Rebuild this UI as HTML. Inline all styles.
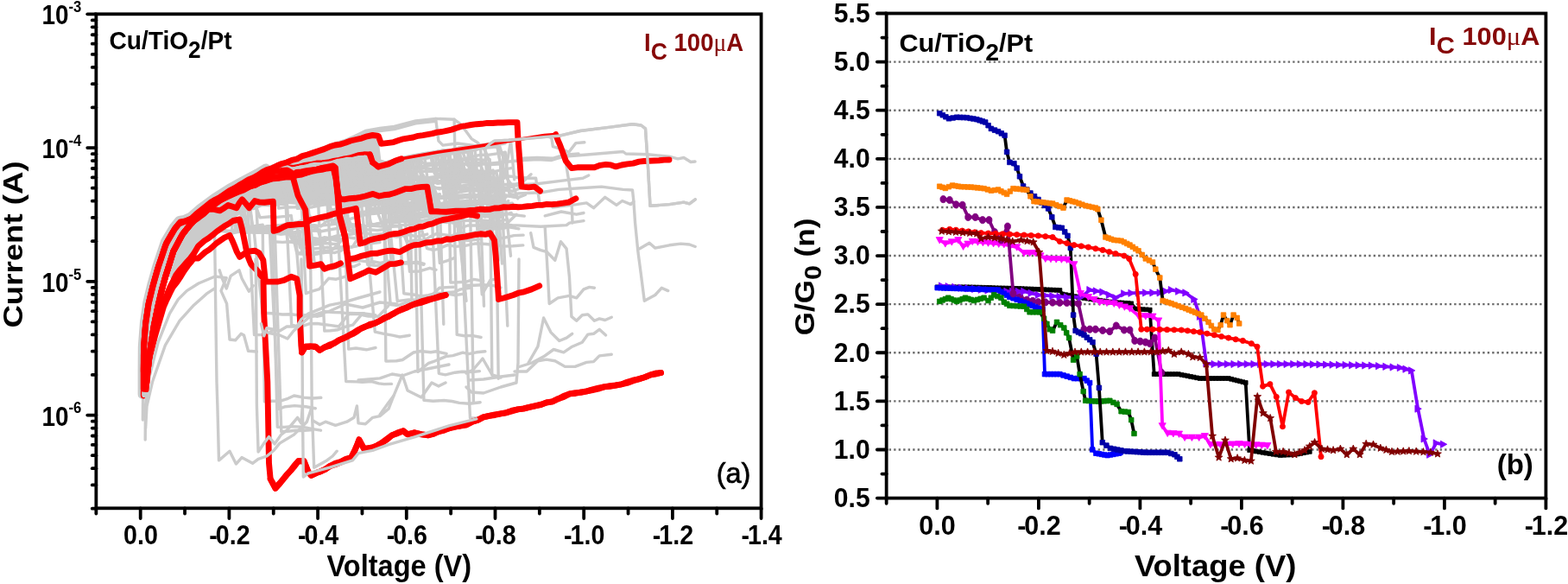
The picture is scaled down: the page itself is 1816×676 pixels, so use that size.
<!DOCTYPE html>
<html lang="en"><head><meta charset="utf-8"><title>Cu/TiO2/Pt I-V and conductance</title>
<style>html,body{margin:0;padding:0;background:#fff;overflow:hidden}svg{display:block}</style></head>
<body>
<svg width="1816" height="676" viewBox="0 0 1816 676">
<rect width="1816" height="676" fill="#fff"/>
<path d="M200.0 263.5 207.5 255.0 220.0 250.0 232.0 241.0 248.5 229.0 265.0 218.5 281.0 209.5 298.0 200.5 315.6 192.0 332.0 186.0 357.0 177.4 381.9 168.0 398.5 163.0 410.0 158.0 423.3 153.0 434.0 154.0 438.0 166.0 441.0 190.0 450.0 189.0 468.0 185.0 468.0 234.0 450.0 236.0 430.0 238.0 400.0 236.0 370.0 234.0 345.0 236.0 320.0 234.0 300.0 238.0 280.0 246.0 262.0 257.0 247.0 267.0 235.0 277.0 226.0 288.0 216.0 300.0 207.0 312.0 200.0 324.0 196.0 318.0 198.0 300.0 203.0 285.0 208.0 275.0z" fill="#cbcbcb" stroke="#cbcbcb" stroke-width="2" stroke-linejoin="round"/>
<path d="M165.1 456.4 165.1 428.4 165.3 401.4 167.4 373.4 170.8 350.4 176.1 328.4 181.8 308.4 191.4 279.8 201.1 263.5 207.6 255.4 213.8 254.4 220.6 251.4 232.0 241.4 248.3 229.4 264.8 218.9 280.9 209.9 297.9 200.9 307.8 194.9" fill="none" stroke="#cbcbcb" stroke-width="11.0" stroke-linejoin="round" stroke-linecap="round"/>
<path d="M168.4 458.0 169.5 446.0 170.5 434.0 171.8 422.0 173.1 410.1 174.7 398.2 176.5 386.3 178.5 374.4 180.9 362.6 183.4 350.8 186.2 339.1 189.2 327.5 192.6 315.9 196.2 304.4 199.8 292.9 205.1 282.2 210.8 271.6 218.4 262.3 226.8 253.8 236.2 246.3 245.8 239.0 255.7 232.1 266.6 227.1 277.8 223.0 280.0 264.7 291.0 264.5 300.8 264.1 307.1 264.8 315.5 265.4 321.3 494.2 329.7 494.4 337.2 493.6 348.9 494.1 355.0 495.1 362.3 496.6 371.5 498.2" fill="none" stroke="#cbcbcb" stroke-width="3.4" stroke-linejoin="round" stroke-linecap="round"/>
<path d="M168.2 458.0 169.1 446.0 170.0 433.9 171.1 421.9 172.4 409.9 173.8 397.9 175.5 385.9 177.4 374.0 179.7 362.2 182.2 350.3 185.0 338.6 188.1 326.9 191.5 315.3 195.1 303.8 198.7 292.3 204.0 281.5 209.8 270.9 217.5 261.7 226.3 253.6 235.7 246.0 245.3 238.8 255.2 231.9 266.1 226.7 277.3 222.2 288.7 218.4 300.3 215.5 311.9 212.1 323.4 208.6 342.3 198.6 351.1 196.2 358.4 193.7 366.2 193.4 373.4 192.8 379.9 190.3 386.4 190.3 394.6 188.2 404.1 226.7 411.7 225.9 418.5 225.7 429.2 224.5 437.8 223.6 448.5 223.4 456.7 237.0 463.6 233.1 470.7 223.5 481.5 221.7 490.8 223.3 502.9 216.7 509.2 218.8" fill="none" stroke="#cbcbcb" stroke-width="3.4" stroke-linejoin="round" stroke-linecap="round"/>
<path d="M166.7 458.0 166.8 445.6 167.0 433.3 167.3 421.0 167.6 408.6 168.3 396.3 169.4 384.0 170.7 371.7 172.6 359.5 175.0 347.4 177.9 335.3 181.1 323.4 184.4 311.5 188.3 299.8 192.2 288.1 197.4 276.9 203.7 266.3 212.0 257.6 223.0 252.8 232.4 244.7 242.2 237.2 252.3 230.1 262.8 223.7 273.6 217.7 284.6 212.1 295.7 206.9 306.6 201.2 318.0 196.5 329.7 192.5 339.4 195.6 349.6 194.2 357.9 192.4 367.3 189.7 376.5 189.5 385.6 188.5 396.0 185.6 403.4 183.8 414.3 183.4 423.9 181.7 432.9 184.0 442.1 188.4 451.8 188.4 461.9 184.3 468.4 182.8 478.5 181.3 480.9 249.4 493.9 248.5 504.0 247.6 513.9 247.7 526.1 247.4 529.2 387.4 538.0 388.8 546.7 388.4 557.1 390.5" fill="none" stroke="#cbcbcb" stroke-width="3.4" stroke-linejoin="round" stroke-linecap="round"/>
<path d="M166.6 458.0 166.7 445.6 166.8 433.3 167.0 420.9 167.3 408.5 168.0 396.2 169.0 383.9 170.3 371.6 172.2 359.3 174.5 347.2 177.4 335.2 180.6 323.2 184.0 311.3 187.9 299.5 191.8 287.8 197.0 276.7 203.3 266.0 211.6 257.4 222.8 252.7 232.2 244.6 242.0 237.2 252.1 230.0 262.6 223.5 273.4 217.5 284.4 211.8 295.4 206.3 306.3 200.5 317.6 195.7 329.3 191.7 338.1 201.2 348.5 197.9 354.9 197.2 361.7 195.4 373.0 194.7 379.7 192.1 387.1 192.3 393.8 224.9 401.7 224.8 410.6 224.8 416.3 246.7 426.2 244.2 436.3 243.7 444.0 241.5 456.2 240.6 464.3 237.8 472.1 240.0 483.8 236.7 496.7 235.9" fill="none" stroke="#cbcbcb" stroke-width="3.4" stroke-linejoin="round" stroke-linecap="round"/>
<path d="M166.3 458.0 166.4 445.6 166.4 433.2 166.5 420.8 166.6 408.3 167.2 396.0 168.2 383.6 169.4 371.2 171.2 359.0 173.5 346.8 176.4 334.7 179.6 322.7 183.0 310.8 186.9 299.0 190.9 287.2 196.1 276.0 202.4 265.3 210.9 256.8 222.4 252.6 231.7 244.4 241.6 236.9 251.7 229.7 262.2 223.1 272.9 216.8 283.8 210.9 294.8 205.1 305.6 199.0 316.9 194.0 328.6 189.8 339.8 200.7 347.1 198.3 357.4 197.0 363.5 194.6 374.9 192.8 384.8 191.6 394.7 190.9 404.2 188.2 412.1 187.6 421.9 185.9 430.7 187.2 438.3 191.5 446.1 209.8 459.0 207.7 467.9 206.2 480.9 207.2 487.2 207.6 497.0 208.4 505.8 236.8 516.6 235.8 523.7 232.5 529.8 217.7 540.8 217.2 551.8 218.7" fill="none" stroke="#cbcbcb" stroke-width="3.4" stroke-linejoin="round" stroke-linecap="round"/>
<path d="M167.0 458.0 167.3 445.7 167.6 433.4 168.1 421.2 168.6 408.9 169.5 396.6 170.7 384.4 172.2 372.2 174.2 360.1 176.5 348.0 179.4 336.0 182.6 324.2 185.9 312.3 189.8 300.6 193.6 289.0 198.8 277.9 205.0 267.2 213.2 258.5 223.7 253.0 233.1 245.0 242.9 237.6 252.9 230.5 263.5 224.3 274.4 218.7 285.5 213.5 296.7 208.7 307.7 203.5 319.1 199.1 338.0 201.1 345.8 199.0 353.8 196.1 361.9 195.6 368.8 194.4 376.9 192.2 385.5 191.2 394.3 190.6 405.8 187.2 417.7 186.5 429.5 186.5 438.6 191.5 450.2 193.3 460.0 188.3 470.9 186.8 479.7 231.6 490.4 229.3 499.9 229.0 511.7 228.8 524.4 229.5 535.3 229.0 543.3 227.3 550.1 227.8 558.3 340.8 567.9 324.1 576.2 322.9" fill="none" stroke="#cbcbcb" stroke-width="3.4" stroke-linejoin="round" stroke-linecap="round"/>
<path d="M167.6 458.0 168.2 445.8 168.9 433.7 169.7 421.5 170.5 409.4 171.7 397.3 173.2 385.2 174.9 373.1 177.0 361.1 179.5 349.2 182.3 337.4 185.4 325.6 188.8 313.9 192.5 302.3 196.2 290.7 201.5 279.7 207.5 269.1 215.4 260.2 225.0 253.3 234.4 245.5 244.1 238.2 254.1 231.2 264.8 225.5 275.9 220.5 287.1 216.0 298.6 212.2 309.9 208.0 321.3 204.0 338.8 200.1 349.8 195.9 360.6 195.1 367.7 194.3 375.9 192.1 385.8 190.9 396.3 188.2 405.2 186.3 412.9 186.0 419.3 184.9 430.2 184.9 439.3 198.6 447.5 198.2 456.6 198.0 462.8 212.9 470.5 210.8 478.7 208.0 486.6 209.6" fill="none" stroke="#cbcbcb" stroke-width="3.4" stroke-linejoin="round" stroke-linecap="round"/>
<path d="M167.8 458.0 168.6 445.9 169.3 433.8 170.2 421.7 171.3 409.6 172.5 397.5 174.1 385.5 175.9 373.5 178.1 361.5 180.5 349.7 183.4 337.8 186.5 326.1 189.8 314.4 193.6 302.9 197.2 291.3 202.5 280.4 208.4 269.8 216.3 260.8 225.5 253.4 234.9 245.7 244.6 238.4 254.5 231.4 265.3 226.0 276.4 221.2 287.7 217.0 299.3 213.5 310.7 209.6 322.1 205.8 343.5 196.2 352.4 193.5 359.2 193.4 369.7 190.3 379.3 189.8 390.7 186.9 398.6 185.3 408.1 185.2 418.5 182.2 426.8 181.0 433.7 185.5 440.7 189.2 448.1 189.2 459.2 185.6 468.9 183.3 476.7 181.7 487.3 180.8 497.7 179.0 508.1 176.0 515.5 175.4 525.2 174.4 534.4 222.0 545.0 220.4 554.5 221.0 564.1 220.1 574.4 219.5 577.2 438.3" fill="none" stroke="#cbcbcb" stroke-width="3.4" stroke-linejoin="round" stroke-linecap="round"/>
<path d="M167.2 458.0 167.6 445.8 168.0 433.5 168.6 421.3 169.2 409.0 170.2 396.8 171.5 384.7 173.0 372.5 175.1 360.4 177.5 348.4 180.3 336.5 183.5 324.6 186.8 312.8 190.7 301.2 194.4 289.5 199.7 278.5 205.8 267.8 213.9 259.0 224.1 253.1 233.5 245.2 243.3 237.8 253.3 230.7 263.9 224.7 274.9 219.3 286.0 214.3 297.3 209.8 308.4 204.9 319.8 200.6 342.0 195.4 349.7 193.3 356.1 191.9 363.4 191.9 370.5 189.5 382.1 189.1 388.7 186.7 400.6 184.7 410.4 183.8 420.3 181.3 430.6 183.5 439.3 188.4 449.6 189.6 461.3 184.3 471.8 182.4 483.8 181.2 492.7 179.4 504.0 175.7 512.4 176.1 514.0 213.6 523.1 211.1 533.3 208.8 544.8 209.3 552.2 207.4 561.7 251.0 574.3 233.9 584.8 235.0" fill="none" stroke="#cbcbcb" stroke-width="3.4" stroke-linejoin="round" stroke-linecap="round"/>
<path d="M167.4 458.0 168.0 445.8 168.5 433.6 169.2 421.4 170.0 409.3 171.1 397.1 172.5 385.0 174.1 372.9 176.2 360.8 178.6 348.9 181.5 337.0 184.6 325.2 188.0 313.4 191.8 301.8 195.5 290.2 200.8 279.2 206.8 268.6 214.8 259.7 224.7 253.2 234.0 245.4 243.8 238.0 253.8 231.0 264.5 225.2 275.5 220.0 286.7 215.3 298.1 211.3 309.3 206.7 320.7 202.6 338.8 196.3 347.8 196.0 357.1 193.1 367.9 191.1 375.5 190.7 382.5 189.7 393.8 187.0 402.9 184.4 410.0 184.8 420.4 183.1 427.2 182.5 439.1 190.1 449.1 189.3 457.6 186.2 463.9 185.7 472.3 182.8 481.2 182.4 485.1 229.4 494.9 228.6 505.6 228.3 515.7 229.2 527.1 228.6 540.0 348.4" fill="none" stroke="#cbcbcb" stroke-width="3.4" stroke-linejoin="round" stroke-linecap="round"/>
<path d="M166.4 458.0 166.5 445.6 166.6 433.2 166.7 420.8 166.9 408.4 167.6 396.1 168.6 383.7 169.8 371.4 171.7 359.1 174.0 347.0 176.9 334.9 180.1 322.9 183.5 311.0 187.4 299.3 191.3 287.5 196.5 276.3 202.8 265.6 211.2 257.1 222.6 252.7 231.9 244.5 241.8 237.0 251.9 229.8 262.4 223.3 273.1 217.1 284.1 211.3 295.1 205.7 298.2 263.0 307.4 263.8 314.0 262.6 320.2 263.3 327.3 262.7 336.3 262.7 344.2 262.3 347.2 286.5 358.3 288.3 370.4 287.4 379.6 286.3 386.8 287.9 399.0 286.3 408.2 285.8 418.6 269.7" fill="none" stroke="#cbcbcb" stroke-width="3.4" stroke-linejoin="round" stroke-linecap="round"/>
<path d="M166.7 458.0 166.8 445.7 167.0 433.3 167.3 421.0 167.6 408.6 168.3 396.3 169.4 384.0 170.8 371.7 172.7 359.5 175.0 347.4 177.9 335.4 181.1 323.4 184.5 311.5 188.4 299.8 192.2 288.1 197.5 277.0 203.7 266.3 212.0 257.7 223.0 252.8 232.4 244.7 242.2 237.3 252.3 230.1 262.8 223.7 273.7 217.8 284.6 212.2 295.7 206.9 306.6 201.3 318.0 196.5 329.7 192.6 337.0 201.1 345.9 198.0 355.6 195.4 362.8 194.6 370.2 194.0 378.7 192.1 386.3 190.4 396.6 189.9 404.7 188.3 412.6 187.2 420.0 185.8 428.5 185.7 439.1 191.2 445.7 192.3 452.9 190.6 464.7 188.1 470.8 185.1 480.5 185.2 491.9 182.6 496.3 217.3 508.8 217.8 519.9 218.5 527.1 218.5 536.2 219.6 544.8 220.0 546.6 242.3 559.1 242.8 571.8 244.9 578.7 245.3 588.7 232.5" fill="none" stroke="#cbcbcb" stroke-width="3.4" stroke-linejoin="round" stroke-linecap="round"/>
<path d="M166.8 458.0 167.0 445.7 167.2 433.3 167.6 421.0 167.9 408.7 168.7 396.4 169.9 384.1 171.2 371.9 173.2 359.7 175.5 347.6 178.4 335.6 181.6 323.7 185.0 311.8 188.8 300.1 192.7 288.4 197.9 277.3 204.1 266.6 212.4 257.9 223.3 252.9 232.6 244.8 242.5 237.4 252.5 230.2 263.1 223.9 273.9 218.1 284.9 212.6 296.1 207.5 307.0 202.0 318.4 197.4 338.1 198.6 349.5 196.2 356.5 193.6 365.2 192.4 377.0 191.3 385.8 189.1 393.2 188.2 404.7 185.3 413.4 184.5 423.1 183.1 429.5 184.2 437.3 189.4 448.8 190.6 460.2 187.6 466.6 184.6 471.3 193.8 483.6 194.9 493.2 194.8 500.2 195.7 507.7 195.6 519.8 195.0 521.8 327.0 529.4 326.8 539.2 326.3 548.8 323.4 559.7 325.1" fill="none" stroke="#cbcbcb" stroke-width="3.4" stroke-linejoin="round" stroke-linecap="round"/>
<path d="M168.2 458.0 169.2 446.0 170.1 433.9 171.2 421.9 172.5 409.9 174.0 397.9 175.7 386.0 177.6 374.1 179.9 362.2 182.4 350.4 185.2 338.7 188.3 327.0 191.6 315.4 195.3 303.9 198.9 292.4 204.2 281.6 210.0 271.0 217.7 261.8 226.4 253.7 235.8 246.1 245.4 238.8 255.3 231.9 266.1 226.7 277.4 222.4 288.8 218.6 300.5 215.8 312.0 212.4 323.5 208.9 345.1 193.5 354.4 191.9 365.7 191.0 373.5 189.3 382.4 187.3 391.0 186.0 399.8 185.5 410.2 182.0 418.3 182.8 428.9 181.5 438.8 188.2 445.8 188.2 453.4 186.4 463.6 182.7 470.6 182.5 482.0 179.6 493.1 178.7 500.0 177.6 507.1 175.4 513.6 173.7 523.5 173.7 530.2 171.7 539.9 170.8 546.7 169.9 553.3 169.4 563.3 167.3 574.9 164.6 581.5 199.1 591.4 212.2" fill="none" stroke="#cbcbcb" stroke-width="3.4" stroke-linejoin="round" stroke-linecap="round"/>
<path d="M167.4 458.0 168.0 445.8 168.5 433.6 169.2 421.4 170.0 409.3 171.1 397.1 172.5 385.0 174.1 372.9 176.2 360.8 178.6 348.9 181.5 337.0 184.6 325.2 188.0 313.4 191.8 301.8 195.5 290.2 200.8 279.2 206.8 268.6 214.8 259.7 224.7 253.2 234.0 245.4 243.8 238.0 253.8 231.0 264.5 225.2 275.5 220.0 286.7 215.3 298.1 211.2 309.3 206.7 320.7 202.6 337.3 196.7 347.0 194.4 358.9 192.8 366.7 190.3 377.7 190.3 385.7 187.4 397.6 186.8 406.4 183.7 416.9 184.1 424.7 181.9 435.9 187.5 447.4 189.6 454.8 188.5 465.7 184.8 473.7 182.2 478.2 240.4 484.4 242.3 492.1 242.1 504.9 240.1 509.3 304.5 518.5 301.6 526.1 298.7" fill="none" stroke="#cbcbcb" stroke-width="3.4" stroke-linejoin="round" stroke-linecap="round"/>
<path d="M166.6 458.0 166.7 445.6 166.8 433.3 167.1 420.9 167.3 408.5 168.0 396.2 169.1 383.9 170.4 371.6 172.2 359.3 174.6 347.2 177.5 335.2 180.7 323.2 184.1 311.3 187.9 299.6 191.8 287.8 197.1 276.7 203.3 266.0 211.7 257.4 222.8 252.7 232.2 244.6 242.1 237.2 252.1 230.0 262.7 223.5 273.4 217.5 284.4 211.8 295.5 206.4 306.3 200.6 317.7 195.8 329.4 191.8 336.5 199.9 343.2 199.7 354.4 197.7 364.4 195.1 374.6 193.3 383.8 191.1 390.1 191.4 396.1 226.9 405.7 227.0 415.5 227.2 427.0 227.6 430.7 302.4 440.4 304.5 451.4 302.1 460.3 303.7 471.2 304.8 481.5 304.2 490.6 306.3" fill="none" stroke="#cbcbcb" stroke-width="3.4" stroke-linejoin="round" stroke-linecap="round"/>
<path d="M168.0 458.0 168.8 445.9 169.6 433.8 170.6 421.8 171.6 409.7 173.0 397.7 174.6 385.7 176.4 373.7 178.7 361.8 181.1 349.9 183.9 338.1 187.1 326.4 190.4 314.7 194.1 303.2 197.8 291.6 203.0 280.8 208.9 270.2 216.7 261.1 225.8 253.5 235.2 245.8 244.9 238.6 254.8 231.6 265.6 226.2 276.7 221.6 288.1 217.5 299.7 214.2 311.1 210.5 322.6 206.8 342.5 198.0 352.4 197.3 361.3 194.9 368.7 193.6 378.2 193.1 387.7 190.6 395.6 189.8 403.5 187.0 412.8 186.6 423.8 185.0 433.9 188.3 442.9 191.6 451.6 191.0 460.1 188.3 470.3 185.9 478.7 184.4 488.5 182.6 499.1 181.3 507.1 179.6 516.9 177.0 525.4 176.3 533.5 175.3 545.3 174.2 553.1 171.6 563.6 170.7 569.8 169.5 576.8 169.8 582.9 180.3 582.9 203.8 592.2 204.2 601.5 206.0 611.4 206.0" fill="none" stroke="#cbcbcb" stroke-width="3.4" stroke-linejoin="round" stroke-linecap="round"/>
<path d="M166.6 458.0 166.7 445.6 166.8 433.3 167.0 420.9 167.3 408.5 168.0 396.2 169.0 383.8 170.3 371.6 172.2 359.3 174.5 347.2 177.4 335.1 180.6 323.2 184.0 311.3 187.9 299.5 191.8 287.8 197.0 276.6 203.3 266.0 211.6 257.4 222.8 252.7 232.2 244.6 242.0 237.1 252.1 230.0 262.6 223.5 273.4 217.5 284.3 211.7 295.4 206.3 306.3 200.5 317.6 195.7 329.3 191.7 336.3 197.2 343.3 195.7 350.0 194.5 359.4 192.0 370.2 189.7 382.1 188.7 389.1 187.3 397.6 185.0 407.8 184.6 417.4 183.4 428.8 182.2 438.1 189.3 449.4 188.6 456.1 188.0 465.8 183.1 473.1 182.4 481.5 180.7 489.4 179.9 500.9 178.0 512.5 174.7 520.2 175.4 529.8 172.8 537.3 172.7 549.3 170.5 559.9 169.1 568.4 190.5 579.5 189.8 587.8 377.1" fill="none" stroke="#cbcbcb" stroke-width="3.4" stroke-linejoin="round" stroke-linecap="round"/>
<path d="M168.3 458.0 169.2 446.0 170.2 434.0 171.4 422.0 172.7 410.0 174.2 398.0 175.9 386.1 177.9 374.2 180.2 362.3 182.7 350.5 185.5 338.8 188.6 327.1 191.9 315.6 195.6 304.1 199.1 292.5 204.5 281.7 210.2 271.2 217.9 262.0 226.5 253.7 235.9 246.1 245.5 238.9 255.4 232.0 266.3 226.9 277.5 222.5 288.9 218.8 300.6 216.1 312.2 212.8 323.7 209.4 337.4 199.2 348.0 196.8 359.3 194.9 368.4 193.5 377.8 191.9 388.7 190.4 397.8 187.4 405.0 186.3 416.3 186.5 424.6 185.0 430.9 186.7 437.3 190.9 447.2 192.4 458.7 253.2 466.6 254.6 472.6 252.2 478.7 252.8 487.2 251.0 494.4 249.4 501.0 248.6 512.4 248.2 519.3 249.3 528.9 249.9 534.6 274.1 545.8 270.7 554.7 267.4 562.2 261.9 574.3 264.4" fill="none" stroke="#cbcbcb" stroke-width="3.4" stroke-linejoin="round" stroke-linecap="round"/>
<path d="M167.8 458.0 168.6 445.9 169.3 433.8 170.3 421.7 171.3 409.6 172.6 397.5 174.2 385.5 175.9 373.5 178.2 361.6 180.6 349.7 183.4 337.9 186.5 326.1 189.9 314.5 193.6 302.9 197.3 291.3 202.6 280.4 208.5 269.8 216.3 260.8 225.6 253.5 234.9 245.8 244.6 238.4 254.6 231.5 265.3 226.0 276.5 221.2 287.8 217.0 299.3 213.6 310.7 209.7 322.2 205.9 340.0 200.1 351.8 197.5 360.4 194.7 369.0 195.2 380.9 192.0 391.8 189.9 401.3 188.6 408.8 187.5 419.2 186.6 427.3 184.5 430.6 209.9 439.7 207.9 449.0 227.8 457.2 229.7 464.5 227.5 471.8 226.1 480.5 225.6" fill="none" stroke="#cbcbcb" stroke-width="3.4" stroke-linejoin="round" stroke-linecap="round"/>
<path d="M168.4 458.0 169.5 446.0 170.5 434.0 171.8 422.1 173.2 410.1 174.7 398.2 176.6 386.3 178.5 374.4 180.9 362.6 183.4 350.8 186.2 339.1 189.3 327.5 192.6 315.9 196.3 304.5 199.8 293.0 205.1 282.2 210.9 271.6 218.5 262.4 226.8 253.8 236.2 246.3 245.8 239.1 255.7 232.2 266.6 227.2 277.9 223.0 289.4 219.5 301.1 217.0 312.7 213.9 324.3 210.6 343.1 197.6 352.7 196.1 359.2 194.3 366.6 192.1 374.5 191.9 386.1 189.9 394.0 187.3 401.8 186.1 410.8 185.3 417.5 183.9 428.7 184.0 435.3 188.7 444.0 190.6 454.8 189.3 463.5 185.9 472.7 184.8 483.0 181.5 490.3 206.9 502.6 205.8 511.5 205.2 519.3 203.6 532.3 203.2 543.9 204.2 553.8 202.7 560.0 228.4 572.2 230.2" fill="none" stroke="#cbcbcb" stroke-width="3.4" stroke-linejoin="round" stroke-linecap="round"/>
<path d="M167.3 458.0 167.8 445.8 168.3 433.6 168.9 421.4 169.6 409.1 170.6 397.0 172.0 384.8 173.6 372.7 175.7 360.6 178.0 348.6 180.9 336.7 184.0 324.9 187.4 313.1 191.2 301.5 195.0 289.8 200.2 278.8 206.3 268.2 214.3 259.4 224.4 253.2 233.8 245.3 243.5 237.9 253.5 230.8 264.2 224.9 275.2 219.6 286.3 214.8 297.7 210.5 308.8 205.8 320.3 201.6 338.2 197.1 347.8 194.2 359.5 191.1 370.6 189.7 380.6 189.3 391.5 186.6 402.3 183.5 410.9 183.9 421.4 181.7 428.8 181.1 437.3 186.4 449.0 188.8 458.1 185.1 466.1 183.1 472.9 181.7 481.1 181.0 492.6 177.4 499.4 177.9 505.5 175.6 514.8 174.7 522.2 174.0 532.4 171.0 542.7 170.2 551.7 169.2 561.6 168.2 563.8 206.1 572.2 207.8 580.9 236.0" fill="none" stroke="#cbcbcb" stroke-width="3.4" stroke-linejoin="round" stroke-linecap="round"/>
<path d="M166.6 458.0 166.7 445.6 166.9 433.3 167.1 420.9 167.4 408.5 168.1 396.2 169.1 383.9 170.4 371.6 172.3 359.4 174.6 347.2 177.5 335.2 180.7 323.3 184.1 311.4 188.0 299.6 191.9 287.9 197.1 276.7 203.4 266.1 211.7 257.5 222.9 252.7 232.2 244.6 242.1 237.2 252.2 230.0 262.7 223.5 273.5 217.5 284.4 211.8 295.5 206.5 306.4 200.7 317.7 195.9 329.4 191.9 339.0 197.8 350.6 196.1 361.1 193.3 372.2 192.2 381.7 189.5 390.4 189.6 399.8 186.8 409.5 184.7 417.5 185.0 426.3 183.0 438.2 189.9 446.9 189.9 456.5 188.4 464.1 186.7 471.9 217.3 481.1 215.6 489.7 216.8 500.0 217.9 506.2 248.6 516.4 249.2 525.7 247.5 537.5 248.1 550.5 249.8" fill="none" stroke="#cbcbcb" stroke-width="3.4" stroke-linejoin="round" stroke-linecap="round"/>
<path d="M168.5 458.0 169.5 446.0 170.6 434.0 171.9 422.1 173.3 410.1 174.9 398.2 176.8 386.3 178.8 374.5 181.2 362.7 183.7 350.9 186.4 339.2 189.5 327.6 192.9 316.1 196.5 304.6 200.0 293.1 205.3 282.4 211.1 271.8 218.7 262.5 226.9 253.8 236.3 246.3 245.9 239.1 255.8 232.2 266.7 227.3 278.0 223.1 289.5 219.6 301.3 217.2 312.9 214.3 324.5 211.0 339.4 195.0 350.8 192.4 360.0 190.9 371.2 188.9 379.2 188.1 386.7 186.1 395.3 184.7 404.9 182.9 412.8 182.6 424.2 180.4 431.0 183.4 437.2 187.7 443.4 219.1 455.7 218.4 463.2 217.9 474.8 217.1 486.2 217.2 497.0 239.2 509.4 239.6 515.6 236.7 528.0 233.9 536.8 233.3" fill="none" stroke="#cbcbcb" stroke-width="3.4" stroke-linejoin="round" stroke-linecap="round"/>
<path d="M167.8 458.0 168.5 445.9 169.2 433.7 170.1 421.6 171.0 409.5 172.3 397.5 173.9 385.4 175.6 373.4 177.8 361.4 180.2 349.5 183.0 337.7 186.2 326.0 189.5 314.3 193.3 302.7 196.9 291.1 202.2 280.2 208.1 269.6 216.0 260.6 225.4 253.4 234.8 245.7 244.5 238.4 254.4 231.4 265.2 225.8 276.3 221.0 287.6 216.7 293.1 241.7 303.2 237.4 310.4 237.6 316.5 236.8 324.1 235.9 331.1 236.9 337.7 376.2 347.4 378.3 358.0 374.8 367.3 374.5 374.3 375.5 383.5 376.6 392.3 378.0 404.8 362.4 412.5 362.8 421.8 362.6" fill="none" stroke="#cbcbcb" stroke-width="3.4" stroke-linejoin="round" stroke-linecap="round"/>
<path d="M166.9 458.0 167.2 445.7 167.5 433.4 167.9 421.1 168.3 408.8 169.2 396.5 170.3 384.3 171.8 372.1 173.7 359.9 176.1 347.8 179.0 335.9 182.1 324.0 185.5 312.1 189.4 300.4 193.2 288.7 198.4 277.6 204.6 267.0 212.8 258.3 223.5 252.9 232.9 244.9 242.7 237.5 252.7 230.4 263.3 224.1 274.2 218.4 285.2 213.1 296.4 208.2 307.4 202.9 318.8 198.4 337.0 200.2 347.4 198.0 357.1 196.4 363.1 195.5 370.0 194.0 381.0 192.6 391.5 190.0 400.4 188.2 409.4 186.7 420.9 185.5 425.8 208.0 438.5 208.5 445.7 206.7 454.0 247.8 460.9 247.2 471.3 245.3 482.6 243.8" fill="none" stroke="#cbcbcb" stroke-width="3.4" stroke-linejoin="round" stroke-linecap="round"/>
<path d="M166.8 458.0 167.0 445.7 167.2 433.3 167.6 421.0 168.0 408.7 168.8 396.4 169.9 384.1 171.3 371.9 173.2 359.7 175.5 347.6 178.4 335.6 181.6 323.7 185.0 311.8 188.9 300.1 192.7 288.4 198.0 277.3 204.2 266.6 212.4 258.0 223.3 252.9 232.6 244.8 242.5 237.4 252.5 230.2 263.1 223.9 273.9 218.1 284.9 212.6 296.1 207.6 307.0 202.1 318.4 197.5 336.6 199.3 345.4 197.0 352.4 194.8 362.1 192.7 372.2 192.1 380.4 191.3 388.7 189.1 399.5 187.3 402.1 196.2 411.7 195.9 420.5 195.3 428.2 195.7 432.9 228.2 443.2 225.3 449.3 223.7 455.9 223.4 465.1 223.0" fill="none" stroke="#cbcbcb" stroke-width="3.4" stroke-linejoin="round" stroke-linecap="round"/>
<path d="M168.2 458.0 169.1 446.0 170.0 433.9 171.1 421.9 172.3 409.9 173.8 397.9 175.5 385.9 177.4 374.0 179.7 362.1 182.2 350.3 184.9 338.6 188.1 326.9 191.4 315.3 195.1 303.8 198.7 292.2 204.0 281.4 209.8 270.8 217.5 261.7 226.2 253.6 235.6 246.0 245.3 238.8 255.2 231.8 266.0 226.6 277.2 222.2 288.6 218.4 300.3 215.5 311.8 212.0 323.3 208.5 342.5 194.3 348.6 194.6 357.1 191.5 367.1 191.0 369.7 261.4 382.0 260.1 394.5 258.4 404.6 255.7 415.7 278.3 426.7 276.9 436.2 274.1 442.6 271.4 451.6 272.5 459.4 274.0 472.0 271.6 483.6 273.9 494.8 271.1" fill="none" stroke="#cbcbcb" stroke-width="3.4" stroke-linejoin="round" stroke-linecap="round"/>
<path d="M166.9 458.0 167.2 445.7 167.5 433.4 167.9 421.1 168.4 408.8 169.3 396.6 170.5 384.3 171.9 372.1 173.9 360.0 176.2 347.9 179.1 335.9 182.3 324.0 185.7 312.2 189.5 300.5 193.3 288.8 198.6 277.7 204.7 267.1 212.9 258.3 223.6 252.9 232.9 244.9 242.8 237.5 252.8 230.4 259.9 266.5 266.6 268.3 274.3 268.3 284.2 266.8 292.3 267.8 303.3 266.1 312.1 266.4 320.3 265.5 331.1 263.5 338.3 277.4 349.7 277.5 361.1 278.4 369.4 276.8 375.5 274.8 387.1 276.4 398.9 276.9" fill="none" stroke="#cbcbcb" stroke-width="3.4" stroke-linejoin="round" stroke-linecap="round"/>
<path d="M168.1 458.0 168.9 445.9 169.8 433.9 170.8 421.8 172.0 409.8 173.4 397.8 175.0 385.8 176.9 373.8 179.2 361.9 181.6 350.1 184.4 338.3 187.5 326.6 190.9 315.0 194.6 303.5 198.2 291.9 203.5 281.1 209.3 270.5 217.1 261.4 226.0 253.6 235.4 245.9 245.1 238.7 255.0 231.7 265.8 226.4 277.0 221.9 288.3 217.9 300.0 214.8 311.4 211.2 322.9 207.6 341.3 198.8 352.6 196.5 362.4 193.2 373.3 191.2 382.6 189.7 393.3 188.7 404.0 185.9 414.4 185.8 421.2 183.5 427.6 183.0 438.0 189.3 449.6 190.8 457.1 187.9 463.7 186.3 470.0 185.3 477.9 182.9 486.8 182.2 497.9 179.1 506.9 177.6 515.6 233.7 527.2 232.5 539.5 233.6 547.8 233.8 557.4 234.0 568.7 232.6 572.5 264.0 581.9 264.5 589.3 262.5 596.3 262.2" fill="none" stroke="#cbcbcb" stroke-width="3.4" stroke-linejoin="round" stroke-linecap="round"/>
<path d="M168.5 458.0 169.6 446.0 170.6 434.0 171.9 422.1 173.3 410.1 174.9 398.2 176.8 386.4 178.8 374.5 181.2 362.7 183.7 350.9 186.5 339.2 189.5 327.6 192.9 316.1 196.5 304.6 200.0 293.1 205.4 282.4 211.1 271.8 218.7 262.5 226.9 253.8 236.3 246.3 245.9 239.1 255.8 232.2 266.7 227.3 278.0 223.1 289.5 219.7 301.3 217.3 312.9 214.3 324.5 211.0 342.6 198.0 352.4 194.3 359.9 193.3 371.7 192.2 380.9 190.8 387.6 189.6 397.5 186.9 405.6 185.8 417.4 184.2 423.5 184.3 434.7 187.3 445.1 191.8 453.4 189.8 462.7 186.5 471.9 185.0 483.5 183.1 491.4 189.5 498.3 189.3 507.4 188.9 519.6 186.9 530.9 185.2 539.3 185.1 551.8 184.6 559.6 185.3 567.2 184.5 569.8 434.0" fill="none" stroke="#cbcbcb" stroke-width="3.4" stroke-linejoin="round" stroke-linecap="round"/>
<path d="M167.7 458.0 168.4 445.9 169.0 433.7 169.9 421.6 170.8 409.5 172.0 397.4 173.6 385.3 175.3 373.3 177.5 361.3 179.9 349.4 182.7 337.5 185.8 325.8 189.2 314.1 192.9 302.5 196.6 290.9 201.9 280.0 207.9 269.4 215.8 260.4 225.2 253.4 234.6 245.6 244.3 238.3 254.3 231.3 265.0 225.7 276.1 220.8 287.4 216.4 298.9 212.7 310.2 208.6 321.6 204.7 338.8 196.8 347.1 196.2 355.2 193.8 361.8 191.6 372.0 190.9 382.3 189.0 391.3 186.9 398.6 185.3 405.4 229.0 417.1 229.1 428.3 230.4 437.8 228.4 444.9 226.8 446.9 418.1 459.1 417.7 466.2 416.5 478.9 408.0 487.2 406.5 498.9 407.7 505.3 406.8 517.1 409.4" fill="none" stroke="#cbcbcb" stroke-width="3.4" stroke-linejoin="round" stroke-linecap="round"/>
<path d="M167.4 458.0 167.9 445.8 168.4 433.6 169.1 421.4 169.8 409.2 170.9 397.0 172.3 384.9 173.9 372.8 176.0 360.8 178.4 348.8 181.2 336.9 184.4 325.1 187.8 313.3 191.5 301.7 195.3 290.1 200.6 279.1 206.6 268.4 214.6 259.6 224.6 253.2 233.9 245.3 243.7 238.0 253.7 230.9 264.4 225.1 276.1 266.1 287.7 267.1 293.9 265.2 304.1 362.2 315.3 362.8 327.2 364.0 336.9 363.7 345.6 364.9 357.2 364.8 367.9 366.2 374.4 364.9" fill="none" stroke="#cbcbcb" stroke-width="3.4" stroke-linejoin="round" stroke-linecap="round"/>
<path d="M166.5 458.0 166.6 445.6 166.7 433.2 166.9 420.9 167.2 408.5 167.8 396.1 168.9 383.8 170.2 371.5 172.0 359.3 174.4 347.1 177.3 335.1 180.5 323.1 183.9 311.2 187.7 299.5 191.7 287.7 196.9 276.5 203.2 265.9 211.5 257.3 222.8 252.7 232.1 244.6 242.0 237.1 252.0 229.9 262.6 223.4 273.3 217.4 284.3 211.6 295.3 206.1 306.2 200.3 317.5 195.5 329.2 191.4 338.1 198.8 348.9 195.6 358.2 194.1 368.5 193.1 378.9 191.4 388.9 188.4 396.6 186.5 405.6 185.2 413.4 184.2 419.4 184.6 427.4 183.4 438.8 189.7 448.2 189.8 455.0 189.2 461.5 187.6 469.0 185.5 480.0 193.1 490.8 192.3 499.5 191.0 509.8 190.6 516.0 189.3 524.8 188.2 535.0 189.3 544.3 190.1 553.8 261.5 565.3 262.7 572.0 263.5 579.4 261.0 586.6 259.4 598.0 248.2" fill="none" stroke="#cbcbcb" stroke-width="3.4" stroke-linejoin="round" stroke-linecap="round"/>
<path d="M166.8 458.0 167.0 445.7 167.2 433.3 167.5 421.0 167.9 408.7 168.7 396.4 169.8 384.1 171.2 371.9 173.1 359.7 175.5 347.6 178.4 335.6 181.6 323.7 184.9 311.8 188.8 300.1 192.7 288.4 197.9 277.3 204.1 266.6 212.4 257.9 223.3 252.8 232.6 244.8 242.4 237.4 252.5 230.2 263.1 223.9 273.9 218.1 284.9 212.6 296.0 207.5 307.0 202.0 318.4 197.3 337.5 199.2 347.9 196.7 354.1 195.2 360.8 193.1 369.7 191.5 379.0 190.5 385.2 189.1 394.3 188.4 404.6 185.5 416.0 185.0 426.2 182.7 437.4 190.0 445.7 191.1 457.2 188.9 467.2 185.3 474.1 184.4 478.9 194.3 491.1 192.8 500.6 190.5 509.4 188.9 516.1 186.6 524.6 185.3 530.8 217.1 542.7 218.1 549.9 219.3 562.4 220.2 573.4 218.3 585.9 217.4" fill="none" stroke="#cbcbcb" stroke-width="3.4" stroke-linejoin="round" stroke-linecap="round"/>
<path d="M167.6 458.0 168.2 445.8 168.8 433.7 169.6 421.5 170.4 409.4 171.6 397.2 173.0 385.1 174.7 373.1 176.8 361.1 179.3 349.1 182.1 337.3 185.2 325.5 188.6 313.8 192.3 302.2 196.1 290.5 201.3 279.6 207.3 269.0 215.3 260.0 224.9 253.3 234.3 245.5 244.1 238.2 254.0 231.1 264.7 225.4 275.8 220.4 287.0 215.8 298.5 212.0 309.7 207.7 321.2 203.6 340.4 198.6 351.3 195.5 359.0 194.7 366.0 193.7 374.1 192.9 381.8 191.7 393.4 188.5 400.9 186.6 408.6 185.9 417.7 186.1 420.4 222.2 428.8 223.7 441.6 224.2 452.2 352.5 461.0 353.5 470.0 350.4 478.1 349.1 489.7 346.1 496.2 347.0" fill="none" stroke="#cbcbcb" stroke-width="3.4" stroke-linejoin="round" stroke-linecap="round"/>
<path d="M167.1 458.0 167.5 445.7 167.9 433.5 168.5 421.2 169.0 409.0 170.0 396.8 171.3 384.6 172.8 372.4 174.8 360.3 177.2 348.3 180.0 336.3 183.2 324.5 186.6 312.7 190.4 301.0 194.2 289.3 199.4 278.3 205.6 267.7 213.7 258.9 224.0 253.0 233.4 245.1 243.2 237.7 253.2 230.6 263.8 224.6 274.7 219.1 285.9 214.1 297.1 209.5 308.2 204.5 319.6 200.2 337.4 199.4 345.9 196.3 355.8 193.9 367.7 193.1 374.0 191.2 385.8 190.4 395.5 228.4 407.6 228.0 415.5 225.5 426.2 242.1 439.6 241.0 447.3 241.0 459.0 230.0 468.8 229.9 476.5 230.8 483.6 231.6 490.2 228.8 497.6 227.5 509.3 224.7" fill="none" stroke="#cbcbcb" stroke-width="3.4" stroke-linejoin="round" stroke-linecap="round"/>
<path d="M167.7 458.0 168.4 445.9 169.1 433.7 169.9 421.6 170.9 409.5 172.1 397.4 173.6 385.3 175.4 373.3 177.5 361.3 180.0 349.4 182.8 337.6 185.9 325.8 189.3 314.1 193.0 302.6 196.7 291.0 202.0 280.1 207.9 269.4 215.8 260.4 225.3 253.4 234.7 245.6 244.4 238.3 254.3 231.3 265.1 225.7 276.1 220.8 287.4 216.5 298.9 212.9 310.2 208.7 321.7 204.8 342.1 194.8 350.2 194.2 361.6 191.2 373.4 190.0 382.5 187.2 391.1 186.4 397.1 184.3 409.0 182.6 420.3 181.2 431.1 183.6 442.9 189.3 450.8 187.1 459.2 184.4 467.3 183.0 474.4 259.4 484.5 257.7 490.8 255.5 500.4 252.9 508.3 432.3 515.8 433.8 527.0 431.2 534.9 430.2 546.7 430.5 555.4 429.6" fill="none" stroke="#cbcbcb" stroke-width="3.4" stroke-linejoin="round" stroke-linecap="round"/>
<path d="M166.7 458.0 166.9 445.7 167.1 433.3 167.3 421.0 167.7 408.6 168.4 396.3 169.5 384.0 170.8 371.7 172.8 359.5 175.1 347.4 178.0 335.4 181.2 323.5 184.6 311.6 188.4 299.9 192.3 288.1 197.5 277.0 203.8 266.4 212.1 257.7 223.1 252.8 232.4 244.7 242.3 237.3 252.3 230.1 262.9 223.7 273.7 217.8 284.7 212.2 295.8 207.0 306.7 201.4 318.1 196.7 329.8 192.8 338.5 197.1 345.7 195.8 353.2 192.8 361.9 191.4 372.2 191.0 383.9 188.7 392.9 187.5 402.1 184.3 409.5 184.6 415.6 183.4 423.8 181.5 430.7 182.8 439.2 188.2 451.2 188.4 460.3 186.0 469.5 183.3 480.5 181.6 491.8 179.6 501.7 177.3 507.7 176.6 516.7 174.3 523.4 174.1 532.9 171.4 542.0 170.5 549.9 170.6 555.6 235.3 562.1 248.9 575.8 249.1 587.1 247.4 595.7 248.8 607.3 250.1" fill="none" stroke="#cbcbcb" stroke-width="3.4" stroke-linejoin="round" stroke-linecap="round"/>
<path d="M168.5 458.0 169.6 446.0 170.6 434.0 171.9 422.1 173.3 410.1 174.9 398.2 176.8 386.3 178.8 374.5 181.2 362.7 183.7 350.9 186.5 339.2 189.5 327.6 192.9 316.1 196.5 304.6 200.0 293.1 205.4 282.4 211.1 271.8 218.7 262.5 226.9 253.8 236.3 246.3 245.9 239.1 255.8 232.2 266.7 227.3 278.0 223.1 289.5 219.7 301.3 217.3 312.9 214.3 324.5 211.0 343.9 195.3 355.5 192.3 366.0 190.2 375.2 189.5 385.7 186.7 397.2 184.2 408.2 183.8 415.8 181.6 423.6 181.1 430.5 220.4 444.1 219.5 450.8 220.8 463.8 220.5 475.2 220.7 481.6 220.3 487.8 242.9 497.1 240.8 507.8 241.9 515.9 242.0" fill="none" stroke="#cbcbcb" stroke-width="3.4" stroke-linejoin="round" stroke-linecap="round"/>
<path d="M167.4 458.0 167.9 445.8 168.4 433.6 169.1 421.4 169.8 409.2 170.9 397.0 172.3 384.9 173.9 372.8 176.0 360.7 178.4 348.8 181.2 336.9 184.4 325.1 187.7 313.3 191.5 301.7 195.3 290.0 200.5 279.1 206.6 268.4 214.6 259.5 224.6 253.2 233.9 245.3 243.7 238.0 253.7 230.9 264.3 225.1 275.3 219.9 286.5 215.1 297.9 210.9 309.1 206.3 320.5 202.2 343.9 197.5 354.2 195.2 361.3 195.1 372.4 192.8 384.3 191.9 391.7 189.1 402.7 188.2 414.2 185.3 423.5 184.7 432.5 187.8 442.4 191.5 453.6 191.0 464.1 187.3 474.1 186.1 485.0 183.2 492.2 181.4 499.1 180.6 505.6 179.4 512.4 179.1 520.7 177.8 531.9 176.2 542.9 210.8 553.7 208.8 566.0 228.3 576.7 226.2 584.1 226.2 595.9 228.1" fill="none" stroke="#cbcbcb" stroke-width="3.4" stroke-linejoin="round" stroke-linecap="round"/>
<path d="M168.2 458.0 169.1 446.0 170.0 433.9 171.2 421.9 172.4 409.9 173.8 397.9 175.6 386.0 177.5 374.0 179.8 362.2 182.3 350.4 185.1 338.6 188.2 326.9 191.5 315.3 195.2 303.8 198.8 292.3 204.1 281.5 209.9 270.9 217.6 261.7 226.3 253.7 235.7 246.1 245.3 238.8 255.2 231.9 266.1 226.7 277.3 222.3 288.7 218.4 300.4 215.6 311.9 212.2 323.4 208.6 340.3 197.3 350.5 194.7 358.1 194.1 368.2 193.2 376.7 190.6 384.8 190.2 395.7 187.1 406.0 185.7 413.4 185.5 420.9 184.1 428.5 182.9 435.5 188.8 446.3 191.3 454.7 258.3 465.5 256.3 473.5 256.3 485.4 255.4 493.9 255.5 503.6 256.4 509.9 254.2 517.8 254.1 526.0 254.1 536.9 254.7 538.7 330.2 549.0 330.2 559.8 329.8 571.5 330.6 579.9 332.8" fill="none" stroke="#cbcbcb" stroke-width="3.4" stroke-linejoin="round" stroke-linecap="round"/>
<path d="M168.4 458.0 169.5 446.0 170.5 434.0 171.8 422.1 173.1 410.1 174.7 398.2 176.5 386.3 178.5 374.4 180.9 362.6 183.4 350.8 186.2 339.1 189.3 327.5 192.6 315.9 196.2 304.4 199.8 292.9 205.1 282.2 210.8 271.6 218.5 262.4 226.8 253.8 236.2 246.3 245.8 239.0 255.7 232.1 266.6 227.1 277.8 223.0 289.3 219.4 301.1 251.9 313.5 250.7 320.7 251.4 330.5 250.4 337.2 249.4 339.3 264.5 351.6 261.2 364.2 260.7 371.8 262.0 379.9 254.4 387.6 255.5 394.0 240.7 401.6 238.4 413.2 239.8" fill="none" stroke="#cbcbcb" stroke-width="3.4" stroke-linejoin="round" stroke-linecap="round"/>
<path d="M168.5 458.0 169.6 446.0 170.6 434.0 171.9 422.1 173.3 410.1 174.9 398.2 176.8 386.3 178.8 374.5 181.2 362.7 183.7 350.9 186.4 339.2 189.5 327.6 192.9 316.1 196.5 304.6 200.0 293.1 205.4 282.4 211.1 271.8 218.7 262.5 226.9 253.8 236.3 246.3 245.9 239.1 255.8 232.2 266.7 227.3 278.0 223.1 289.5 219.7 301.3 217.3 312.9 214.3 324.5 211.0 335.6 200.0 342.9 198.8 353.3 197.0 362.8 195.6 372.3 194.4 378.9 192.9 390.6 190.9 397.3 190.1 409.1 187.1 417.9 186.2 424.5 185.7 432.4 187.4 442.2 193.6 451.8 192.5 461.9 188.6 473.6 186.5 483.1 183.9 490.7 183.7 501.0 180.6 507.8 179.8 514.2 178.0 522.8 176.5 533.8 175.2 545.5 174.3 551.6 173.5 557.8 171.3 566.8 170.8 576.1 169.9 581.4 201.1 591.5 296.2" fill="none" stroke="#cbcbcb" stroke-width="3.4" stroke-linejoin="round" stroke-linecap="round"/>
<path d="M166.4 458.0 166.4 445.6 166.5 433.2 166.6 420.8 166.8 408.4 167.4 396.0 168.4 383.6 169.6 371.3 171.4 359.0 173.8 346.9 176.7 334.8 179.9 322.8 183.3 310.9 187.2 299.1 191.1 287.4 196.3 276.2 202.6 265.5 211.1 257.0 222.5 252.6 231.8 244.5 241.7 237.0 251.8 229.8 262.3 223.2 273.0 217.0 283.9 211.1 294.9 205.4 305.7 199.4 317.1 194.5 328.7 190.3 337.5 199.1 347.8 196.5 354.3 194.3 363.9 192.6 370.7 191.5 379.5 191.2 390.8 187.8 401.3 185.9 409.7 184.3 417.8 184.3 428.0 183.0 438.6 189.7 449.0 189.7 456.1 188.0 467.0 184.4 477.4 182.8 483.8 181.4 493.0 179.6 500.3 179.6 504.1 197.4 512.4 196.7 521.4 196.2 528.0 196.4 537.8 209.7 547.8 206.6 559.9 206.2 571.6 206.7 578.6 206.6" fill="none" stroke="#cbcbcb" stroke-width="3.4" stroke-linejoin="round" stroke-linecap="round"/>
<path d="M166.5 458.0 166.5 445.6 166.6 433.2 166.8 420.8 167.0 408.4 167.6 396.1 168.6 383.7 169.9 371.4 171.8 359.2 174.1 347.0 177.0 334.9 180.2 323.0 183.6 311.1 187.5 299.3 191.4 287.5 196.6 276.4 202.9 265.7 211.3 257.1 222.6 252.7 232.0 244.5 241.8 237.1 251.9 229.9 262.4 223.3 273.2 217.2 284.1 211.4 295.1 205.8 306.0 199.9 317.3 195.0 329.0 190.9 339.8 200.6 345.8 197.5 353.8 197.3 363.9 195.6 375.3 193.0 384.3 190.8 395.3 188.7 403.2 188.1 412.9 186.4 421.3 185.1 429.2 185.7 435.4 190.6 446.6 193.5 456.0 189.8 464.7 187.7 473.4 185.9 477.6 206.2 488.4 205.8 495.9 205.8 508.1 205.3 519.4 203.9 527.0 204.4 531.2 277.8 543.5 278.2 554.8 276.9" fill="none" stroke="#cbcbcb" stroke-width="3.4" stroke-linejoin="round" stroke-linecap="round"/>
<path d="M167.3 458.0 167.8 445.8 168.4 433.6 169.0 421.4 169.7 409.2 170.8 397.0 172.2 384.9 173.7 372.7 175.8 360.7 178.2 348.7 181.1 336.8 184.2 325.0 187.6 313.2 191.4 301.6 195.1 289.9 200.4 279.0 206.4 268.3 214.5 259.5 224.5 253.2 233.9 245.3 243.6 237.9 253.6 230.9 264.3 225.0 275.3 219.8 286.4 214.9 297.8 210.8 309.0 206.1 320.4 201.9 340.8 195.0 344.4 241.4 350.4 240.7 361.9 239.7 374.8 237.2 381.1 236.1 387.3 236.0 398.7 236.0 403.7 404.1 412.2 403.0 424.4 404.8 435.0 402.5" fill="none" stroke="#cbcbcb" stroke-width="3.4" stroke-linejoin="round" stroke-linecap="round"/>
<path d="M167.5 458.0 168.1 445.8 168.7 433.7 169.5 421.5 170.3 409.3 171.5 397.2 172.9 385.1 174.6 373.0 176.7 361.0 179.1 349.1 181.9 337.2 185.1 325.4 188.5 313.7 192.2 302.1 195.9 290.5 201.2 279.5 207.2 268.9 215.2 260.0 224.9 253.3 234.3 245.5 244.0 238.1 254.0 231.1 264.7 225.4 275.7 220.3 286.9 215.7 293.1 267.8 301.8 268.2 313.4 266.6 325.4 265.8 331.8 264.7 340.2 263.0 347.9 263.8 359.3 262.9 367.4 263.5 376.0 291.8 387.2 292.6 394.8 290.3 401.9 286.9 413.5 284.8 421.1 281.4 429.5 281.9 439.9 280.5" fill="none" stroke="#cbcbcb" stroke-width="3.4" stroke-linejoin="round" stroke-linecap="round"/>
<path d="M167.2 458.0 167.7 445.8 168.2 433.5 168.7 421.3 169.4 409.1 170.4 396.9 171.7 384.7 173.3 372.6 175.4 360.5 177.7 348.5 180.6 336.6 183.7 324.8 187.1 313.0 190.9 301.3 194.7 289.7 199.9 278.7 206.0 268.0 214.1 259.2 224.3 253.1 233.6 245.2 243.4 237.8 253.4 230.8 264.1 224.8 275.0 219.5 286.2 214.5 297.5 210.2 308.6 205.4 320.0 201.1 341.7 196.1 351.8 195.8 359.5 192.3 368.4 190.9 376.0 191.3 385.9 189.4 394.4 187.2 400.5 186.0 410.6 183.8 421.5 184.3 431.1 184.7 440.1 191.5 448.0 262.7 461.1 261.1 470.8 260.3 479.0 259.8 486.7 259.8 494.5 287.6 502.5 289.5 510.4 287.0 518.4 283.6 527.7 285.4 539.1 284.3 550.7 281.9 562.9 282.5 574.7 283.9" fill="none" stroke="#cbcbcb" stroke-width="3.4" stroke-linejoin="round" stroke-linecap="round"/>
<path d="M168.4 458.0 169.4 446.0 170.4 434.0 171.6 422.0 173.0 410.0 174.5 398.1 176.3 386.2 178.2 374.3 180.6 362.5 183.1 350.7 185.9 339.0 189.0 327.3 192.3 315.8 196.0 304.3 199.5 292.8 204.9 282.0 210.6 271.4 218.2 262.2 226.7 253.8 236.1 246.2 245.7 239.0 255.6 232.1 266.5 227.0 277.7 222.8 289.2 219.2 300.9 216.6 312.5 213.4 324.1 210.1 332.3 230.5 343.7 227.2 355.4 225.6 364.5 307.4 374.6 309.5 385.0 307.9 397.8 305.7 407.4 302.9 415.9 301.6 423.0 302.6 433.4 304.2" fill="none" stroke="#cbcbcb" stroke-width="3.4" stroke-linejoin="round" stroke-linecap="round"/>
<path d="M168.4 458.0 169.4 446.0 170.5 434.0 171.7 422.0 173.1 410.1 174.6 398.1 176.5 386.2 178.4 374.4 180.8 362.6 183.3 350.8 186.1 339.1 189.2 327.4 192.5 315.9 196.1 304.4 199.7 292.9 205.0 282.1 210.7 271.5 218.4 262.3 226.8 253.8 236.2 246.2 245.8 239.0 255.6 232.1 266.5 227.1 277.8 222.9 289.3 219.3 301.0 216.8 312.6 213.7 324.2 210.3 335.6 199.9 343.4 198.7 350.4 196.4 360.8 194.7 371.3 194.3 379.9 192.6 386.2 191.6 393.1 190.4 402.0 189.1 412.1 186.7 418.8 184.9 429.7 185.9 436.9 190.1 446.6 192.3 455.9 190.3 467.0 185.8 478.2 185.0 490.0 181.9 496.2 181.0 503.4 180.2 511.1 177.9 518.7 178.6 530.4 176.3 538.1 174.1 549.1 172.4 556.7 172.2 558.9 239.9 568.0 242.1 577.3 340.2" fill="none" stroke="#cbcbcb" stroke-width="3.4" stroke-linejoin="round" stroke-linecap="round"/>
<path d="M168.0 458.0 168.8 445.9 169.6 433.8 170.6 421.8 171.7 409.7 173.0 397.7 174.7 385.7 176.5 373.7 178.7 361.8 181.2 349.9 184.0 338.1 187.1 326.4 190.4 314.8 194.1 303.2 197.8 291.7 203.1 280.8 209.0 270.2 216.7 261.1 225.8 253.5 235.2 245.9 244.9 238.6 254.8 231.6 265.6 226.2 276.7 221.6 288.1 217.5 299.7 214.3 311.1 210.5 322.6 206.8 345.4 198.0 352.6 197.1 364.1 194.1 372.9 192.7 381.6 191.9 392.0 189.7 401.5 187.8 408.3 186.2 415.3 186.4 422.4 184.6 430.4 185.5 438.2 191.3 445.2 192.2 457.1 189.5 464.5 185.9 475.1 184.7 484.4 210.5 496.4 208.1 509.8 238.9 522.2 236.1 534.0 235.7 544.6 236.2" fill="none" stroke="#cbcbcb" stroke-width="3.4" stroke-linejoin="round" stroke-linecap="round"/>
<path d="M167.7 458.0 168.4 445.9 169.0 433.7 169.9 421.6 170.8 409.5 172.0 397.4 173.5 385.3 175.2 373.3 177.4 361.3 179.8 349.4 182.7 337.5 185.8 325.8 189.2 314.1 192.9 302.5 196.6 290.9 201.9 280.0 207.8 269.4 215.7 260.4 225.2 253.4 234.6 245.6 244.3 238.3 254.2 231.3 265.0 225.7 276.1 220.8 287.3 216.3 298.8 212.7 310.1 208.5 321.6 204.6 336.8 201.9 347.6 198.9 359.0 196.4 365.2 195.6 374.8 194.4 382.3 193.4 392.6 190.2 401.9 188.0 409.7 188.3 417.7 186.4 429.3 187.1 439.4 192.8 450.3 193.7 456.8 189.9 463.2 187.8 471.8 186.3 479.3 225.4 490.6 227.1 501.6 255.3 512.5 255.6 525.2 258.0" fill="none" stroke="#cbcbcb" stroke-width="3.4" stroke-linejoin="round" stroke-linecap="round"/>
<path d="M166.9 458.0 167.2 445.7 167.5 433.4 167.8 421.1 168.3 408.8 169.1 396.5 170.3 384.3 171.7 372.0 173.7 359.9 176.1 347.8 178.9 335.8 182.1 323.9 185.5 312.1 189.3 300.4 193.2 288.7 198.4 277.6 204.6 267.0 212.8 258.2 223.5 252.9 232.9 244.9 242.7 237.5 252.7 230.3 263.3 224.1 274.2 218.4 285.2 213.1 296.4 208.2 307.4 202.8 318.8 198.3 343.9 200.3 353.3 197.6 364.3 196.3 375.7 194.2 384.7 191.7 394.7 191.1 405.3 189.1 416.1 186.9 426.1 185.9 436.0 190.3 443.3 193.0 454.3 191.1 462.5 189.8 471.0 187.2 480.7 184.4 490.2 183.5 500.0 181.5 509.8 179.2 520.9 177.6 530.4 177.3 539.7 176.3 546.4 174.8 548.7 214.9 561.7 214.5 571.0 215.5 581.7 215.2 582.9 234.1" fill="none" stroke="#cbcbcb" stroke-width="3.4" stroke-linejoin="round" stroke-linecap="round"/>
<path d="M167.2 458.0 167.6 445.8 168.0 433.5 168.5 421.3 169.2 409.0 170.1 396.8 171.4 384.6 172.9 372.5 175.0 360.4 177.4 348.4 180.2 336.4 183.4 324.6 186.8 312.8 190.6 301.1 194.4 289.5 199.6 278.4 205.7 267.8 213.8 259.0 224.1 253.1 233.5 245.2 243.2 237.8 253.3 230.7 263.9 224.7 274.8 219.2 286.0 214.2 297.2 209.7 308.4 204.8 319.8 200.5 339.6 197.2 348.2 193.6 356.9 193.3 365.5 191.5 375.0 188.9 385.6 187.9 396.4 185.2 404.7 184.6 415.0 183.1 424.6 181.5 432.4 184.9 440.5 190.0 447.1 189.3 456.0 186.1 465.1 184.5 476.1 181.1 484.0 180.6 492.4 178.2 499.6 177.7 511.4 176.0 514.2 200.8 522.8 197.6 529.5 196.5 542.1 197.0 552.9 197.8 560.5 198.5 567.9 221.7 581.4 219.7 594.0 221.2 601.7 218.2" fill="none" stroke="#cbcbcb" stroke-width="3.4" stroke-linejoin="round" stroke-linecap="round"/>
<path d="M167.5 458.0 168.1 445.8 168.7 433.7 169.5 421.5 170.3 409.3 171.5 397.2 172.9 385.1 174.6 373.0 176.7 361.0 179.2 349.1 182.0 337.2 185.1 325.4 188.5 313.7 192.3 302.1 196.0 290.5 201.2 279.5 207.2 268.9 215.2 260.0 224.9 253.3 234.3 245.5 244.0 238.1 254.0 231.1 264.7 225.4 275.7 220.3 287.0 215.8 298.4 211.9 309.6 207.5 321.1 203.5 341.7 198.9 352.3 195.4 361.6 194.3 371.0 191.8 378.2 192.1 384.6 189.1 393.7 187.8 401.2 187.4 411.8 185.6 418.6 217.6 430.0 218.0 440.4 217.5 452.3 218.4 460.4 217.5 467.5 255.1 477.1 252.8 489.4 251.3 498.1 250.0" fill="none" stroke="#cbcbcb" stroke-width="3.4" stroke-linejoin="round" stroke-linecap="round"/>
<path d="M167.5 458.0 168.0 445.8 168.6 433.6 169.3 421.5 170.1 409.3 171.2 397.1 172.7 385.0 174.3 372.9 176.4 360.9 178.8 348.9 181.7 337.1 184.8 325.3 188.2 313.5 191.9 301.9 195.7 290.3 200.9 279.3 206.9 268.7 214.9 259.8 224.8 253.2 234.1 245.4 243.9 238.1 253.8 231.0 264.5 225.3 275.6 220.1 286.8 215.5 298.2 211.5 309.4 207.0 320.8 202.9 339.7 197.6 347.0 195.6 358.5 193.0 367.9 192.0 379.4 189.7 386.3 189.2 392.5 188.0 403.0 185.3 412.5 185.3 419.1 184.7 425.4 184.0 432.3 186.6 433.9 228.6 441.5 231.1 449.3 232.0 459.7 230.3 467.4 230.9 478.2 229.2 480.9 251.7 493.2 243.1 502.0 245.6 514.1 242.4" fill="none" stroke="#cbcbcb" stroke-width="3.4" stroke-linejoin="round" stroke-linecap="round"/>
<path d="M168.4 458.0 169.4 446.0 170.4 434.0 171.6 422.0 172.9 410.0 174.5 398.1 176.3 386.2 178.2 374.3 180.6 362.5 183.1 350.7 185.8 339.0 188.9 327.3 192.3 315.7 195.9 304.3 199.5 292.8 204.8 282.0 210.6 271.4 218.2 262.2 226.7 253.7 236.1 246.2 245.7 239.0 255.5 232.1 266.4 227.0 277.7 222.8 289.2 219.1 300.9 216.5 312.5 213.4 324.0 210.0 337.5 198.7 344.8 198.0 351.4 195.4 358.0 193.7 368.2 193.6 376.5 191.3 384.3 190.7 390.9 189.0 397.9 188.5 407.8 186.6 415.8 184.8 427.4 183.8 437.0 189.0 448.2 191.9 459.5 188.6 467.6 186.3 476.9 183.9 483.0 182.0 495.5 241.9 506.4 238.8 516.8 239.9 527.7 239.5 534.8 239.7 542.8 237.6 551.1 237.5 554.3 266.9 565.3 264.2 573.7 265.1" fill="none" stroke="#cbcbcb" stroke-width="3.4" stroke-linejoin="round" stroke-linecap="round"/>
<path d="M167.7 458.0 168.4 445.9 169.1 433.7 169.9 421.6 170.8 409.5 172.1 397.4 173.6 385.3 175.3 373.3 177.5 361.3 179.9 349.4 182.7 337.6 185.9 325.8 189.2 314.1 193.0 302.5 196.6 290.9 201.9 280.0 207.9 269.4 215.8 260.4 225.2 253.4 234.6 245.6 244.3 238.3 254.3 231.3 265.0 225.7 276.1 220.8 287.4 216.4 298.9 212.8 310.2 208.6 321.7 204.7 345.2 196.9 353.7 196.3 361.7 194.4 371.6 191.8 378.2 191.8 384.5 189.8 394.2 189.3 403.3 186.3 413.1 185.0 423.1 183.7 431.0 186.5 437.7 191.1 444.2 192.6 451.0 191.3 461.6 188.3 471.9 185.2 479.8 183.8 491.2 181.3 498.7 180.6 510.0 178.3 520.2 176.1 530.3 175.0 533.0 205.8 543.2 205.2 552.3 203.1 558.7 201.4 565.7 202.2 567.8 241.5 579.9 237.5 586.3 239.4" fill="none" stroke="#cbcbcb" stroke-width="3.4" stroke-linejoin="round" stroke-linecap="round"/>
<path d="M167.3 458.0 167.7 445.8 168.2 433.5 168.8 421.3 169.5 409.1 170.5 396.9 171.8 384.8 173.4 372.6 175.4 360.5 177.8 348.5 180.7 336.6 183.8 324.8 187.2 313.0 191.0 301.4 194.8 289.7 200.0 278.7 206.1 268.1 214.2 259.2 224.3 253.1 233.7 245.2 243.4 237.9 253.4 230.8 264.1 224.9 275.1 219.5 286.2 214.6 297.5 210.3 308.7 205.5 320.1 201.3 337.6 198.6 347.4 194.8 357.6 193.2 363.9 192.7 371.2 191.1 378.9 190.5 386.8 187.8 396.3 186.5 405.3 185.7 411.8 184.9 419.9 183.5 430.3 183.4 437.7 189.0 448.7 190.2 455.2 187.6 464.5 185.4 470.9 183.6 477.3 183.3 487.4 181.8 488.9 236.8 499.7 239.2 510.2 238.3 517.9 238.3 526.0 236.2 532.5 236.1 544.8 234.3 555.4 231.9 560.2 250.1 572.3 251.5" fill="none" stroke="#cbcbcb" stroke-width="3.4" stroke-linejoin="round" stroke-linecap="round"/>
<path d="M166.3 458.0 166.3 445.6 166.3 433.2 166.4 420.7 166.5 408.3 167.1 395.9 168.0 383.5 169.3 371.2 171.1 358.9 173.4 346.7 176.3 334.6 179.5 322.6 182.9 310.7 186.8 298.9 190.8 287.1 196.0 275.9 202.3 265.3 210.8 256.7 222.3 252.6 231.7 244.4 241.5 236.9 251.6 229.7 262.1 223.0 272.8 216.8 283.7 210.8 294.7 205.0 305.5 198.8 316.8 193.8 328.5 189.6 336.5 196.1 346.0 195.1 355.2 192.8 366.1 191.2 374.9 188.9 381.6 187.4 387.9 187.0 397.0 185.5 407.9 184.3 419.7 183.1 429.4 241.1 443.3 241.2 454.1 239.8 462.9 240.1 469.0 239.0 481.6 239.4 493.2 237.7 499.6 237.2 506.9 237.0 513.7 235.0 519.9 233.3 524.3 254.0 530.5 251.7 541.0 248.6 547.7 245.1 555.0 247.5 561.7 248.4 574.5 250.7" fill="none" stroke="#cbcbcb" stroke-width="3.4" stroke-linejoin="round" stroke-linecap="round"/>
<path d="M166.5 458.0 166.6 445.6 166.6 433.2 166.8 420.8 167.0 408.5 167.7 396.1 168.7 383.7 169.9 371.4 171.8 359.2 174.1 347.0 177.0 335.0 180.2 323.0 183.6 311.1 187.5 299.3 191.4 287.6 196.6 276.4 202.9 265.7 211.3 257.2 222.6 252.7 232.0 244.5 241.9 237.1 251.9 229.9 262.4 223.3 273.2 217.2 284.1 211.4 295.2 205.8 306.0 199.9 317.3 195.0 329.0 190.9 338.3 197.8 349.7 196.1 358.6 194.4 364.3 237.4 370.4 236.6 380.8 236.4 392.3 236.7 403.7 237.8 416.1 236.6 423.6 236.9 433.3 236.2 443.0 260.4 452.8 251.7 465.4 249.3 477.3 249.9 486.8 247.6 499.6 247.6 509.8 238.9 520.8 238.6 532.6 239.9" fill="none" stroke="#cbcbcb" stroke-width="3.4" stroke-linejoin="round" stroke-linecap="round"/>
<path d="M167.2 458.0 167.6 445.8 168.1 433.5 168.6 421.3 169.3 409.1 170.3 396.9 171.6 384.7 173.1 372.5 175.2 360.4 177.5 348.4 180.4 336.5 183.6 324.7 186.9 312.9 190.7 301.2 194.5 289.5 199.8 278.5 205.9 267.9 214.0 259.1 224.2 253.1 233.5 245.2 243.3 237.8 253.3 230.7 264.0 224.7 274.9 219.3 286.0 214.4 297.4 209.9 309.0 230.4 319.6 232.7 327.7 231.1 336.6 232.2 343.1 232.1 354.5 230.5 361.2 275.4 372.9 277.0 382.4 276.6 390.2 278.5" fill="none" stroke="#cbcbcb" stroke-width="3.4" stroke-linejoin="round" stroke-linecap="round"/>
<path d="M167.4 458.0 167.9 445.8 168.5 433.6 169.2 421.4 169.9 409.2 171.0 397.1 172.4 384.9 174.0 372.8 176.1 360.8 178.5 348.8 181.4 336.9 184.5 325.1 187.9 313.4 191.7 301.8 195.4 290.1 200.7 279.2 206.7 268.5 214.7 259.6 224.6 253.2 234.0 245.4 243.7 238.0 253.7 231.0 264.4 225.2 275.4 220.0 286.6 215.2 298.0 211.1 309.2 206.6 320.6 202.4 338.9 198.3 350.3 195.4 358.4 193.8 365.2 192.3 371.6 191.1 378.5 191.9 388.9 189.7 395.3 188.0 405.0 185.8 411.9 185.4 421.9 183.3 429.2 199.5 437.7 197.7 447.7 199.0 457.3 199.3 468.4 197.9 475.3 199.4 486.9 198.0 492.3 206.3 505.6 204.5 517.5 204.6 528.7 205.9 536.3 203.4" fill="none" stroke="#cbcbcb" stroke-width="3.4" stroke-linejoin="round" stroke-linecap="round"/>
<path d="M167.4 458.0 168.0 445.8 168.5 433.6 169.2 421.4 170.0 409.3 171.1 397.1 172.5 385.0 174.2 372.9 176.3 360.9 178.7 348.9 181.5 337.0 184.7 325.2 188.0 313.5 191.8 301.8 195.5 290.2 200.8 279.2 206.8 268.6 214.8 259.7 224.7 253.2 234.1 245.4 243.8 238.0 253.8 231.0 264.5 225.2 275.5 220.0 286.7 215.3 298.1 211.3 309.3 206.8 320.7 202.7 340.2 195.8 349.8 193.0 358.3 190.9 369.5 189.4 380.6 188.0 387.3 187.1 398.9 185.5 410.0 182.6 416.5 182.2 427.1 180.7 433.3 184.2 444.7 188.8 455.2 187.7 463.9 183.1 475.3 181.1 482.5 181.1 488.8 179.5 496.1 176.9 507.3 175.1 515.6 173.7 522.4 173.9 532.7 171.7 543.5 170.6 550.1 169.1 558.0 168.0 569.1 166.5 577.1 164.6 583.5 184.6 563.6 272.7 571.7 274.0 582.7 275.7 595.2 272.6 606.1 272.1" fill="none" stroke="#cbcbcb" stroke-width="3.4" stroke-linejoin="round" stroke-linecap="round"/>
<path d="M168.3 458.0 169.2 446.0 170.2 434.0 171.4 422.0 172.6 410.0 174.1 398.0 175.9 386.1 177.8 374.2 180.2 362.3 182.6 350.5 185.4 338.8 188.5 327.1 191.9 315.5 195.5 304.0 199.1 292.5 204.4 281.7 210.2 271.1 217.9 261.9 226.5 253.7 235.9 246.1 245.5 238.9 255.4 232.0 266.2 226.8 277.5 222.5 288.2 266.3 295.5 269.2 306.2 268.7 317.7 269.1 329.3 270.0 342.1 269.6 351.8 267.5 362.4 267.0 370.3 266.0 375.8 383.1 382.7 382.7 391.3 381.7 401.2 377.8 408.7 376.2 418.5 364.3 426.5 366.1 438.3 366.2 449.7 354.1" fill="none" stroke="#cbcbcb" stroke-width="3.4" stroke-linejoin="round" stroke-linecap="round"/>
<path d="M166.4 458.0 166.4 445.6 166.4 433.2 166.5 420.8 166.6 408.4 167.2 396.0 168.2 383.6 169.4 371.2 171.3 359.0 173.6 346.8 176.5 334.7 179.7 322.7 183.1 310.8 187.0 299.0 190.9 287.2 196.1 276.1 202.5 265.4 210.9 256.9 222.4 252.6 231.7 244.4 241.6 236.9 251.7 229.7 262.2 223.1 272.9 216.9 283.8 210.9 294.8 205.2 305.6 199.1 316.9 194.1 328.6 189.9 338.2 196.5 346.2 194.0 356.6 193.5 364.4 191.8 376.0 190.0 385.0 187.2 395.9 185.8 401.9 184.3 411.4 183.0 421.0 181.6 429.7 182.1 438.8 188.1 449.3 189.8 460.9 184.3 472.7 182.0 484.1 180.7 491.0 179.7 501.3 177.5 513.2 176.0 519.8 174.3 528.7 225.6 541.3 228.8 552.0 227.8 564.4 229.2 574.6 228.5 577.2 301.2" fill="none" stroke="#cbcbcb" stroke-width="3.4" stroke-linejoin="round" stroke-linecap="round"/>
<path d="M167.0 458.0 167.4 445.7 167.7 433.5 168.2 421.2 168.8 408.9 169.7 396.7 170.9 384.5 172.4 372.3 174.4 360.2 176.8 348.1 179.6 336.2 182.8 324.3 186.2 312.5 190.0 300.8 193.8 289.1 199.1 278.1 205.2 267.4 213.4 258.6 223.8 253.0 233.2 245.0 243.0 237.6 253.0 230.5 263.6 224.4 274.5 218.9 284.3 269.1 294.9 267.2 307.4 266.6 319.8 267.2 326.4 267.8 332.8 266.5 339.3 263.8 348.8 261.4 357.6 278.7 368.9 276.6 378.0 276.5 385.8 275.6 395.8 272.3 407.4 271.0 414.8 269.0 421.2 269.2 431.5 271.7" fill="none" stroke="#cbcbcb" stroke-width="3.4" stroke-linejoin="round" stroke-linecap="round"/>
<path d="M168.4 458.0 169.4 446.0 170.5 434.0 171.7 422.0 173.1 410.1 174.7 398.2 176.5 386.3 178.5 374.4 180.8 362.6 183.3 350.8 186.1 339.1 189.2 327.5 192.5 315.9 196.2 304.4 199.7 292.9 205.1 282.2 210.8 271.6 218.4 262.3 226.8 253.8 236.2 246.3 245.8 239.0 255.7 232.1 266.6 227.1 277.8 222.9 289.3 219.4 301.1 216.9 312.7 213.8 324.2 210.4 341.6 198.2 348.7 197.9 357.8 195.7 367.5 194.4 377.5 191.3 388.8 190.0 396.8 188.3 403.2 254.2 416.9 250.2 424.4 248.3 433.3 245.7 442.2 244.1 451.1 243.8 460.9 244.4 468.7 243.7 475.2 242.3 477.0 350.8 485.2 352.6 497.5 342.2 505.0 341.7 516.7 338.8 526.3 338.0 533.4 334.9 544.1 333.2" fill="none" stroke="#cbcbcb" stroke-width="3.4" stroke-linejoin="round" stroke-linecap="round"/>
<path d="M168.1 458.0 169.0 445.9 169.9 433.9 171.0 421.9 172.1 409.8 173.6 397.8 175.3 385.9 177.1 373.9 179.4 362.0 181.9 350.2 184.7 338.4 187.8 326.8 191.1 315.1 194.8 303.6 198.4 292.1 203.7 281.3 209.6 270.7 217.3 261.5 226.1 253.6 235.5 246.0 245.2 238.7 255.1 231.8 265.9 226.5 277.1 222.0 288.5 218.1 300.1 215.1 311.6 211.6 323.1 208.0 342.2 195.4 353.0 193.5 363.5 191.3 372.9 191.0 382.5 188.1 392.7 186.5 399.5 186.3 406.8 184.2 413.0 184.5 422.5 182.3 431.2 184.0 439.5 189.9 444.3 242.8 454.0 240.7 465.8 242.3 477.0 242.7 485.1 242.5 490.9 463.2 501.6 464.2 514.0 463.5 523.5 464.5 532.0 466.4 543.6 467.2 556.2 465.7" fill="none" stroke="#cbcbcb" stroke-width="3.4" stroke-linejoin="round" stroke-linecap="round"/>
<path d="M167.4 458.0 167.9 445.8 168.4 433.6 169.0 421.4 169.8 409.2 170.8 397.0 172.2 384.9 173.8 372.8 175.9 360.7 178.3 348.7 181.1 336.8 184.3 325.0 187.7 313.3 191.5 301.6 195.2 290.0 200.5 279.0 206.5 268.4 214.5 259.5 224.5 253.2 233.9 245.3 243.6 238.0 253.6 230.9 264.3 225.1 275.3 219.8 286.5 215.0 297.8 210.9 309.0 206.2 320.5 202.0 341.4 198.6 348.9 196.9 357.4 217.8 369.6 219.4 379.3 217.0 391.0 215.3 400.3 213.9 406.3 211.6 415.5 211.3 424.0 211.3 430.1 209.3 438.5 206.8 446.3 241.5 455.6 238.7 464.4 240.7 473.9 241.7 479.9 243.1 486.4 239.9 492.9 239.6 503.1 238.4 509.8 238.8" fill="none" stroke="#cbcbcb" stroke-width="3.4" stroke-linejoin="round" stroke-linecap="round"/>
<path d="M166.6 458.0 166.7 445.6 166.9 433.3 167.1 420.9 167.4 408.6 168.1 396.2 169.1 383.9 170.4 371.6 172.3 359.4 174.7 347.2 177.5 335.2 180.7 323.3 184.1 311.4 188.0 299.6 191.9 287.9 197.1 276.7 203.4 266.1 211.7 257.5 222.9 252.7 232.2 244.6 242.1 237.2 252.2 230.0 262.7 223.6 273.5 217.6 284.4 211.9 295.5 206.5 306.4 200.7 317.7 196.0 329.4 192.0 338.8 200.5 345.5 198.3 357.0 196.4 364.0 195.3 372.0 192.5 378.8 192.9 390.0 191.1 401.0 188.7 410.7 186.1 417.3 184.9 426.7 185.4 434.6 189.0 445.7 192.7 456.0 189.9 465.8 186.8 477.3 184.5 486.7 182.8 493.7 181.1 502.6 179.8 509.0 179.0 520.9 177.8 528.7 176.1 531.5 208.8 542.8 208.0 549.7 207.7 559.1 206.4 565.9 224.1 575.4 220.2 586.1 217.3 596.7 214.9 608.6 214.9" fill="none" stroke="#cbcbcb" stroke-width="3.4" stroke-linejoin="round" stroke-linecap="round"/>
<path d="M166.9 458.0 167.2 445.7 167.6 433.4 168.0 421.1 168.5 408.8 169.3 396.6 170.5 384.3 172.0 372.1 174.0 360.0 176.3 347.9 179.2 336.0 182.4 324.1 185.7 312.2 189.6 300.5 193.4 288.8 198.7 277.8 204.8 267.1 213.0 258.4 223.6 252.9 233.0 245.0 242.8 237.5 252.8 230.4 263.4 224.2 274.3 218.6 285.4 213.3 293.4 269.0 305.7 267.3 318.3 267.4 325.8 499.7 335.5 499.0 342.5 498.2 349.3 498.5 362.2 497.6" fill="none" stroke="#cbcbcb" stroke-width="3.4" stroke-linejoin="round" stroke-linecap="round"/>
<path d="M166.6 458.0 166.7 445.6 166.8 433.3 167.0 420.9 167.3 408.5 168.0 396.2 169.0 383.9 170.3 371.6 172.2 359.3 174.5 347.2 177.4 335.2 180.6 323.2 184.0 311.3 187.9 299.5 191.8 287.8 197.0 276.7 203.3 266.0 211.6 257.4 222.8 252.7 232.2 244.6 242.0 237.2 252.1 230.0 262.6 223.5 273.4 217.5 284.4 211.8 295.4 206.3 306.3 200.5 317.6 195.7 329.3 191.7 339.3 197.7 349.7 194.9 357.8 193.8 366.3 192.1 374.4 189.5 378.0 221.7 388.0 220.5 398.1 217.9 410.9 216.1 419.6 214.9 428.2 215.3 437.4 214.0 448.2 215.0 449.8 230.9 462.7 228.7 474.0 227.7 480.7 228.4 492.4 229.0" fill="none" stroke="#cbcbcb" stroke-width="3.4" stroke-linejoin="round" stroke-linecap="round"/>
<path d="M167.0 458.0 167.3 445.7 167.6 433.4 168.1 421.1 168.6 408.9 169.5 396.6 170.7 384.4 172.1 372.2 174.1 360.1 176.5 348.0 179.4 336.0 182.5 324.1 185.9 312.3 189.7 300.6 193.6 288.9 198.8 277.9 205.0 267.2 213.1 258.5 223.7 253.0 233.1 245.0 242.9 237.6 252.9 230.4 263.5 224.3 274.4 218.7 285.5 213.4 296.7 208.7 307.7 203.5 319.1 199.0 342.1 198.4 349.5 198.1 357.6 195.9 365.8 194.3 375.9 193.0 385.5 191.4 395.5 188.3 406.2 186.6 415.5 185.3 424.1 184.6 431.6 187.3 438.0 191.4 448.9 191.1 452.9 242.2 461.3 240.2 473.7 239.3 486.3 239.4 497.7 239.6 510.5 240.7 520.5 240.9 532.6 241.7 544.5 483.7 558.8 484.2" fill="none" stroke="#cbcbcb" stroke-width="3.4" stroke-linejoin="round" stroke-linecap="round"/>
<path d="M166.5 458.0 166.7 445.6 166.8 433.2 167.0 420.9 167.2 408.5 167.9 396.2 168.9 383.8 170.2 371.5 172.1 359.3 174.4 347.1 177.3 335.1 180.5 323.1 183.9 311.2 187.8 299.5 191.7 287.7 196.9 276.6 203.2 265.9 211.6 257.3 222.8 252.7 232.1 244.6 242.0 237.1 252.1 229.9 262.6 223.5 273.4 217.4 284.3 211.6 295.4 206.2 306.2 200.4 317.6 195.5 329.2 191.5 335.5 198.7 346.3 196.2 358.3 193.8 364.7 192.5 373.6 191.7 381.3 190.5 388.4 189.4 397.7 186.6 406.6 185.6 415.3 184.9 424.9 183.1 434.5 187.0 446.1 189.6 455.5 187.5 463.6 184.8 470.7 184.6 481.4 182.0 491.9 179.9 500.6 179.4 512.2 177.4 520.9 175.0 527.7 175.4 535.0 173.4 541.4 191.4 547.6 192.0 556.7 191.1 567.9 219.8 577.6 219.3 584.1 217.5 594.3 216.1" fill="none" stroke="#cbcbcb" stroke-width="3.4" stroke-linejoin="round" stroke-linecap="round"/>
<path d="M168.0 458.0 168.8 445.9 169.6 433.8 170.7 421.8 171.8 409.7 173.1 397.7 174.8 385.7 176.6 373.7 178.9 361.8 181.3 350.0 184.1 338.2 187.2 326.5 190.6 314.8 194.3 303.3 197.9 291.7 203.2 280.9 209.1 270.3 216.9 261.2 225.9 253.5 235.3 245.9 244.9 238.6 254.8 231.6 265.7 226.3 276.8 221.7 288.2 217.6 299.8 214.5 311.2 210.8 322.7 207.1 340.7 194.6 352.0 193.2 361.8 191.0 368.4 190.8 376.3 189.6 384.1 187.0 395.4 185.5 406.9 183.3 417.3 181.1 426.0 180.4 435.9 185.8 446.9 187.9 455.7 185.9 464.9 183.0 471.2 181.5 479.8 179.6 491.3 177.6 497.7 177.3 505.9 175.7 513.7 174.5 523.1 173.4 531.0 171.3 535.6 200.9 546.1 200.9 554.0 199.2 563.2 198.9 570.8 197.1 576.7 229.2 586.5 226.0" fill="none" stroke="#cbcbcb" stroke-width="3.4" stroke-linejoin="round" stroke-linecap="round"/>
<path d="M166.7 458.0 166.8 445.6 167.0 433.3 167.3 420.9 167.6 408.6 168.3 396.3 169.4 384.0 170.7 371.7 172.6 359.5 174.9 347.4 177.8 335.3 181.0 323.4 184.4 311.5 188.3 299.8 192.2 288.1 197.4 276.9 203.7 266.3 212.0 257.6 223.0 252.8 232.4 244.7 242.2 237.2 252.3 230.1 262.8 223.7 273.6 217.7 284.6 212.1 288.7 268.8 300.7 269.0 312.5 269.6 322.5 473.3 330.5 470.7 341.3 469.6 354.3 470.8 365.3 472.7" fill="none" stroke="#cbcbcb" stroke-width="3.4" stroke-linejoin="round" stroke-linecap="round"/>
<path d="M167.9 458.0 168.7 445.9 169.5 433.8 170.5 421.7 171.5 409.7 172.9 397.6 174.5 385.6 176.3 373.6 178.5 361.7 181.0 349.8 183.8 338.0 186.9 326.3 190.3 314.7 194.0 303.1 197.6 291.5 202.9 280.7 208.8 270.1 216.6 261.0 225.7 253.5 235.1 245.8 244.8 238.5 254.7 231.5 265.5 226.2 276.6 221.5 288.0 217.3 299.5 214.0 311.0 210.2 318.1 268.6 329.1 268.4 342.0 269.8 349.9 366.6 358.5 365.3 365.7 363.9 376.3 360.7 386.8 361.6 396.4 361.7 405.0 363.6 411.7 363.6 423.8 363.2 434.7 364.6" fill="none" stroke="#cbcbcb" stroke-width="3.4" stroke-linejoin="round" stroke-linecap="round"/>
<path d="M167.8 458.0 168.6 445.9 169.3 433.8 170.2 421.7 171.2 409.6 172.5 397.5 174.1 385.5 175.8 373.5 178.1 361.5 180.5 349.6 183.3 337.8 186.4 326.1 189.8 314.4 193.5 302.8 197.2 291.3 202.5 280.4 208.4 269.8 216.2 260.7 225.5 253.4 234.9 245.7 244.6 238.4 254.5 231.4 265.3 226.0 276.4 221.2 287.7 216.9 299.3 213.5 310.6 209.5 322.1 205.7 340.2 199.0 349.3 197.7 355.6 197.1 367.5 193.8 376.9 192.6 386.2 191.9 392.9 190.9 402.5 188.6 409.5 186.8 417.3 186.9 427.9 184.2 438.1 190.8 448.3 192.7 454.4 191.7 460.9 189.0 471.6 187.2 478.1 185.2 485.2 183.3 492.0 182.8 503.5 180.5 512.9 189.8 522.7 190.1 532.0 190.4 538.7 190.5 546.0 188.2 552.1 188.5 564.5 188.9 568.8 213.5 577.2 213.6 585.6 213.4 596.4 213.3 604.7 211.2 615.0 201.7" fill="none" stroke="#cbcbcb" stroke-width="3.4" stroke-linejoin="round" stroke-linecap="round"/>
<path d="M168.2 458.0 169.1 446.0 170.0 433.9 171.1 421.9 172.4 409.9 173.8 397.9 175.5 385.9 177.4 374.0 179.7 362.2 182.2 350.3 185.0 338.6 188.1 326.9 191.4 315.3 195.1 303.8 198.7 292.3 204.0 281.4 209.8 270.9 217.5 261.7 226.3 253.6 235.7 246.0 245.3 238.8 255.2 231.8 266.0 226.7 277.3 222.2 288.7 218.4 300.3 215.5 311.9 212.1 323.4 208.5 343.1 194.7 352.2 192.9 358.4 191.3 368.3 189.7 375.0 188.8 383.4 188.1 393.3 186.8 400.0 184.8 410.7 182.6 416.9 182.9 428.2 182.0 437.3 187.5 445.8 188.5 452.3 187.7 459.6 185.2 470.5 183.1 477.9 182.3 484.1 180.6 494.1 179.2 502.5 176.3 510.7 175.1 518.6 174.3 522.3 207.1 530.0 207.9 537.9 207.6 550.7 206.3 558.9 204.5 570.9 204.9 575.1 239.1 587.6 226.4 599.5 228.8 608.4 225.5" fill="none" stroke="#cbcbcb" stroke-width="3.4" stroke-linejoin="round" stroke-linecap="round"/>
<path d="M167.3 458.0 167.8 445.8 168.3 433.6 169.0 421.4 169.7 409.2 170.7 397.0 172.1 384.8 173.6 372.7 175.7 360.7 178.1 348.7 181.0 336.8 184.1 324.9 187.5 313.2 191.3 301.5 195.0 289.9 200.3 278.9 206.4 268.3 214.4 259.4 224.4 253.2 233.8 245.3 243.6 237.9 253.6 230.8 264.2 225.0 275.2 219.7 286.4 214.9 297.7 210.6 308.9 206.0 320.3 201.7 343.0 197.0 350.9 195.6 359.6 194.5 367.1 192.3 373.2 192.8 383.8 189.9 391.5 189.7 399.9 187.1 409.6 185.4 416.8 183.9 428.0 183.9 438.4 190.1 445.0 191.0 457.0 188.0 463.7 187.3 475.1 183.3 485.2 183.2 497.2 180.7 507.4 177.4 519.4 176.5 525.9 174.9 536.4 173.7 544.0 172.3 555.0 212.5 565.6 214.0 572.7 214.9 577.6 242.2" fill="none" stroke="#cbcbcb" stroke-width="3.4" stroke-linejoin="round" stroke-linecap="round"/>
<path d="M167.1 458.0 167.6 445.7 168.0 433.5 168.5 421.3 169.1 409.0 170.1 396.8 171.4 384.6 172.9 372.4 174.9 360.3 177.3 348.3 180.1 336.4 183.3 324.5 186.7 312.7 190.5 301.1 194.3 289.4 199.5 278.4 205.6 267.7 213.8 258.9 224.1 253.1 233.4 245.1 243.2 237.7 253.2 230.6 263.9 224.6 274.8 219.2 285.9 214.1 297.2 209.6 308.3 204.7 319.7 200.3 338.6 197.7 346.3 196.8 353.9 194.9 362.7 193.7 369.3 191.3 379.8 189.3 390.0 187.7 399.4 187.2 406.4 185.0 416.3 184.9 426.9 182.4 435.6 187.1 439.1 246.1 446.5 245.9 458.9 246.7 468.4 246.6 477.0 247.7 488.1 246.7 497.3 245.5 503.5 245.9 509.6 245.4 513.8 375.2" fill="none" stroke="#cbcbcb" stroke-width="3.4" stroke-linejoin="round" stroke-linecap="round"/>
<path d="M166.4 458.0 166.4 445.6 166.5 433.2 166.6 420.8 166.8 408.4 167.4 396.0 168.3 383.6 169.6 371.3 171.4 359.0 173.7 346.9 176.6 334.8 179.8 322.8 183.2 310.9 187.2 299.1 191.1 287.3 196.3 276.2 202.6 265.5 211.0 256.9 222.5 252.6 231.8 244.5 241.7 237.0 251.8 229.8 262.3 223.2 273.0 217.0 283.9 211.1 294.9 205.4 305.7 199.3 317.0 194.4 328.7 190.2 339.2 195.1 347.0 193.8 357.9 192.0 364.5 191.2 375.8 188.3 385.6 187.9 397.4 186.3 409.2 182.5 415.5 183.0 425.0 181.9 436.4 186.4 447.2 189.3 456.8 185.9 467.8 182.8 478.7 181.4 486.5 179.7 498.2 178.1 503.3 201.2 511.8 201.7 523.9 202.5 534.8 203.6 542.4 203.7 549.1 210.6 556.2 210.3 566.1 207.6 577.4 207.8 584.4 205.1" fill="none" stroke="#cbcbcb" stroke-width="3.4" stroke-linejoin="round" stroke-linecap="round"/>
<path d="M167.8 458.0 168.5 445.9 169.3 433.8 170.2 421.7 171.2 409.6 172.5 397.5 174.1 385.5 175.8 373.5 178.0 361.5 180.5 349.6 183.3 337.8 186.4 326.1 189.8 314.4 193.5 302.8 197.1 291.2 202.4 280.4 208.3 269.7 216.2 260.7 225.5 253.4 234.9 245.7 244.6 238.4 254.5 231.4 265.3 225.9 276.4 221.1 287.7 216.9 299.2 213.4 310.6 209.5 322.1 205.6 341.1 196.9 349.1 195.4 360.5 193.2 370.2 191.7 381.3 189.3 387.2 214.7 396.2 215.7 403.3 213.5 416.1 214.3 424.3 214.3 434.5 213.4 440.7 232.3 452.2 230.3 462.0 230.4" fill="none" stroke="#cbcbcb" stroke-width="3.4" stroke-linejoin="round" stroke-linecap="round"/>
<path d="M166.5 458.0 166.6 445.6 166.6 433.2 166.8 420.8 167.0 408.5 167.7 396.1 168.7 383.7 169.9 371.4 171.8 359.2 174.1 347.0 177.0 335.0 180.2 323.0 183.6 311.1 187.5 299.3 191.4 287.6 196.6 276.4 202.9 265.7 211.3 257.2 222.6 252.7 232.0 244.5 241.9 237.1 251.9 229.9 262.5 223.3 273.2 217.2 284.1 211.4 295.2 205.9 306.0 199.9 317.3 195.1 329.0 191.0 339.8 199.2 347.6 198.4 356.5 196.1 362.5 195.3 374.0 194.1 381.6 193.0 387.7 191.4 395.0 190.5 402.5 188.7 411.4 186.5 420.8 185.6 430.3 185.8 437.4 191.3 443.7 192.6 454.4 190.2 466.1 187.6 472.7 186.7 484.1 183.8 491.1 183.1 500.5 180.8 507.8 180.1 516.9 178.2 523.1 186.8 530.6 184.0 537.9 184.0 545.7 181.7 555.8 179.3 564.8 179.4 577.6 177.6 585.2 176.2 589.9 224.4 597.2 225.6" fill="none" stroke="#cbcbcb" stroke-width="3.4" stroke-linejoin="round" stroke-linecap="round"/>
<path d="M167.4 458.0 167.9 445.8 168.4 433.6 169.1 421.4 169.8 409.2 170.9 397.0 172.3 384.9 173.9 372.8 176.0 360.7 178.4 348.8 181.2 336.9 184.4 325.0 187.7 313.3 191.5 301.7 195.3 290.0 200.5 279.0 206.6 268.4 214.6 259.5 224.5 253.2 233.9 245.3 243.7 238.0 253.6 230.9 264.3 225.1 275.3 219.8 286.5 215.1 297.9 210.9 309.1 206.3 320.5 202.1 338.3 197.4 344.9 196.4 356.7 192.8 364.8 191.2 372.9 190.7 381.7 189.3 392.3 187.6 401.4 185.6 407.9 185.8 418.2 184.4 427.2 182.6 434.7 185.7 445.3 190.9 451.5 207.1 462.4 206.7 471.2 206.8 483.3 205.1 496.3 205.7 503.3 227.5 515.2 227.1 522.0 224.3 530.9 222.7 540.3 220.0 549.8 219.3 556.3 220.1 567.0 219.7 577.3 217.5" fill="none" stroke="#cbcbcb" stroke-width="3.4" stroke-linejoin="round" stroke-linecap="round"/>
<path d="M166.7 458.0 166.9 445.7 167.0 433.3 167.3 421.0 167.6 408.6 168.4 396.3 169.5 384.0 170.8 371.7 172.7 359.5 175.0 347.4 177.9 335.4 181.1 323.4 184.5 311.6 188.4 299.8 192.3 288.1 197.5 277.0 203.7 266.3 212.0 257.7 223.1 252.8 232.4 244.7 242.3 237.3 252.3 230.1 262.9 223.7 273.7 217.8 284.6 212.2 295.8 207.0 306.7 201.3 318.0 196.6 329.7 192.7 338.6 197.7 348.1 194.4 357.5 192.8 368.0 192.5 378.5 189.3 387.2 187.9 395.2 186.5 406.3 185.5 416.3 183.7 427.8 183.2 437.8 188.9 446.2 190.1 453.1 189.4 463.0 185.8 474.8 182.9 484.2 182.2 492.4 180.0 500.2 177.5 507.0 177.5 518.5 175.4 525.2 174.0 533.7 173.8 543.9 172.2 552.3 216.3 561.9 217.2 570.0 237.8 583.3 236.4 593.4 235.2" fill="none" stroke="#cbcbcb" stroke-width="3.4" stroke-linejoin="round" stroke-linecap="round"/>
<path d="M168.2 458.0 169.1 446.0 170.0 433.9 171.1 421.9 172.3 409.9 173.7 397.9 175.5 385.9 177.3 374.0 179.7 362.1 182.1 350.3 184.9 338.5 188.0 326.9 191.4 315.3 195.0 303.7 198.6 292.2 204.0 281.4 209.8 270.8 217.5 261.6 226.2 253.6 235.6 246.0 245.3 238.8 255.2 231.8 266.0 226.6 277.2 222.2 288.6 218.3 300.3 215.4 311.8 212.0 323.3 208.4 341.7 199.8 349.1 197.7 359.3 266.4 371.9 267.7 382.9 265.8 390.8 264.3 398.2 265.1 408.4 266.4 420.2 265.6 430.2 266.0 437.0 266.6 448.7 265.0 453.8 307.2 464.7 304.3 474.9 303.2" fill="none" stroke="#cbcbcb" stroke-width="3.4" stroke-linejoin="round" stroke-linecap="round"/>
<path d="M167.2 458.0 167.6 445.8 168.0 433.5 168.6 421.3 169.2 409.0 170.2 396.8 171.5 384.6 173.0 372.5 175.1 360.4 177.4 348.4 180.3 336.5 183.5 324.6 186.8 312.8 190.6 301.2 194.4 289.5 199.7 278.5 205.8 267.8 213.9 259.0 224.1 253.1 233.5 245.2 243.3 237.8 253.3 230.7 263.9 224.7 274.9 219.3 286.0 214.3 297.3 209.8 308.4 204.9 319.8 200.6 337.1 198.5 348.9 196.3 358.1 194.2 365.9 224.5 375.8 225.4 385.0 224.8 396.4 224.9 405.4 223.7 411.5 223.7 419.9 224.3 429.6 222.5 438.0 220.5 444.7 218.7 451.5 217.9 453.0 244.4 463.3 242.5 473.4 241.1 486.3 239.9 497.5 240.5 507.6 241.6" fill="none" stroke="#cbcbcb" stroke-width="3.4" stroke-linejoin="round" stroke-linecap="round"/>
<path d="M167.3 458.0 167.7 445.8 168.2 433.5 168.8 421.3 169.5 409.1 170.5 396.9 171.9 384.8 173.4 372.6 175.5 360.6 177.9 348.6 180.7 336.6 183.9 324.8 187.2 313.0 191.0 301.4 194.8 289.7 200.1 278.7 206.1 268.1 214.2 259.3 224.3 253.1 233.7 245.2 243.5 237.9 253.5 230.8 264.1 224.9 273.2 266.8 282.2 265.8 294.4 266.7 300.8 264.3 312.0 263.2 316.3 279.7 327.3 280.4 336.7 279.8 346.4 280.1 356.5 281.8 366.4 280.2 377.2 278.3 383.7 274.8 391.1 272.7" fill="none" stroke="#cbcbcb" stroke-width="3.4" stroke-linejoin="round" stroke-linecap="round"/>
<path d="M166.5 458.0 166.6 445.6 166.7 433.2 166.9 420.9 167.1 408.5 167.7 396.1 168.7 383.8 170.0 371.5 171.9 359.2 174.2 347.1 177.1 335.0 180.3 323.0 183.7 311.1 187.6 299.4 191.5 287.6 196.7 276.5 203.0 265.8 211.4 257.2 222.7 252.7 232.0 244.6 241.9 237.1 252.0 229.9 262.5 223.4 273.3 217.3 284.2 211.5 295.2 206.0 306.1 200.1 317.4 195.2 329.1 191.1 339.8 200.0 348.9 196.5 357.3 195.7 366.2 194.1 377.6 192.0 385.8 190.5 396.1 189.1 407.1 186.1 416.2 186.4 427.4 184.0 435.6 190.1 441.8 192.7 452.5 191.3 463.8 186.6 473.6 186.2 482.5 183.1 490.9 181.9 499.8 181.0 506.1 178.4 513.5 177.6 521.2 176.4 523.8 250.1 534.6 248.5 546.0 249.6 556.7 250.5 560.5 354.2" fill="none" stroke="#cbcbcb" stroke-width="3.4" stroke-linejoin="round" stroke-linecap="round"/>
<path d="M167.9 458.0 168.7 445.9 169.5 433.8 170.4 421.7 171.5 409.7 172.8 397.6 174.4 385.6 176.2 373.6 178.5 361.7 180.9 349.8 183.7 338.0 186.8 326.3 190.2 314.6 193.9 303.1 197.6 291.5 202.8 280.6 208.7 270.0 216.5 261.0 225.7 253.5 235.1 245.8 244.8 238.5 254.7 231.5 265.5 226.1 269.2 269.8 278.1 268.2 286.7 269.1 294.0 268.6 305.5 267.2 313.5 266.9 325.5 268.4 337.6 267.1 345.1 293.7 353.5 294.3 364.3 294.6 371.2 293.4" fill="none" stroke="#cbcbcb" stroke-width="3.4" stroke-linejoin="round" stroke-linecap="round"/>
<path d="M168.4 458.0 169.5 446.0 170.5 434.0 171.7 422.0 173.1 410.1 174.7 398.2 176.5 386.3 178.5 374.4 180.8 362.6 183.3 350.8 186.1 339.1 189.2 327.5 192.5 315.9 196.2 304.4 199.7 292.9 205.1 282.2 210.8 271.6 218.4 262.3 226.8 253.8 236.2 246.3 245.8 239.0 255.7 232.1 266.6 227.1 277.8 222.9 289.3 219.4 301.1 216.9 312.7 213.8 324.2 210.4 335.5 199.7 347.4 196.7 356.5 194.0 364.4 194.0 373.7 192.8 385.3 189.3 392.6 189.2 401.6 186.5 409.5 185.4 420.8 183.7 431.2 185.0 438.3 191.0 446.9 191.6 456.8 189.4 466.2 185.6 472.8 184.5 480.8 183.6 489.8 181.8 496.7 180.7 504.4 177.8 506.6 212.3 519.4 211.0 531.7 210.5 544.1 210.7 548.4 464.6" fill="none" stroke="#cbcbcb" stroke-width="3.4" stroke-linejoin="round" stroke-linecap="round"/>
<path d="M167.4 458.0 167.9 445.8 168.4 433.6 169.1 421.4 169.8 409.2 170.9 397.0 172.3 384.9 173.9 372.8 176.0 360.8 178.4 348.8 181.2 336.9 184.4 325.1 187.8 313.3 191.5 301.7 195.3 290.0 200.5 279.1 206.6 268.4 214.6 259.6 224.6 253.2 233.9 245.3 243.7 238.0 253.9 267.0 266.5 268.7 276.3 267.2 286.7 267.2 293.6 265.5 300.3 263.7 308.8 261.8 316.3 261.8 323.4 260.8 336.0 258.6 343.8 293.1 353.7 292.0 363.6 292.9 371.7 291.1 381.6 289.7 389.5 286.5 401.3 285.5" fill="none" stroke="#cbcbcb" stroke-width="3.4" stroke-linejoin="round" stroke-linecap="round"/>
<path d="M248.5 262.0 249.0 300.0 249.5 333.0" fill="none" stroke="#cbcbcb" stroke-width="3.4" stroke-linejoin="round" stroke-linecap="round"/>
<path d="M254.2 312.8 257.4 322.5 262.3 334.0 267.2 319.3 277.0 312.8 280.2 322.5 288.3 337.2 293.2 330.7" fill="none" stroke="#cbcbcb" stroke-width="3.4" stroke-linejoin="round" stroke-linecap="round"/>
<path d="M418.0 157.0 423.3 154.5 440.0 151.5 456.6 149.5 481.4 142.9 504.6 140.4" fill="none" stroke="#cbcbcb" stroke-width="3.4" stroke-linejoin="round" stroke-linecap="round"/>
<path d="M420.0 155.5 440.0 150.0 456.6 148.0 481.4 141.4 500.0 139.5" fill="none" stroke="#cbcbcb" stroke-width="3.4" stroke-linejoin="round" stroke-linecap="round"/>
<path d="M165.4 486.0 165.5 470.0 166.0 440.0 166.5 410.0 168.5 380.0 172.0 352.0 177.0 328.0 182.0 307.0 191.0 280.0 200.5 263.0 207.5 255.0 220.0 250.0 232.0 241.0 248.5 229.0 265.0 218.5 281.0 209.5 298.0 200.5 315.6 192.0 332.0 186.0 357.0 177.4 381.9 168.0 398.5 163.0 410.0 158.0 423.3 151.5 440.0 148.5 456.6 146.5 481.4 139.9 504.6 137.4 526.1 138.3 532.8 143.2 539.4 151.5 546.0 160.6 552.6 164.8 560.9 173.0 567.5 166.4 572.5 163.1 589.1 162.3 635.5 158.1 647.1 157.3 671.9 151.5 705.0 147.4 732.5 143.8 742.5 145.0 747.5 148.8 750.0 185.0 753.0 238.3 775.3 236.6 791.9 234.1 798.5 235.8 805.2 230.8" fill="none" stroke="#cbcbcb" stroke-width="3.4" stroke-linejoin="round" stroke-linecap="round"/>
<path d="M504.6 137.4 507.9 163.1 512.9 168.1 530.0 166.0 560.0 170.0 585.0 166.0" fill="none" stroke="#cbcbcb" stroke-width="3.4" stroke-linejoin="round" stroke-linecap="round"/>
<path d="M526.1 138.3 527.0 182.0 528.5 225.0 529.0 262.0" fill="none" stroke="#cbcbcb" stroke-width="3.4" stroke-linejoin="round" stroke-linecap="round"/>
<path d="M560.0 190.0 590.0 187.0 605.6 185.5 622.2 184.6 638.8 185.5 652.0 181.3 680.0 179.0 721.6 175.5 724.9 178.0 750.0 178.8 775.0 181.2 785.0 183.8 792.0 182.5 800.0 187.5 805.0 187.0" fill="none" stroke="#cbcbcb" stroke-width="3.4" stroke-linejoin="round" stroke-linecap="round"/>
<path d="M600.0 183.5 622.0 182.5 640.0 183.3 652.0 179.5 670.0 178.0" fill="none" stroke="#cbcbcb" stroke-width="3.4" stroke-linejoin="round" stroke-linecap="round"/>
<path d="M636.0 158.5 638.8 159.8 640.4 169.7 652.0 173.0 658.7 176.3 666.9 165.6 676.9 164.8" fill="none" stroke="#cbcbcb" stroke-width="3.4" stroke-linejoin="round" stroke-linecap="round"/>
<path d="M600.0 214.0 622.2 212.8 655.3 208.6 675.2 206.2 681.8 202.9" fill="none" stroke="#cbcbcb" stroke-width="3.4" stroke-linejoin="round" stroke-linecap="round"/>
<path d="M600.0 224.0 627.2 222.7 647.1 219.4 671.9 217.8 696.7 216.1 721.6 219.4 732.5 220.0 733.9 233.0 735.6 258.1 738.9 291.3 742.2 316.1 746.3 348.2 758.8 341.5 766.2 333.3 773.7 336.6" fill="none" stroke="#cbcbcb" stroke-width="3.4" stroke-linejoin="round" stroke-linecap="round"/>
<path d="M740.5 288.0 752.1 281.3 758.8 287.1 775.3 283.8 788.6 282.1 798.5 283.0 805.2 285.5" fill="none" stroke="#cbcbcb" stroke-width="3.4" stroke-linejoin="round" stroke-linecap="round"/>
<path d="M640.0 240.0 667.7 236.6 679.3 234.9 687.5 240.7 700.8 228.3 714.0 237.4 720.7 232.5 730.6 236.6 733.9 233.3" fill="none" stroke="#cbcbcb" stroke-width="3.4" stroke-linejoin="round" stroke-linecap="round"/>
<path d="M584.1 206.2 591.6 163.1 595.7 207.8" fill="none" stroke="#cbcbcb" stroke-width="3.4" stroke-linejoin="round" stroke-linecap="round"/>
<path d="M655.3 187.9 662.0 229.4 663.0 258.0" fill="none" stroke="#cbcbcb" stroke-width="3.4" stroke-linejoin="round" stroke-linecap="round"/>
<path d="M604.0 206.2 620.6 206.2 622.2 217.8 625.0 235.0" fill="none" stroke="#cbcbcb" stroke-width="3.4" stroke-linejoin="round" stroke-linecap="round"/>
<path d="M560.0 258.1 593.1 260.6 626.3 262.3 656.1 260.6 659.4 258.1 676.0 255.6" fill="none" stroke="#cbcbcb" stroke-width="3.4" stroke-linejoin="round" stroke-linecap="round"/>
<path d="M631.2 249.8 650.0 245.0 667.7 248.2 676.0 246.5" fill="none" stroke="#cbcbcb" stroke-width="3.4" stroke-linejoin="round" stroke-linecap="round"/>
<path d="M631.2 263.1 634.5 320.0 636.2 351.5 646.1 344.8 659.4 342.4 667.7 344.8 676.0 334.9 682.6 332.4 688.4 333.3" fill="none" stroke="#cbcbcb" stroke-width="3.4" stroke-linejoin="round" stroke-linecap="round"/>
<path d="M614.7 269.7 618.0 286.3 626.3 289.6 632.9 291.3 642.8 301.2 649.4 279.7 656.1 287.9 659.4 320.0 661.9 366.4 667.7 371.3 674.3 364.7 680.9 363.9 688.4 371.3 694.2 368.9 700.8 370.5 708.3 367.2" fill="none" stroke="#cbcbcb" stroke-width="3.4" stroke-linejoin="round" stroke-linecap="round"/>
<path d="M612.0 420.0 622.9 401.2 629.6 368.0 637.9 384.6 647.8 394.5 656.1 391.2 662.7 386.3" fill="none" stroke="#cbcbcb" stroke-width="3.4" stroke-linejoin="round" stroke-linecap="round"/>
<path d="M166.3 458.0 166.3 450.3 166.3 442.7 166.3 435.0 166.3 427.3 166.4 419.7 166.4 412.0 166.5 404.3 167.0 396.7 167.5 389.1 168.1 381.4 168.8 373.8 169.9 366.2 171.0 358.6 172.2 351.0 174.0 343.6 175.8 336.1 177.7 328.7 179.8 321.3 181.9 314.0 184.1 306.6 186.6 299.4 189.0 292.1 191.4 284.8 194.7 277.9 198.6 271.3 202.6 264.8 207.4 258.9 214.4 256.3 221.5 253.4 227.5 248.6 233.4 243.6 239.6 239.1 245.9 234.6 252.2 230.3 258.8 226.5 265.5 222.8 272.4 219.4 279.3 216.3 286.1 213.1 293.1 210.1 300.0 207.2 306.7 203.9 313.6 200.7 320.8 198.3 328.0 196.1 335.2 193.8 340.0 194.5 346.7 193.1 353.3 191.4 360.0 190.5 366.7 189.0 373.5 188.8 380.2 188.0 386.4 186.3 392.6 185.3 398.8 184.0 405.0 183.0 415.0 179.7 421.6 178.8 428.3 178.9 431.6 188.0 438.2 192.9" fill="none" stroke="#ff0000" stroke-width="6.9" stroke-linejoin="round" stroke-linecap="round"/>
<path d="M166.6 458.0 166.8 445.6 166.9 433.3 167.2 420.9 167.5 408.6 168.2 396.2 169.3 383.9 170.6 371.6 172.5 359.4 174.8 347.3 177.7 335.3 180.9 323.3 184.3 311.4 188.2 299.7 192.1 288.0 197.3 276.8 203.5 266.2 211.9 257.5 223.0 252.8 232.3 244.7 242.2 237.2 252.2 230.0 262.8 223.6 273.6 217.6 284.5 212.0 295.6 206.7 306.5 201.0 317.8 196.2 329.5 192.2 335.8 198.7 345.8 197.8 354.2 195.5 364.5 193.5 374.8 192.5 382.2 190.7 393.8 189.0 400.7 188.1 408.1 185.3 419.6 184.6 431.2 186.2 442.6 190.5 452.5 190.5 463.6 185.7 467.2 198.0 478.3 198.2 488.7 198.1 498.8 198.4 506.2 198.4 512.4 197.0 521.5 197.7 529.3 204.7 535.8 202.5 541.9 198.8 549.7 198.6 561.1 198.8 573.4 198.3 582.1 196.4 593.5 194.4" fill="none" stroke="#cbcbcb" stroke-width="3.4" stroke-linejoin="round" stroke-linecap="round"/>
<path d="M167.1 458.0 167.4 445.7 167.8 433.5 168.3 421.2 168.8 408.9 169.8 396.7 171.0 384.5 172.5 372.3 174.5 360.2 176.9 348.2 179.7 336.2 182.9 324.3 186.3 312.5 190.1 300.8 193.9 289.2 199.2 278.1 205.3 267.5 213.5 258.7 223.9 253.0 233.2 245.1 243.0 237.7 253.1 230.5 263.7 224.5 274.6 218.9 285.7 213.8 296.9 209.2 308.0 204.1 319.4 199.7 322.6 241.1 330.1 240.0 341.7 239.9 348.8 238.2 355.8 237.0 367.8 234.8 378.9 234.1 389.2 232.2 399.5 230.4 404.6 267.7 417.1 269.3 424.4 269.9 431.4 271.8 443.4 270.6 449.9 269.0 456.2 254.7 465.0 252.2 476.1 249.9 488.0 251.0" fill="none" stroke="#cbcbcb" stroke-width="3.4" stroke-linejoin="round" stroke-linecap="round"/>
<path d="M166.4 458.0 166.5 445.6 166.6 433.2 166.7 420.8 166.9 408.4 167.5 396.0 168.5 383.7 169.8 371.4 171.6 359.1 173.9 346.9 176.8 334.9 180.0 322.9 183.4 311.0 187.3 299.2 191.3 287.5 196.5 276.3 202.8 265.6 211.2 257.0 222.6 252.7 231.9 244.5 241.8 237.0 251.9 229.8 262.4 223.3 273.1 217.1 284.0 211.2 295.0 205.6 305.9 199.6 317.2 194.7 328.9 190.6 335.7 198.1 342.8 196.7 352.3 195.3 363.9 194.0 375.0 192.1 385.0 189.1 390.3 229.0 400.7 228.3 411.7 227.1 423.6 225.3 435.2 226.1 443.1 227.0 453.9 227.5 458.2 255.4 470.0 253.7 480.1 255.3 490.7 255.8" fill="none" stroke="#cbcbcb" stroke-width="3.4" stroke-linejoin="round" stroke-linecap="round"/>
<path d="M167.8 458.0 168.5 445.9 169.2 433.8 170.1 421.6 171.1 409.5 172.3 397.5 173.9 385.4 175.6 373.4 177.8 361.4 180.3 349.5 183.1 337.7 186.2 326.0 189.6 314.3 193.3 302.7 197.0 291.1 202.3 280.2 208.2 269.6 216.1 260.6 225.4 253.4 234.8 245.7 244.5 238.4 254.4 231.4 265.2 225.9 276.3 221.0 287.6 216.7 299.1 213.2 310.5 209.2 321.9 205.3 338.8 196.4 347.7 193.1 355.4 192.1 366.9 190.9 373.1 189.3 384.5 188.0 392.5 185.7 402.2 183.5 412.3 183.8 422.4 181.3 425.2 258.7 432.0 259.8 440.7 258.1 453.4 256.2 461.0 254.9 471.0 279.8 479.9 278.2 492.0 277.6 498.3 273.9 505.5 270.5 512.3 271.4 523.3 272.9 532.2 269.7 543.3 271.5 556.2 270.0" fill="none" stroke="#cbcbcb" stroke-width="3.4" stroke-linejoin="round" stroke-linecap="round"/>
<path d="M166.9 458.0 167.1 445.7 167.4 433.4 167.8 421.1 168.2 408.8 169.0 396.5 170.2 384.2 171.6 372.0 173.6 359.8 175.9 347.8 178.8 335.8 182.0 323.9 185.4 312.0 189.2 300.3 193.1 288.6 198.3 277.5 204.5 266.9 212.7 258.2 223.5 252.9 232.8 244.9 242.6 237.4 252.7 230.3 263.3 224.1 274.1 218.3 285.1 213.0 296.3 208.0 307.3 202.6 318.7 198.1 345.0 195.0 355.1 193.5 362.6 192.5 373.2 190.5 382.3 189.9 392.5 187.5 399.9 186.1 411.0 228.9 419.5 228.6 431.0 227.1 442.7 227.8 455.5 227.3 466.8 227.9 474.5 314.3 485.2 314.1 497.7 310.3 505.0 312.3" fill="none" stroke="#cbcbcb" stroke-width="3.4" stroke-linejoin="round" stroke-linecap="round"/>
<path d="M166.9 458.0 167.2 445.7 167.5 433.4 167.9 421.1 168.4 408.8 169.2 396.5 170.4 384.3 171.8 372.1 173.8 359.9 176.2 347.9 179.0 335.9 182.2 324.0 185.6 312.2 189.4 300.5 193.3 288.8 198.5 277.7 204.7 267.0 212.9 258.3 223.6 252.9 232.9 244.9 242.7 237.5 252.8 230.4 263.4 224.2 274.2 218.5 285.3 213.2 296.5 208.3 307.5 203.0 318.9 198.5 336.3 195.7 347.5 193.5 353.6 192.5 360.6 190.2 368.2 189.9 375.4 189.6 383.2 188.1 391.3 185.4 399.9 185.0 408.8 183.5 415.6 181.6 422.3 181.4 433.5 184.2 444.4 187.7 449.0 214.0 460.7 212.8 468.4 212.3 479.2 213.2 488.5 211.5 500.7 212.1 513.9 247.3 522.8 248.2 531.2 244.5 539.4 240.7 546.2 243.1 556.7 228.6 569.6 226.0 577.2 225.8" fill="none" stroke="#cbcbcb" stroke-width="3.4" stroke-linejoin="round" stroke-linecap="round"/>
<path d="M167.8 458.0 168.5 445.9 169.2 433.8 170.2 421.7 171.1 409.6 172.4 397.5 174.0 385.4 175.7 373.4 177.9 361.5 180.4 349.6 183.2 337.8 186.3 326.0 189.7 314.3 193.4 302.8 197.1 291.2 202.4 280.3 208.3 269.7 216.1 260.7 225.5 253.4 234.8 245.7 244.5 238.4 254.5 231.4 265.2 225.9 276.3 221.1 287.6 216.8 299.2 213.3 310.5 209.3 314.0 215.0 326.8 215.1 338.1 215.9 348.3 215.9 354.3 339.7 362.2 336.9 369.9 334.6 380.6 322.3 389.4 323.2 400.2 320.2 409.9 321.4" fill="none" stroke="#cbcbcb" stroke-width="3.4" stroke-linejoin="round" stroke-linecap="round"/>
<path d="M166.8 458.0 167.0 445.7 167.3 433.4 167.6 421.0 168.0 408.7 168.8 396.4 170.0 384.2 171.3 371.9 173.3 359.7 175.6 347.6 178.5 335.6 181.7 323.7 185.1 311.9 189.0 300.2 192.8 288.5 198.0 277.3 204.2 266.7 212.5 258.0 223.3 252.9 232.7 244.8 242.5 237.4 252.6 230.2 263.1 224.0 274.6 268.4 288.5 268.5 294.5 387.6 302.4 387.5 312.1 385.4 321.3 377.3" fill="none" stroke="#cbcbcb" stroke-width="3.4" stroke-linejoin="round" stroke-linecap="round"/>
<path d="M168.2 458.0 169.2 446.0 170.1 433.9 171.2 421.9 172.5 409.9 174.0 397.9 175.7 386.0 177.6 374.1 179.9 362.2 182.4 350.4 185.2 338.7 188.3 327.0 191.7 315.4 195.3 303.9 198.9 292.4 204.2 281.6 210.0 271.0 217.7 261.8 226.4 253.7 235.8 246.1 245.4 238.8 255.3 231.9 266.1 226.7 277.4 222.4 287.4 266.9 299.1 268.5 309.4 268.8 317.8 270.0 324.7 271.2 333.1 270.4 340.5 268.9 347.0 267.4 349.7 292.1 363.0 292.1 375.1 292.7 383.1 291.1 395.7 278.2 402.3 274.6 410.1 275.8 416.4 275.0 426.9 276.1 439.6 277.4" fill="none" stroke="#cbcbcb" stroke-width="3.4" stroke-linejoin="round" stroke-linecap="round"/>
<path d="M166.5 458.0 166.6 445.6 166.7 433.2 166.9 420.9 167.1 408.5 167.8 396.1 168.8 383.8 170.0 371.5 171.9 359.2 174.2 347.1 177.1 335.0 180.3 323.1 183.7 311.1 187.6 299.4 191.5 287.6 196.8 276.5 203.0 265.8 211.4 257.2 222.7 252.7 232.0 244.6 241.9 237.1 252.0 229.9 262.5 223.4 273.3 217.3 284.2 211.5 295.2 206.0 306.1 200.1 317.4 195.3 329.1 191.2 335.6 198.5 342.4 196.8 350.4 195.5 357.4 194.5 363.8 191.6 373.8 191.9 385.0 189.7 391.9 187.2 399.7 185.9 406.7 184.9 415.0 183.8 425.8 183.4 432.6 185.6 443.0 189.4 454.7 188.6 463.3 185.3 474.8 183.3 483.4 182.5 490.5 180.2 502.1 178.9 512.7 177.2 519.6 175.8 526.1 229.8 534.4 226.6 543.3 227.2 554.7 225.4 567.3 225.1 579.1 264.0 589.8 262.9 600.9 264.9" fill="none" stroke="#cbcbcb" stroke-width="3.4" stroke-linejoin="round" stroke-linecap="round"/>
<path d="M166.5 458.0 166.5 445.6 166.6 433.2 166.8 420.8 166.9 408.4 167.6 396.1 168.6 383.7 169.8 371.4 171.7 359.1 174.0 347.0 176.9 334.9 180.1 322.9 183.5 311.0 187.4 299.3 191.3 287.5 196.5 276.3 202.9 265.7 211.3 257.1 222.6 252.7 231.9 244.5 241.8 237.0 251.9 229.8 262.4 223.3 273.2 217.2 284.1 211.3 295.1 205.7 305.9 199.8 317.3 194.9 328.9 190.8 339.3 197.8 348.3 196.4 355.6 195.1 364.7 191.7 375.1 190.4 387.0 189.3 394.2 188.5 402.1 187.1 408.2 184.9 417.9 183.5 425.9 182.1 435.6 188.4 443.4 190.8 450.5 239.4 460.3 237.0 471.3 237.7 479.4 239.1 486.9 237.1 496.4 238.0 504.9 238.6 507.3 247.7 516.9 248.8 523.5 249.8 534.6 248.9 543.9 247.3" fill="none" stroke="#cbcbcb" stroke-width="3.4" stroke-linejoin="round" stroke-linecap="round"/>
<path d="M167.7 458.0 168.4 445.9 169.1 433.7 170.0 421.6 171.0 409.5 172.2 397.4 173.7 385.4 175.5 373.3 177.7 361.4 180.1 349.5 182.9 337.6 186.0 325.9 189.4 314.2 193.1 302.6 196.8 291.0 202.1 280.1 208.0 269.5 215.9 260.5 225.3 253.4 234.7 245.7 244.4 238.3 254.4 231.3 265.1 225.8 276.2 220.9 287.5 216.6 299.0 213.0 310.3 208.9 321.8 205.0 330.5 224.7 342.8 221.2 350.6 221.2 357.9 219.6 368.7 218.2 377.7 217.7 384.5 311.2 392.6 308.3 403.5 307.5 409.6 308.7 416.2 305.8" fill="none" stroke="#cbcbcb" stroke-width="3.4" stroke-linejoin="round" stroke-linecap="round"/>
<path d="M168.4 458.0 169.5 446.0 170.5 434.0 171.8 422.0 173.1 410.1 174.7 398.2 176.5 386.3 178.5 374.4 180.9 362.6 183.4 350.8 186.2 339.1 189.2 327.5 192.6 315.9 196.2 304.4 199.8 292.9 205.1 282.2 210.8 271.6 218.4 262.3 226.8 253.8 236.2 246.3 245.8 239.0 255.7 232.1 266.6 227.1 277.8 223.0 289.3 219.4 301.1 216.9 312.7 213.8 324.2 210.5 345.4 196.2 352.3 195.6 360.4 193.9 371.5 190.9 379.7 189.9 387.7 190.0 394.9 187.6 402.0 185.9 408.7 184.6 419.4 184.5 427.4 183.6 439.0 189.9 448.9 189.8 456.7 188.0 465.4 185.7 473.6 183.7 484.3 181.7 494.5 180.6 505.9 177.5 513.4 177.4 519.0 227.2 531.8 226.3 544.2 225.4 548.2 242.4 560.6 241.5 573.2 241.7 584.8 238.1 591.0 236.4" fill="none" stroke="#cbcbcb" stroke-width="3.4" stroke-linejoin="round" stroke-linecap="round"/>
<path d="M166.5 458.0 166.6 445.6 166.7 433.2 166.9 420.9 167.2 408.5 167.8 396.1 168.9 383.8 170.1 371.5 172.0 359.3 174.3 347.1 177.2 335.1 180.4 323.1 183.8 311.2 187.7 299.4 191.6 287.7 196.8 276.5 203.1 265.9 211.5 257.3 222.7 252.7 232.1 244.6 242.0 237.1 252.0 229.9 262.5 223.4 273.3 217.4 284.2 211.6 295.3 206.1 306.2 200.3 317.5 195.4 329.2 191.3 339.9 195.9 350.6 194.0 360.0 193.0 367.6 191.6 379.4 189.8 387.1 229.9 396.3 227.2 403.4 226.3 413.7 226.2 423.6 227.1 433.0 227.6 439.5 236.9 450.6 237.9 461.2 238.9 473.9 235.0 483.6 233.4" fill="none" stroke="#cbcbcb" stroke-width="3.4" stroke-linejoin="round" stroke-linecap="round"/>
<path d="M168.5 458.0 169.5 446.0 170.6 434.0 171.9 422.1 173.3 410.1 174.9 398.2 176.7 386.3 178.7 374.5 181.1 362.7 183.6 350.9 186.4 339.2 189.5 327.6 192.8 316.0 196.4 304.6 200.0 293.1 205.3 282.3 211.0 271.7 218.6 262.5 226.9 253.8 236.3 246.3 245.9 239.1 255.8 232.2 266.7 227.2 277.9 223.1 289.5 219.6 301.2 217.2 312.9 214.2 324.4 210.9 342.3 197.2 352.2 194.9 360.4 194.2 372.0 191.6 379.2 190.0 388.1 189.0 394.3 187.5 403.7 186.8 413.6 185.7 421.3 183.4 431.5 185.8 441.1 190.3 447.7 191.4 454.5 189.1 464.6 186.1 475.0 183.0 484.2 181.8 494.3 179.9 505.7 178.0 512.9 177.4 515.2 233.8 525.1 234.2 533.0 233.6 540.4 232.4 549.2 233.2 558.7 231.4 564.9 229.6 572.1 228.5 582.4 249.1 592.1 246.5" fill="none" stroke="#cbcbcb" stroke-width="3.4" stroke-linejoin="round" stroke-linecap="round"/>
<path d="M167.9 458.0 168.6 445.9 169.4 433.8 170.3 421.7 171.4 409.6 172.7 397.6 174.3 385.5 176.1 373.5 178.3 361.6 180.7 349.7 183.5 337.9 186.7 326.2 190.0 314.5 193.7 303.0 197.4 291.4 202.7 280.5 208.6 269.9 216.4 260.9 225.6 253.5 235.0 245.8 244.7 238.5 254.9 267.6 262.2 267.1 268.5 267.0 277.8 264.8 284.4 264.3 291.3 263.8 304.3 265.1 312.7 265.5 320.7 263.3 331.2 263.3 333.0 279.4 345.6 281.8 352.8 282.5 365.5 283.1 376.4 281.5 385.2 282.2 392.2 282.5" fill="none" stroke="#cbcbcb" stroke-width="3.4" stroke-linejoin="round" stroke-linecap="round"/>
<path d="M167.7 458.0 168.4 445.9 169.0 433.7 169.9 421.6 170.8 409.5 172.0 397.4 173.5 385.3 175.2 373.3 177.4 361.3 179.9 349.4 182.7 337.5 185.8 325.8 189.2 314.1 192.9 302.5 196.6 290.9 201.9 280.0 207.8 269.4 215.7 260.4 225.2 253.4 234.6 245.6 244.3 238.3 254.3 231.3 265.0 225.7 276.1 220.8 287.4 216.4 298.8 212.7 310.2 208.6 321.6 204.6 338.2 199.4 348.0 196.8 359.1 193.7 369.9 192.7 376.6 191.7 386.2 190.3 397.2 188.0 406.9 186.9 413.9 184.5 423.9 184.2 435.6 188.9 444.9 191.9 451.6 189.8 463.5 186.7 473.3 184.3 479.7 182.9 487.0 181.3 495.8 179.4 506.8 177.5 512.8 177.3 520.4 175.6 530.7 174.9 541.8 173.9 544.7 218.9 552.8 218.7 562.2 219.7 574.3 218.6 586.8 217.8 594.4 215.9 599.8 229.9" fill="none" stroke="#cbcbcb" stroke-width="3.4" stroke-linejoin="round" stroke-linecap="round"/>
<path d="M166.7 458.0 167.0 445.7 167.2 433.3 167.5 421.0 167.8 408.7 168.6 396.4 169.7 384.1 171.1 371.8 173.0 359.6 175.4 347.5 178.2 335.5 181.4 323.6 184.8 311.7 188.7 300.0 192.6 288.3 197.8 277.2 204.0 266.5 212.3 257.9 223.2 252.8 232.6 244.8 242.4 237.3 252.4 230.2 263.0 223.8 273.8 218.0 284.8 212.5 296.0 207.3 306.9 201.8 318.3 197.1 330.0 193.3 341.9 197.4 348.2 195.7 355.1 193.1 366.1 193.0 375.2 191.0 382.0 188.8 389.8 187.4 400.4 185.6 409.2 184.0 416.4 183.7 425.5 182.4 434.8 187.2 441.7 190.5 448.3 190.4 459.2 187.8 470.5 184.2 482.1 182.2 492.1 179.1 498.3 178.4 509.7 177.7 520.6 175.3 527.8 174.0 540.0 201.4 551.3 198.4 559.2 199.2 565.5 199.3 569.0 282.7 583.1 285.1 594.1 284.8 605.8 283.9" fill="none" stroke="#cbcbcb" stroke-width="3.4" stroke-linejoin="round" stroke-linecap="round"/>
<path d="M167.4 458.0 167.9 445.8 168.4 433.6 169.1 421.4 169.9 409.2 170.9 397.1 172.3 384.9 173.9 372.8 176.0 360.8 178.4 348.8 181.3 336.9 184.4 325.1 187.8 313.3 191.6 301.7 195.3 290.1 200.6 279.1 206.6 268.5 214.7 259.6 224.6 253.2 234.0 245.3 243.7 238.0 253.7 230.9 264.4 225.1 275.4 219.9 286.6 215.1 297.9 211.0 309.1 206.4 320.6 202.3 342.5 195.6 350.4 193.6 359.5 191.3 367.5 190.7 376.3 189.9 387.1 187.8 396.6 185.4 407.2 184.4 415.1 182.4 423.8 181.5 431.9 183.6 440.1 188.3 449.2 189.7 455.8 187.2 465.8 184.5 473.4 182.4 478.0 230.8 486.5 231.3 496.7 230.6 508.9 229.6 521.9 228.1 530.1 228.1 533.4 264.0 541.9 261.0 551.3 261.0 562.2 260.0 572.0 257.3 582.4 259.5 591.4 260.6" fill="none" stroke="#cbcbcb" stroke-width="3.4" stroke-linejoin="round" stroke-linecap="round"/>
<path d="M168.1 458.0 169.0 445.9 169.9 433.9 171.0 421.9 172.2 409.8 173.6 397.8 175.4 385.9 177.2 373.9 179.5 362.1 182.0 350.2 184.8 338.5 187.9 326.8 191.2 315.2 194.9 303.7 198.5 292.1 203.8 281.3 209.6 270.7 217.4 261.6 226.2 253.6 235.6 246.0 245.2 238.7 255.1 231.8 266.0 226.6 277.1 222.1 288.6 218.2 300.2 215.3 311.7 211.8 323.2 208.2 339.1 198.3 347.8 195.7 354.0 194.3 365.5 193.6 375.6 190.8 384.9 190.3 395.7 186.9 407.6 186.4 417.3 185.2 423.6 183.0 433.6 186.5 443.4 191.3 454.7 188.4 463.2 187.1 472.0 183.3 478.4 183.1 485.7 181.6 494.4 179.3 501.1 179.9 510.9 177.6 515.1 204.5 527.0 203.6 539.9 204.5 549.1 204.3 556.5 202.9 565.0 202.2 575.0 199.5 580.4 230.4" fill="none" stroke="#cbcbcb" stroke-width="3.4" stroke-linejoin="round" stroke-linecap="round"/>
<path d="M166.8 458.0 167.1 445.7 167.4 433.4 167.8 421.1 168.2 408.8 169.0 396.5 170.2 384.2 171.6 372.0 173.5 359.8 175.9 347.7 178.8 335.8 181.9 323.9 185.3 312.0 189.2 300.3 193.0 288.6 198.3 277.5 204.4 266.8 212.7 258.1 223.4 252.9 232.8 244.9 242.6 237.4 252.6 230.3 263.2 224.1 273.8 262.1 281.7 262.4 292.5 261.9 304.2 260.2 306.4 464.9 315.3 464.2 324.1 464.4 333.5 461.3 340.6 458.0 351.9 460.1 361.9 461.0 371.8 460.3" fill="none" stroke="#cbcbcb" stroke-width="3.4" stroke-linejoin="round" stroke-linecap="round"/>
<path d="M167.4 458.0 167.9 445.8 168.4 433.6 169.1 421.4 169.8 409.2 170.9 397.0 172.2 384.9 173.8 372.8 175.9 360.7 178.3 348.7 181.2 336.8 184.3 325.0 187.7 313.3 191.5 301.6 195.2 290.0 200.5 279.0 206.5 268.4 214.6 259.5 224.5 253.2 233.9 245.3 243.7 238.0 253.6 230.9 264.3 225.1 275.3 219.8 286.5 215.0 297.9 210.9 309.0 206.3 320.5 202.1 340.6 199.5 348.8 197.9 356.4 196.9 365.6 195.1 374.4 193.8 383.2 190.8 393.4 190.8 403.1 188.5 411.3 186.5 419.1 186.2 427.9 217.8 436.7 219.2 447.3 219.2 460.2 348.6 473.0 346.9 481.2 347.2 487.8 345.1 499.5 342.8 508.9 333.3 517.1 332.6 525.2 332.3" fill="none" stroke="#cbcbcb" stroke-width="3.4" stroke-linejoin="round" stroke-linecap="round"/>
<path d="M167.7 458.0 168.3 445.9 169.0 433.7 169.8 421.6 170.8 409.5 172.0 397.4 173.5 385.3 175.2 373.2 177.4 361.3 179.8 349.4 182.6 337.5 185.8 325.7 189.1 314.0 192.9 302.5 196.6 290.9 201.8 279.9 207.8 269.3 215.7 260.3 225.2 253.4 234.6 245.6 244.3 238.3 254.2 231.3 265.0 225.7 276.1 220.7 287.3 216.3 298.8 212.6 310.1 208.5 321.6 204.5 336.5 200.5 344.6 198.7 352.5 198.0 361.0 195.8 371.3 193.5 377.8 193.7 385.5 191.0 394.9 190.8 406.1 187.3 413.6 186.8 424.9 185.0 433.7 189.2 445.5 193.7 455.1 191.4 463.5 188.5 473.5 186.1 484.3 183.3 496.3 182.7 503.1 179.9 511.0 179.5 519.9 178.0 526.9 207.7 538.1 204.7 549.4 205.2 559.6 203.5 565.4 246.0 577.7 243.6 586.2 241.2" fill="none" stroke="#cbcbcb" stroke-width="3.4" stroke-linejoin="round" stroke-linecap="round"/>
<path d="M168.1 458.0 168.9 445.9 169.8 433.9 170.9 421.8 172.0 409.8 173.4 397.8 175.1 385.8 176.9 373.9 179.2 362.0 181.7 350.1 184.5 338.4 187.6 326.7 191.0 315.0 194.6 303.5 198.3 292.0 203.6 281.1 209.4 270.5 217.2 261.4 226.0 253.6 235.4 246.0 245.1 238.7 255.0 231.7 265.8 226.5 277.0 221.9 288.4 218.0 300.0 214.9 311.5 211.3 314.2 238.6 321.3 236.7 332.4 235.1 333.8 258.2 345.2 256.9 352.9 254.1 359.8 254.0 367.6 253.0 374.9 254.7" fill="none" stroke="#cbcbcb" stroke-width="3.4" stroke-linejoin="round" stroke-linecap="round"/>
<path d="M168.4 458.0 169.4 446.0 170.4 434.0 171.6 422.0 172.9 410.0 174.5 398.1 176.3 386.2 178.2 374.3 180.6 362.5 183.1 350.7 185.8 339.0 188.9 327.3 192.3 315.7 195.9 304.3 199.5 292.8 204.8 282.0 210.6 271.4 218.2 262.2 226.7 253.7 236.1 246.2 245.7 239.0 255.5 232.1 266.4 227.0 277.7 222.8 289.2 219.1 300.9 216.5 312.5 213.4 324.0 210.0 338.3 199.7 344.9 197.4 353.0 197.0 359.2 193.8 369.9 192.7 376.7 191.3 383.0 190.6 394.5 189.5 406.2 186.0 411.4 195.9 423.7 195.4 431.9 192.8 443.4 192.8 455.6 192.1 459.2 206.9 473.3 206.3 483.8 204.5 490.6 206.5 502.0 208.5 512.5 210.1" fill="none" stroke="#cbcbcb" stroke-width="3.4" stroke-linejoin="round" stroke-linecap="round"/>
<path d="M168.5 458.0 169.5 446.0 170.6 434.0 171.9 422.1 173.3 410.1 174.9 398.2 176.7 386.3 178.7 374.5 181.1 362.7 183.6 350.9 186.4 339.2 189.5 327.6 192.8 316.0 196.4 304.6 200.0 293.1 205.3 282.3 211.0 271.7 218.6 262.5 226.9 253.8 236.3 246.3 245.9 239.1 255.8 232.2 266.7 227.2 278.0 223.1 289.5 219.6 301.2 217.2 312.9 214.2 324.4 210.9 339.3 198.8 347.7 197.4 358.0 194.7 369.4 193.1 377.7 191.5 387.2 190.8 394.4 189.5 403.6 187.1 411.5 185.6 422.0 202.0 429.1 201.6 435.7 201.5 444.2 216.8 452.1 219.0 460.9 219.1 468.8 217.5 479.0 217.1" fill="none" stroke="#cbcbcb" stroke-width="3.4" stroke-linejoin="round" stroke-linecap="round"/>
<path d="M168.2 458.0 169.1 446.0 170.1 433.9 171.2 421.9 172.4 409.9 173.9 397.9 175.7 386.0 177.5 374.1 179.9 362.2 182.3 350.4 185.1 338.6 188.2 327.0 191.6 315.4 195.2 303.9 198.8 292.3 204.1 281.5 209.9 270.9 217.6 261.8 226.3 253.7 235.7 246.1 245.4 238.8 255.3 231.9 266.1 226.7 277.3 222.3 288.7 218.5 300.4 215.7 311.9 212.3 323.5 208.8 337.7 197.8 345.1 196.0 353.2 193.6 363.5 190.8 369.6 232.6 377.1 234.1 389.5 233.4 400.7 441.5 413.0 441.9 419.7 442.4 430.5 441.5 438.6 443.9 444.9 444.6 453.5 444.4" fill="none" stroke="#cbcbcb" stroke-width="3.4" stroke-linejoin="round" stroke-linecap="round"/>
<path d="M167.3 458.0 167.8 445.8 168.3 433.6 169.0 421.4 169.7 409.2 170.8 397.0 172.1 384.9 173.7 372.7 175.8 360.7 178.2 348.7 181.0 336.8 184.2 325.0 187.6 313.2 191.3 301.6 195.1 289.9 200.4 278.9 206.4 268.3 214.5 259.4 224.5 253.2 233.8 245.3 243.6 237.9 253.6 230.9 264.3 225.0 275.2 219.7 286.4 214.9 297.8 210.7 309.0 206.1 320.4 201.9 335.6 199.3 343.0 199.1 351.6 195.9 357.7 196.3 364.1 194.3 373.2 192.6 380.7 191.4 389.4 190.1 400.8 189.0 407.1 186.7 413.3 186.3 423.3 185.0 429.8 185.2 436.8 190.8 447.7 192.3 456.8 190.4 466.5 186.0 478.0 184.8 489.3 182.2 498.6 181.0 507.9 178.3 515.0 177.8 520.8 217.1 534.1 215.2 546.2 213.2 554.3 213.7 566.1 212.0 575.0 210.9 581.5 305.1" fill="none" stroke="#cbcbcb" stroke-width="3.4" stroke-linejoin="round" stroke-linecap="round"/>
<path d="M168.5 458.0 169.6 446.0 170.6 434.0 171.9 422.1 173.3 410.1 174.9 398.2 176.8 386.3 178.8 374.5 181.2 362.7 183.7 350.9 186.4 339.2 189.5 327.6 192.9 316.1 196.5 304.6 200.0 293.1 205.4 282.4 211.1 271.8 218.7 262.5 226.9 253.8 236.3 246.3 245.9 239.1 255.8 232.2 266.7 227.3 278.0 223.1 289.5 219.7 301.3 217.3 312.9 214.3 324.5 211.0 341.5 196.8 350.5 195.1 361.1 192.6 371.1 191.5 380.8 190.4 390.8 188.5 397.5 186.2 401.1 212.7 412.6 215.4 421.3 215.7 431.3 214.2 443.0 215.1 452.4 214.5 462.2 213.2 473.2 212.6 480.2 213.1 484.0 430.4 496.5 420.3 503.9 417.8 516.3 412.6 524.6 411.6 535.9 408.2 542.9 409.6 551.7 407.8 561.9 406.8" fill="none" stroke="#cbcbcb" stroke-width="3.4" stroke-linejoin="round" stroke-linecap="round"/>
<path d="M166.6 458.0 166.7 445.6 166.9 433.3 167.1 420.9 167.4 408.6 168.1 396.2 169.1 383.9 170.4 371.6 172.3 359.4 174.7 347.2 177.6 335.2 180.8 323.3 184.1 311.4 188.0 299.6 191.9 287.9 197.1 276.7 203.4 266.1 211.8 257.5 222.9 252.7 232.2 244.6 242.1 237.2 252.2 230.0 262.7 223.6 273.5 217.6 284.4 211.9 295.5 206.5 306.4 200.8 317.7 196.0 329.4 192.0 336.6 195.6 345.8 193.9 354.3 193.4 363.5 189.8 371.5 189.7 378.1 189.2 384.4 258.3 392.9 258.9 404.0 259.6 412.8 260.0 423.4 261.4 434.3 384.1 444.5 386.3 454.5 388.2 463.1 390.0 474.3 388.2" fill="none" stroke="#cbcbcb" stroke-width="3.4" stroke-linejoin="round" stroke-linecap="round"/>
<path d="M166.5 458.0 166.7 445.6 166.8 433.3 167.0 420.9 167.2 408.5 167.9 396.2 169.0 383.8 170.2 371.5 172.1 359.3 174.4 347.2 177.3 335.1 180.5 323.2 183.9 311.3 187.8 299.5 191.7 287.8 196.9 276.6 203.2 265.9 211.6 257.3 222.8 252.7 232.1 244.6 242.0 237.1 252.1 229.9 262.6 223.5 273.4 217.4 284.3 211.7 295.4 206.3 306.2 200.4 317.6 195.6 329.3 191.6 336.7 200.1 349.2 228.6 361.5 227.7 367.6 225.7 378.4 226.8 383.3 243.2 390.9 241.7 397.3 241.8 407.7 239.8 418.4 238.7 426.4 236.5" fill="none" stroke="#cbcbcb" stroke-width="3.4" stroke-linejoin="round" stroke-linecap="round"/>
<path d="M168.2 458.0 169.2 446.0 170.1 433.9 171.3 421.9 172.5 409.9 174.0 398.0 175.8 386.0 177.7 374.1 180.0 362.3 182.5 350.5 185.3 338.7 188.4 327.1 191.7 315.5 195.4 304.0 199.0 292.4 204.3 281.6 210.1 271.0 217.8 261.9 226.4 253.7 235.8 246.1 245.4 238.9 255.3 231.9 266.2 226.8 277.4 222.4 288.8 218.6 300.5 215.9 312.1 212.5 323.6 209.0 344.0 197.1 350.3 195.3 362.0 192.9 373.8 192.0 385.4 189.6 391.5 262.1 402.5 262.6 410.8 261.7 417.8 262.2 424.0 261.9 430.1 261.0 441.4 262.1 453.0 262.2 462.7 261.8 467.7 339.7 480.4 341.2 487.5 342.9 496.4 341.7 505.9 339.1 516.7 339.9 526.5 341.7 539.0 339.9" fill="none" stroke="#cbcbcb" stroke-width="3.4" stroke-linejoin="round" stroke-linecap="round"/>
<path d="M168.4 458.0 169.4 446.0 170.4 434.0 171.6 422.0 172.9 410.0 174.4 398.1 176.3 386.2 178.2 374.3 180.6 362.5 183.1 350.7 185.8 339.0 188.9 327.3 192.3 315.7 195.9 304.3 199.5 292.7 204.8 282.0 210.6 271.4 218.2 262.2 226.7 253.7 236.0 246.2 245.7 239.0 255.5 232.1 266.4 227.0 277.7 222.8 289.2 219.1 300.9 216.5 312.5 213.4 324.0 210.0 345.0 195.5 355.9 194.4 364.4 192.8 372.1 191.5 378.5 189.7 389.8 188.7 396.0 187.7 404.1 185.6 411.6 185.3 421.1 182.9 427.4 182.5 433.5 186.6 440.3 189.5 452.0 189.2 459.4 187.3 465.9 185.6 472.4 184.2 481.6 181.2 492.6 179.5 501.6 179.2 510.7 176.8 518.1 249.2 525.8 244.6 538.5 245.1 548.3 246.0 556.2 244.8 557.8 259.7 570.6 260.2 577.7 256.4 587.8 253.9" fill="none" stroke="#cbcbcb" stroke-width="3.4" stroke-linejoin="round" stroke-linecap="round"/>
<path d="M167.4 458.0 168.0 445.8 168.6 433.6 169.3 421.4 170.1 409.3 171.2 397.1 172.6 385.0 174.2 372.9 176.3 360.9 178.7 348.9 181.6 337.0 184.7 325.2 188.1 313.5 191.9 301.9 195.6 290.2 200.9 279.3 206.9 268.7 214.9 259.7 224.7 253.2 234.1 245.4 243.8 238.0 253.8 231.0 264.5 225.2 275.5 220.1 286.7 215.4 298.1 211.4 309.3 206.9 320.8 202.8 338.3 199.8 347.1 199.3 357.3 196.1 369.0 193.5 379.8 193.3 391.7 191.3 398.4 188.9 410.0 188.4 422.0 186.6 430.2 187.2 438.6 191.5 448.0 193.0 459.4 189.6 468.6 186.8 475.1 215.4 483.6 213.7 491.3 212.5 497.8 211.4 507.4 211.8 519.6 209.6 529.0 209.0 539.7 210.6 546.5 210.5 553.2 251.3 562.3 250.3 574.6 250.8 582.4 251.6" fill="none" stroke="#cbcbcb" stroke-width="3.4" stroke-linejoin="round" stroke-linecap="round"/>
<path d="M166.5 458.0 166.6 445.6 166.7 433.2 166.9 420.9 167.1 408.5 167.8 396.1 168.8 383.8 170.1 371.5 171.9 359.2 174.2 347.1 177.1 335.0 180.3 323.1 183.7 311.1 187.6 299.4 191.6 287.6 196.8 276.5 203.1 265.8 211.4 257.2 222.7 252.7 232.0 244.6 241.9 237.1 252.0 229.9 262.5 223.4 273.3 217.3 284.2 211.5 295.2 206.0 306.1 200.1 317.4 195.3 329.1 191.2 336.5 198.9 347.2 197.1 358.3 194.3 369.8 192.2 377.6 191.0 388.4 189.9 395.4 188.8 405.8 185.6 412.1 186.1 418.2 184.9 428.8 183.9 439.0 190.1 450.1 190.1 461.5 186.6 471.7 184.4 476.9 216.7 490.2 218.0 503.1 219.1 508.2 256.6 517.5 257.5 527.9 254.3 535.6 255.3 548.0 255.5 560.6 255.1 566.7 255.8" fill="none" stroke="#cbcbcb" stroke-width="3.4" stroke-linejoin="round" stroke-linecap="round"/>
<path d="M166.6 458.0 166.8 445.6 167.0 433.3 167.2 420.9 167.5 408.6 168.3 396.3 169.3 384.0 170.7 371.7 172.6 359.5 174.9 347.3 177.8 335.3 181.0 323.4 184.4 311.5 188.3 299.8 192.1 288.0 197.4 276.9 203.6 266.2 211.9 257.6 223.0 252.8 232.3 244.7 242.2 237.2 252.3 230.1 262.8 223.7 273.6 217.7 284.6 212.1 295.7 206.8 306.6 201.1 317.9 196.4 329.6 192.4 337.4 200.4 348.7 197.1 358.7 195.3 367.6 194.2 378.9 192.4 388.6 190.5 400.5 186.8 404.4 204.1 415.6 207.1 422.5 206.8 432.5 204.8 445.3 205.2 454.9 203.9 464.0 203.4 472.4 237.7 484.8 233.7 495.5 232.9 507.3 229.5" fill="none" stroke="#cbcbcb" stroke-width="3.4" stroke-linejoin="round" stroke-linecap="round"/>
<path d="M166.6 458.0 166.7 445.6 166.8 433.3 167.1 420.9 167.3 408.5 168.0 396.2 169.1 383.9 170.4 371.6 172.3 359.3 174.6 347.2 177.5 335.2 180.7 323.2 184.1 311.3 188.0 299.6 191.9 287.8 197.1 276.7 203.3 266.0 211.7 257.4 222.9 252.7 232.2 244.6 242.1 237.2 252.1 230.0 262.7 223.5 273.4 217.5 284.4 211.8 295.5 206.4 306.3 200.6 317.7 195.8 329.4 191.8 341.1 200.1 346.0 219.2 358.0 218.9 367.9 218.3 376.2 218.3 384.3 216.3 391.1 216.7 399.5 215.9 405.7 216.6 416.5 216.3 425.8 306.6 438.0 307.6 446.4 305.5 458.2 307.2 464.3 305.2 470.8 304.9 483.3 303.3 491.2 305.4" fill="none" stroke="#cbcbcb" stroke-width="3.4" stroke-linejoin="round" stroke-linecap="round"/>
<path d="M167.6 458.0 168.3 445.8 168.9 433.7 169.7 421.5 170.6 409.4 171.8 397.3 173.3 385.2 175.0 373.2 177.1 361.2 179.5 349.2 182.4 337.4 185.5 325.6 188.9 313.9 192.6 302.3 196.3 290.7 201.6 279.8 207.6 269.2 215.5 260.2 225.1 253.3 234.5 245.6 244.2 238.2 254.1 231.2 264.9 225.6 275.9 220.6 287.2 216.1 298.6 212.3 309.9 208.1 321.4 204.1 335.3 198.6 342.9 195.7 354.6 193.4 363.6 191.1 371.2 190.5 377.6 189.2 386.3 188.9 396.2 185.8 405.9 185.8 416.0 183.7 421.0 225.7 431.6 228.2 438.7 226.7 446.2 226.8 452.2 226.1 459.7 223.5 468.3 221.5 477.6 220.3 479.1 256.2 491.4 255.4 498.0 253.8 504.5 251.1 515.5 248.3 527.6 246.5 534.3 245.6 541.0 247.6 550.1 248.4 559.5 244.8" fill="none" stroke="#cbcbcb" stroke-width="3.4" stroke-linejoin="round" stroke-linecap="round"/>
<path d="M168.3 458.0 169.2 446.0 170.2 433.9 171.3 421.9 172.6 409.9 174.1 398.0 175.8 386.0 177.7 374.1 180.1 362.3 182.6 350.5 185.4 338.7 188.5 327.1 191.8 315.5 195.5 304.0 199.0 292.5 204.4 281.7 210.1 271.1 217.8 261.9 226.4 253.7 235.8 246.1 245.5 238.9 255.3 231.9 266.2 226.8 277.4 222.5 288.9 218.7 300.6 215.9 312.1 212.6 323.6 209.1 342.6 198.8 351.5 195.7 362.5 193.6 365.2 219.4 376.0 220.8 383.6 220.4 391.2 218.8 400.8 219.0 409.2 218.0 420.4 215.9 430.2 261.4 438.0 258.7 446.2 258.1 452.4 254.8 464.1 252.0 472.8 242.8 485.6 239.3" fill="none" stroke="#cbcbcb" stroke-width="3.4" stroke-linejoin="round" stroke-linecap="round"/>
<path d="M167.3 458.0 167.8 445.8 168.3 433.6 168.9 421.4 169.7 409.2 170.7 397.0 172.1 384.8 173.6 372.7 175.7 360.7 178.1 348.7 181.0 336.8 184.1 324.9 187.5 313.2 191.3 301.5 195.0 289.9 200.3 278.9 206.3 268.3 214.4 259.4 224.4 253.2 233.8 245.3 243.6 237.9 253.6 230.8 264.2 225.0 275.2 219.7 286.4 214.9 297.7 210.6 308.9 205.9 320.3 201.7 339.7 223.1 348.7 223.8 361.5 223.3 373.7 222.6 384.4 221.7 392.4 219.6 401.0 220.2 411.2 218.5 415.6 249.3 425.7 247.9 433.7 247.2 446.0 245.2 452.0 247.1 463.0 237.4 473.6 225.0 484.4 223.5" fill="none" stroke="#cbcbcb" stroke-width="3.4" stroke-linejoin="round" stroke-linecap="round"/>
<path d="M166.5 458.0 166.7 445.6 166.8 433.3 167.0 420.9 167.2 408.5 167.9 396.2 168.9 383.8 170.2 371.5 172.1 359.3 174.4 347.2 177.3 335.1 180.5 323.2 183.9 311.3 187.8 299.5 191.7 287.8 196.9 276.6 203.2 265.9 211.6 257.3 222.8 252.7 232.1 244.6 242.0 237.1 252.1 229.9 262.6 223.5 273.4 217.4 284.3 211.7 295.4 206.3 306.2 200.4 317.6 195.6 329.3 191.6 338.4 196.6 344.8 195.1 356.1 192.7 362.5 193.0 369.5 190.7 380.1 189.3 391.0 188.2 401.5 186.3 408.1 185.5 416.9 184.2 425.7 183.1 434.4 185.7 441.0 190.9 449.5 189.5 457.5 186.9 465.0 183.8 469.4 237.7 480.3 236.8 490.8 236.8 499.6 236.7 504.8 250.8 513.6 252.6 521.3 240.7 532.8 238.7 541.8 239.8 550.2 237.3 556.7 236.1 565.6 235.6 573.9 235.2" fill="none" stroke="#cbcbcb" stroke-width="3.4" stroke-linejoin="round" stroke-linecap="round"/>
<path d="M349.0 300.0 350.0 380.0 350.4 470.0" fill="none" stroke="#cbcbcb" stroke-width="3.4" stroke-linejoin="round" stroke-linecap="round"/>
<path d="M168.0 442.0 172.5 415.0 179.0 388.0 187.5 355.0 189.9 348.6 192.2 344.2 194.6 337.8 197.0 332.0 200.5 325.3 204.0 318.0 207.8 313.1 211.7 308.7 215.5 304.4 219.9 299.6 224.4 293.7 229.7 284.8 236.8 278.6 241.5 275.8 246.3 272.1 251.0 268.0 259.9 261.8 264.9 259.0 270.0 255.5 277.5 254.0 280.4 265.1 282.9 277.7 286.5 295.5 288.7 301.1 290.9 306.1 298.0 313.2 301.5 318.1 305.0 322.0 305.7 363.1 307.4 396.3 309.8 442.0 311.5 536.3 313.2 554.5 316.1 560.1 319.0 565.2 323.4 559.8 327.8 555.1 332.2 549.5 336.6 544.9 341.1 539.7 345.5 533.8 352.1 533.8 357.0 546.2 360.4 550.3 366.2 547.6 372.0 545.4 376.9 543.1 381.9 539.6 388.1 536.4 394.3 534.6 400.5 531.4 406.7 529.6 410.9 521.4 413.4 515.6 415.9 508.9 418.8 514.1 421.7 519.7 431.6 518.0 436.6 515.8 441.5 513.1 447.8 509.0 454.0 503.8 460.5 500.9 467.0 498.8 472.0 502.8 480.0 500.8 487.9 502.6 495.9 503.8 501.9 502.0 507.9 499.8 513.9 497.3 519.9 495.8 526.5 494.3 533.2 492.5 539.8 491.9 546.5 488.6 553.1 486.3 559.8 482.9 566.5 481.3 573.1 479.9 579.8 478.9 586.4 477.6 593.1 475.8 599.7 473.9 606.4 473.1 613.0 471.3 619.7 469.9 626.4 468.7 633.0 465.8 639.7 464.9 646.4 461.7 653.0 459.4 659.7 455.9 666.3 455.5 673.0 453.9 679.6 452.9 686.3 451.5 692.9 450.1 699.6 447.9 706.3 446.7 712.9 446.0 719.6 444.9 726.2 442.3 732.9 440.2 739.5 438.9 746.5 436.7 753.5 433.9 759.5 433.0 765.5 431.5" fill="none" stroke="#ff0000" stroke-width="6.9" stroke-linejoin="round" stroke-linecap="round"/>
<path d="M168.2 442.0 173.0 415.0 179.8 388.0 189.5 355.0 192.2 348.8 195.0 343.0 197.8 337.1 200.5 332.0 204.9 326.5 209.3 320.0 213.3 313.4 217.3 307.9 220.9 303.6 224.4 299.0 229.7 299.0 237.7 291.9 242.1 289.1 246.6 285.3 251.0 281.3 259.9 275.1 266.1 272.4 268.7 277.7 271.4 284.0 274.1 291.1 277.6 297.3 286.5 291.1 295.4 290.2 300.0 292.8 304.8 300.9 307.4 326.1 315.6 326.1 322.2 326.0 328.9 324.4 337.2 320.3 343.8 322.8 347.1 342.0 347.1 363.1 348.8 399.6 349.6 407.9 353.7 401.2 359.5 401.5 365.3 401.2 370.3 405.4 375.9 401.9 381.6 400.5 387.2 396.9 392.9 393.6 398.5 391.3 403.5 388.6 408.4 385.8 413.4 382.6 418.3 380.0 423.3 378.0 428.9 375.2 434.4 374.2 440.0 371.3 445.0 368.8 449.9 366.0 454.9 363.7 459.9 360.6 465.3 358.6 470.6 356.4 476.0 353.5 481.4 351.5 488.0 350.3 494.7 347.9 501.3 345.7 508.8 343.8 516.2 341.5" fill="none" stroke="#ff0000" stroke-width="6.9" stroke-linejoin="round" stroke-linecap="round"/>
<path d="M600.0 425.0 616.0 420.0 629.6 412.8 641.2 404.5 652.8 407.8 662.7 401.2 674.3 396.2 680.9 387.1 687.5 386.3 694.2 381.3 701.6 387.9" fill="none" stroke="#cbcbcb" stroke-width="3.4" stroke-linejoin="round" stroke-linecap="round"/>
<path d="M596.0 430.0 610.0 430.0 622.9 417.7 632.9 416.1 642.8 417.7 654.4 424.4 666.0 424.4 679.3 419.4 687.5 418.6 694.2 411.9 708.3 410.3" fill="none" stroke="#cbcbcb" stroke-width="3.4" stroke-linejoin="round" stroke-linecap="round"/>
<path d="M168.2 509.0 168.5 470.0 171.5 442.0 183.1 396.3 196.4 363.1 206.3 346.6 216.3 336.6 230.0 328.0 249.0 320.0 262.2 321.6 256.0 336.6 262.6 351.5 266.0 393.0 272.6 393.8 279.2 386.3 282.5 388.0 287.5 406.2 297.4 407.0" fill="none" stroke="#cbcbcb" stroke-width="3.4" stroke-linejoin="round" stroke-linecap="round"/>
<path d="M168.6 496.0 170.0 470.0 176.5 442.0 191.4 399.6 208.0 371.4 224.5 353.2 239.4 339.9 249.4 333.3 251.0 442.0 251.9 470.0 253.5 532.9 266.0 522.2 273.4 537.1 280.0 529.6 292.5 536.3 299.1 531.3 309.0 528.0 317.3 521.3 323.9 513.1 340.5 503.1 355.4 488.2 360.4 473.3" fill="none" stroke="#cbcbcb" stroke-width="3.4" stroke-linejoin="round" stroke-linecap="round"/>
<path d="M296.0 300.0 296.5 330.0 297.4 470.0 299.1 523.0 305.7 513.1 311.5 505.6 318.1 513.9 325.6 503.1 332.2 498.2 344.6 483.3 348.8 489.9 350.4 470.0" fill="none" stroke="#cbcbcb" stroke-width="3.4" stroke-linejoin="round" stroke-linecap="round"/>
<path d="M359.0 250.0 360.0 330.0 361.2 470.0 363.7 541.2 378.6 532.9 385.2 528.0 390.2 522.2" fill="none" stroke="#cbcbcb" stroke-width="3.4" stroke-linejoin="round" stroke-linecap="round"/>
<path d="M362.0 486.6 370.3 491.5 376.9 488.2 388.5 492.4 401.8 488.2 410.0 483.3 413.4 470.0 415.0 489.9 423.3 490.7 431.6 483.3 439.9 481.6 450.0 473.3 456.0 458.0 466.0 434.0 472.0 452.0 488.0 460.0 500.0 443.0 508.0 447.0 516.0 443.0" fill="none" stroke="#cbcbcb" stroke-width="3.4" stroke-linejoin="round" stroke-linecap="round"/>
<path d="M415.0 440.0 440.0 437.9 454.0 433.0 466.0 435.0 480.0 430.0 500.0 426.0 520.0 422.0" fill="none" stroke="#cbcbcb" stroke-width="3.4" stroke-linejoin="round" stroke-linecap="round"/>
<path d="M440.0 480.0 450.0 466.0 456.0 458.0" fill="none" stroke="#cbcbcb" stroke-width="3.4" stroke-linejoin="round" stroke-linecap="round"/>
<path d="M540.0 448.0 546.0 454.0 560.0 455.0 580.0 448.0 598.0 443.0 600.0 420.0 601.0 300.0" fill="none" stroke="#cbcbcb" stroke-width="3.4" stroke-linejoin="round" stroke-linecap="round"/>
<path d="M544.0 440.0 560.0 439.0 580.0 436.0 596.0 434.0" fill="none" stroke="#cbcbcb" stroke-width="3.4" stroke-linejoin="round" stroke-linecap="round"/>
<path d="M540.0 432.0 548.0 428.0 559.0 415.0 570.0 434.0 580.0 437.0" fill="none" stroke="#cbcbcb" stroke-width="3.4" stroke-linejoin="round" stroke-linecap="round"/>
<path d="M302.4 374.7 305.7 388.8 309.0 379.7 323.9 383.0 332.2 378.0 343.8 378.0 348.8 369.8 357.0 363.1 381.9 353.2 398.5 349.9 415.0 345.0 440.0 338.0" fill="none" stroke="#cbcbcb" stroke-width="3.4" stroke-linejoin="round" stroke-linecap="round"/>
<path d="M310.0 385.0 324.0 388.0 333.0 392.0 340.0 383.0 357.0 368.0 382.0 360.0 400.0 352.0 420.0 356.0 440.0 350.0 460.0 352.0" fill="none" stroke="#cbcbcb" stroke-width="3.4" stroke-linejoin="round" stroke-linecap="round"/>
<path d="M171.0 430.0 174.2 403.0 178.3 377.0 183.0 354.0 187.5 335.0 192.3 318.0 195.5 308.0 200.7 291.1 203.5 286.1 206.4 280.3 209.2 274.8 212.1 270.0 216.4 264.9 220.8 259.6 225.1 255.3 230.5 251.6 236.0 247.4 241.4 242.3 247.9 242.4 254.4 243.9 259.3 241.1 264.2 237.4 273.9 240.7 277.1 235.1 280.4 230.9 284.5 235.5 288.6 240.7 295.1 232.6 300.8 234.1 306.5 234.2 316.3 233.1 317.1 267.3 322.3 265.9 327.4 263.2 332.6 260.8 339.1 260.3 345.6 259.5 352.1 259.2 360.2 254.3 366.4 252.9 372.6 251.4 378.7 250.1 384.9 248.1 391.1 246.2 398.2 244.4 405.2 243.0 412.3 241.3 413.5 250.0 417.2 282.0 422.5 280.6 427.8 278.0 433.0 276.7 438.3 275.5 444.3 274.5 450.2 271.8 456.2 270.7 462.1 270.1 468.1 268.2 474.0 266.0 480.0 264.9 485.3 262.6 490.5 262.0 495.8 260.0 501.0 258.9 506.3 256.5 512.9 254.5 519.5 253.4 526.2 251.8 532.8 250.7 542.7 248.2 552.6 249.9" fill="none" stroke="#ff0000" stroke-width="6.9" stroke-linejoin="round" stroke-linecap="round"/>
<path d="M169.8 443.2 170.5 435.8 171.2 428.4 172.1 421.1 172.9 413.7 173.8 406.3 174.8 399.0 176.0 391.7 177.1 384.3 178.3 377.0 179.8 369.7 181.3 362.5 182.8 355.2 184.4 348.0 186.1 340.8 187.9 333.6 189.9 326.4 191.9 319.3 194.2 312.2 196.4 305.1 198.6 298.0 200.8 290.9 204.3 284.4 207.8 277.9 211.4 271.4 215.9 265.5 220.5 259.8 225.5 254.5 231.2 249.8 236.8 245.0 242.6 240.5 248.5 236.1 254.5 231.7 260.9 228.1 267.5 224.7 274.1 221.5 280.9 218.6 287.9 215.8 290.0 215.5 295.3 213.8 300.6 211.3 306.0 210.0 311.3 207.7 316.6 205.5 323.7 204.5 330.8 204.0 337.9 204.0 343.7 202.6 349.4 200.1 355.2 199.8 361.0 197.5 366.9 196.3 372.8 194.5 378.7 194.0 386.5 193.0 389.2 206.6 391.5 225.0 393.5 249.4 399.8 273.8 402.8 297.0 404.2 299.9 410.7 298.9 417.2 296.7 423.7 295.1 430.2 293.4 436.3 293.3 442.4 291.8 448.5 290.5 454.6 290.1 462.8 291.7 468.5 288.6 474.3 285.6 480.0 283.6 486.6 283.1 493.1 280.9 499.7 280.5 506.3 278.9 511.8 278.7 517.3 276.8 522.9 277.1 528.4 275.5 533.9 274.7 539.4 273.9 545.0 272.6 550.6 271.6 556.3 270.8 561.9 271.3 567.5 269.8 572.5 278.0 574.2 296.3 577.5 346.5 583.3 345.0 589.1 343.2 594.6 341.5 600.1 339.2 605.6 338.2 615.6 334.9 624.7 330.8" fill="none" stroke="#ff0000" stroke-width="6.9" stroke-linejoin="round" stroke-linecap="round"/>
<path d="M169.8 443.2 170.5 435.8 171.2 428.4 172.1 421.1 172.9 413.7 173.8 406.3 174.8 399.0 176.0 391.7 177.1 384.3 178.3 377.0 179.8 369.7 181.3 362.5 182.8 355.2 184.4 348.0 186.1 340.8 187.9 333.6 189.9 326.4 191.9 319.3 194.2 312.2 196.4 305.1 198.6 298.0 200.8 290.9 204.3 284.4 207.8 277.9 211.4 271.4 215.9 265.6 220.7 259.9 225.7 254.6 231.5 249.9 237.2 245.2 243.0 240.7 249.0 236.3 255.0 232.0 261.6 228.6 268.3 225.5 275.1 222.6 282.1 220.1 290.0 215.5 295.3 214.4 300.6 211.5 306.0 209.6 311.3 208.3 316.6 206.8 323.7 206.2 330.8 205.1 337.9 205.0 343.7 202.8 349.4 202.0 355.2 200.0 361.0 198.5 366.9 197.2 372.8 196.3 378.7 195.0 386.0 194.0 389.0 206.6 391.0 225.0 392.8 249.4 399.3 273.8 402.5 298.2 405.8 322.7 411.1 320.4 416.4 318.0 421.7 315.7 427.0 312.9 435.1 315.3 440.5 312.2 446.0 309.0 451.4 305.6 457.9 305.4 464.4 303.9" fill="none" stroke="#ff0000" stroke-width="6.9" stroke-linejoin="round" stroke-linecap="round"/>
<path d="M166.3 450.3 166.3 442.7 166.3 435.0 166.3 427.3 166.4 419.7 166.4 412.0 166.5 404.3 167.0 396.7 167.5 389.1 168.1 381.4 168.8 373.8 169.9 366.2 171.0 358.6 172.2 351.0 174.0 343.6 175.8 336.1 177.7 328.7 179.8 321.3 181.9 314.0 184.1 306.6 186.6 299.4 189.0 292.1 191.4 284.8 194.7 277.9 198.6 271.3 202.6 264.8 207.5 258.9 214.4 256.3 221.6 253.4 227.6 248.6 233.6 243.7 239.8 239.2 246.1 234.8 252.5 230.5 259.2 226.7 265.9 223.2 272.9 220.0 279.8 217.0 286.7 214.0 293.7 211.3 298.5 208.6 303.3 205.7 308.6 203.6 314.0 199.9 319.3 197.7 326.0 197.5 332.6 196.9 337.0 199.5 339.7 206.6 345.0 226.1 347.7 231.5 350.7 237.1 353.7 242.9 356.0 270.0 358.6 308.0 365.1 307.1 371.6 305.6 375.7 311.3 381.9 309.1 388.2 307.6 394.4 304.8" fill="none" stroke="#ff0000" stroke-width="6.9" stroke-linejoin="round" stroke-linecap="round"/>
<path d="M169.2 450.6 169.8 443.2 170.5 435.8 171.2 428.4 172.1 421.1 172.9 413.7 173.8 406.3 174.8 399.0 176.0 391.7 177.1 384.3 178.3 377.0 179.8 369.7 181.3 362.5 182.8 355.2 184.4 348.0 186.1 340.8 187.9 333.6 189.9 326.4 191.9 319.3 194.2 312.2 196.4 305.1 198.6 298.0 200.8 290.9 204.3 284.4 207.8 277.9 211.4 271.4 215.9 265.5 220.6 259.9 225.6 254.5 231.3 249.8 237.0 245.1 242.8 240.6 248.8 236.2 254.8 231.9 261.2 228.3 267.9 225.1 274.6 222.1 281.5 219.3 290.0 215.5 295.3 214.0 300.6 211.3 306.0 208.4 311.3 207.1 316.6 204.8 323.7 204.7 330.8 202.9 337.9 203.1 343.2 199.5 349.1 198.9 355.1 197.6 361.0 196.9 366.9 196.2 372.8 194.6 378.7 193.3 385.8 192.0 388.5 194.2 389.4 206.6 391.2 224.4 393.8 230.6 399.6 230.7 405.3 229.7 411.2 229.3 417.2 228.3 423.1 227.0 432.0 224.4 439.0 227.0 444.5 225.8 450.0 225.3 456.6 223.5 463.2 221.0 469.8 218.6 476.0 218.6 482.2 217.2 488.5 216.4 494.7 216.1 497.1 230.0 499.6 244.9 505.3 244.8 511.0 245.1 516.7 245.2 522.3 244.7 528.0 244.3 533.7 244.3 539.4 244.1 544.9 243.5 550.4 243.1 556.0 242.1 561.5 242.5 567.0 242.4 572.5 241.0 578.1 240.9 583.6 239.7 589.1 239.9 594.6 239.3 600.1 239.7 605.7 239.4 611.2 238.8 616.7 238.4 622.2 237.4 627.8 237.4 633.3 236.4 638.8 236.6 645.4 236.1 652.1 235.2 658.7 234.1 666.9 229.8" fill="none" stroke="#ff0000" stroke-width="6.9" stroke-linejoin="round" stroke-linecap="round"/>
<path d="M166.3 430.0 166.5 403.0 168.6 375.0 172.0 352.0 177.3 330.0 183.0 310.0 192.6 281.4 195.8 276.3 199.1 270.7 202.3 265.1 208.8 257.0 215.0 256.0 221.8 253.0 227.5 247.4 233.2 243.0 238.6 238.7 244.1 234.3 249.5 231.0 255.0 228.2 260.5 224.4 266.0 220.5 271.4 217.9 276.7 214.6 282.1 211.5 287.8 208.0 293.4 205.7 299.1 202.5 304.1 199.0 309.0 196.5 314.8 194.9 320.6 192.0 326.4 189.5 332.2 188.0 338.1 185.4 344.1 184.0 350.1 180.6 356.0 179.0 362.5 176.9 368.9 174.7 375.4 172.6 381.9 169.8 387.9 168.0 393.9 167.1 400.0 165.3 406.0 163.0 412.4 161.5 418.8 160.1 425.2 157.8 431.6 156.5 438.2 157.3 441.5 166.4 450.0 165.4 455.8 164.6 461.6 162.5 467.3 160.8 473.1 159.8 478.6 159.0 484.2 157.3 489.7 156.6 495.2 155.7 500.8 154.7 506.3 153.2 511.8 152.5 517.3 151.3 522.9 150.1 528.4 148.3 533.9 146.4 539.4 145.7 545.6 144.5 551.8 143.7 558.0 143.3 564.2 142.4 570.4 142.5 576.7 142.0 582.9 142.0 589.1 141.6 599.0 141.6 599.8 158.1 602.3 191.3 604.0 216.1 612.3 216.9 618.9 216.1 625.5 221.1" fill="none" stroke="#ff0000" stroke-width="6.9" stroke-linejoin="round" stroke-linecap="round"/>
<path d="M428.3 178.9 431.6 188.0 438.2 192.9 444.1 191.3 450.0 189.8 457.4 186.3 464.8 183.8" fill="none" stroke="#ff0000" stroke-width="6.9" stroke-linejoin="round" stroke-linecap="round"/>
<path d="M464.8 183.8 506.3 176.3 556.0 168.9 605.6 160.6 630.5 156.5 643.7 155.6 648.7 168.1" fill="none" stroke="#ff0000" stroke-width="3.6" stroke-linejoin="round" stroke-linecap="round"/>
<path d="M643.7 155.6 646.2 162.5 648.7 168.1 655.3 186.3 662.0 194.6 668.6 193.8 675.2 193.8 681.9 193.7 688.5 193.7 695.1 191.3 701.7 190.4 707.5 190.9 713.3 192.9 720.0 191.0 726.6 189.9 733.3 189.1 740.0 187.1 745.8 186.5 751.7 186.3 757.5 186.0 763.3 185.8 769.2 185.1 775.0 185.0" fill="none" stroke="#ff0000" stroke-width="6.9" stroke-linejoin="round" stroke-linecap="round"/>
<path d="M349.6 407.9 353.7 401.2 359.5 400.7 365.3 401.2 370.3 405.4 375.9 402.1 381.6 399.1 387.2 397.4 392.9 393.6 398.5 391.3 403.5 388.8 408.4 386.7 413.4 383.8 418.3 380.3 423.3 378.0 428.9 376.5 434.4 373.9 440.0 371.3 445.0 367.9 449.9 366.7 454.9 363.2 459.9 360.6 465.3 357.8 470.6 356.0 476.0 353.6 481.4 351.5 488.0 348.9 494.7 347.0 501.3 345.7 508.8 343.0 516.2 341.5" fill="none" stroke="#ff0000" stroke-width="6.9" stroke-linejoin="round" stroke-linecap="round"/>
<path d="M313.2 554.5 316.1 559.2 319.0 565.2 323.4 560.7 327.8 554.8 332.2 549.5 336.6 544.5 341.1 538.6 345.5 533.8 352.1 533.8 357.0 546.2 360.4 550.3 366.2 547.6 372.0 545.4 376.9 543.1 381.9 539.6 388.1 537.8 394.3 535.2 400.5 532.5 406.7 529.6 410.9 521.4 413.4 515.4 415.9 508.9 418.8 514.8 421.7 519.7 431.6 518.0 436.6 515.8 441.5 513.1 447.8 508.3 454.0 503.8 460.5 501.7 467.0 498.8 472.0 502.8 480.0 500.8 487.9 502.9 495.9 503.8 501.9 502.5 507.9 499.5 513.9 498.4 519.9 495.8 526.5 493.8 533.2 493.2 539.8 491.9 546.5 488.2 553.1 486.4 559.8 482.9 566.5 481.4 573.1 480.5 579.8 478.9 586.4 477.8 593.1 475.1 599.7 473.9 606.4 472.9 613.0 471.4 619.7 469.9 626.4 468.2 633.0 466.0 639.7 464.9 646.4 461.7 653.0 458.2 659.7 455.9 666.3 454.6 673.0 454.3 679.6 452.9 686.3 450.9 692.9 449.2 699.6 447.9 706.3 447.3 712.9 446.1 719.6 444.9 726.2 443.4 732.9 440.9 739.5 438.9 746.5 436.8 753.5 433.9 759.5 432.0 765.5 431.5" fill="none" stroke="#ff0000" stroke-width="6.9" stroke-linejoin="round" stroke-linecap="round"/>
<path d="M350.4 470.0 351.3 552.0 357.0 547.9 381.9 541.2 408.4 532.9 415.0 524.7 431.6 521.3 450.0 514.7 480.0 505.8 519.9 492.9 551.8 484.9" fill="none" stroke="#cbcbcb" stroke-width="3.4" stroke-linejoin="round" stroke-linecap="round"/>
<path d="M560.9 173.0 567.5 166.4 572.5 163.1 589.1 162.3 635.5 158.1 647.1 157.3 671.9 151.5 705.0 147.4 732.5 143.8 742.5 145.0 747.5 148.8 750.0 185.0 753.0 238.3 775.3 236.6 791.9 234.1 798.5 235.8 805.2 230.8" fill="none" stroke="#cbcbcb" stroke-width="3.4" stroke-linejoin="round" stroke-linecap="round"/>
<rect x="111.35" y="16.30" width="770.25" height="572.00" fill="none" stroke="#000" stroke-width="3.8"/>
<line x1="111.35" y1="588.30" x2="111.35" y2="594.50" stroke="#000" stroke-width="3.8" stroke-linecap="round"/>
<line x1="162.70" y1="588.30" x2="162.70" y2="600.10" stroke="#000" stroke-width="3.8" stroke-linecap="round"/>
<line x1="214.05" y1="588.30" x2="214.05" y2="594.50" stroke="#000" stroke-width="3.8" stroke-linecap="round"/>
<line x1="265.40" y1="588.30" x2="265.40" y2="600.10" stroke="#000" stroke-width="3.8" stroke-linecap="round"/>
<line x1="316.75" y1="588.30" x2="316.75" y2="594.50" stroke="#000" stroke-width="3.8" stroke-linecap="round"/>
<line x1="368.10" y1="588.30" x2="368.10" y2="600.10" stroke="#000" stroke-width="3.8" stroke-linecap="round"/>
<line x1="419.45" y1="588.30" x2="419.45" y2="594.50" stroke="#000" stroke-width="3.8" stroke-linecap="round"/>
<line x1="470.80" y1="588.30" x2="470.80" y2="600.10" stroke="#000" stroke-width="3.8" stroke-linecap="round"/>
<line x1="522.15" y1="588.30" x2="522.15" y2="594.50" stroke="#000" stroke-width="3.8" stroke-linecap="round"/>
<line x1="573.50" y1="588.30" x2="573.50" y2="600.10" stroke="#000" stroke-width="3.8" stroke-linecap="round"/>
<line x1="624.85" y1="588.30" x2="624.85" y2="594.50" stroke="#000" stroke-width="3.8" stroke-linecap="round"/>
<line x1="676.20" y1="588.30" x2="676.20" y2="600.10" stroke="#000" stroke-width="3.8" stroke-linecap="round"/>
<line x1="727.55" y1="588.30" x2="727.55" y2="594.50" stroke="#000" stroke-width="3.8" stroke-linecap="round"/>
<line x1="778.90" y1="588.30" x2="778.90" y2="600.10" stroke="#000" stroke-width="3.8" stroke-linecap="round"/>
<line x1="830.25" y1="588.30" x2="830.25" y2="594.50" stroke="#000" stroke-width="3.8" stroke-linecap="round"/>
<line x1="881.60" y1="588.30" x2="881.60" y2="600.10" stroke="#000" stroke-width="3.8" stroke-linecap="round"/>
<line x1="106.75" y1="588.72" x2="111.35" y2="588.72" stroke="#000" stroke-width="3.8" stroke-linecap="round"/>
<line x1="106.75" y1="561.47" x2="111.35" y2="561.47" stroke="#000" stroke-width="3.8" stroke-linecap="round"/>
<line x1="106.75" y1="542.13" x2="111.35" y2="542.13" stroke="#000" stroke-width="3.8" stroke-linecap="round"/>
<line x1="106.75" y1="527.13" x2="111.35" y2="527.13" stroke="#000" stroke-width="3.8" stroke-linecap="round"/>
<line x1="106.75" y1="514.88" x2="111.35" y2="514.88" stroke="#000" stroke-width="3.8" stroke-linecap="round"/>
<line x1="106.75" y1="504.52" x2="111.35" y2="504.52" stroke="#000" stroke-width="3.8" stroke-linecap="round"/>
<line x1="106.75" y1="495.55" x2="111.35" y2="495.55" stroke="#000" stroke-width="3.8" stroke-linecap="round"/>
<line x1="106.75" y1="487.63" x2="111.35" y2="487.63" stroke="#000" stroke-width="3.8" stroke-linecap="round"/>
<line x1="101.25" y1="480.55" x2="111.35" y2="480.55" stroke="#000" stroke-width="3.8" stroke-linecap="round"/>
<line x1="106.75" y1="433.97" x2="111.35" y2="433.97" stroke="#000" stroke-width="3.8" stroke-linecap="round"/>
<line x1="106.75" y1="406.72" x2="111.35" y2="406.72" stroke="#000" stroke-width="3.8" stroke-linecap="round"/>
<line x1="106.75" y1="387.38" x2="111.35" y2="387.38" stroke="#000" stroke-width="3.8" stroke-linecap="round"/>
<line x1="106.75" y1="372.38" x2="111.35" y2="372.38" stroke="#000" stroke-width="3.8" stroke-linecap="round"/>
<line x1="106.75" y1="360.13" x2="111.35" y2="360.13" stroke="#000" stroke-width="3.8" stroke-linecap="round"/>
<line x1="106.75" y1="349.77" x2="111.35" y2="349.77" stroke="#000" stroke-width="3.8" stroke-linecap="round"/>
<line x1="106.75" y1="340.80" x2="111.35" y2="340.80" stroke="#000" stroke-width="3.8" stroke-linecap="round"/>
<line x1="106.75" y1="332.88" x2="111.35" y2="332.88" stroke="#000" stroke-width="3.8" stroke-linecap="round"/>
<line x1="101.25" y1="325.80" x2="111.35" y2="325.80" stroke="#000" stroke-width="3.8" stroke-linecap="round"/>
<line x1="106.75" y1="279.22" x2="111.35" y2="279.22" stroke="#000" stroke-width="3.8" stroke-linecap="round"/>
<line x1="106.75" y1="251.97" x2="111.35" y2="251.97" stroke="#000" stroke-width="3.8" stroke-linecap="round"/>
<line x1="106.75" y1="232.63" x2="111.35" y2="232.63" stroke="#000" stroke-width="3.8" stroke-linecap="round"/>
<line x1="106.75" y1="217.63" x2="111.35" y2="217.63" stroke="#000" stroke-width="3.8" stroke-linecap="round"/>
<line x1="106.75" y1="205.38" x2="111.35" y2="205.38" stroke="#000" stroke-width="3.8" stroke-linecap="round"/>
<line x1="106.75" y1="195.02" x2="111.35" y2="195.02" stroke="#000" stroke-width="3.8" stroke-linecap="round"/>
<line x1="106.75" y1="186.05" x2="111.35" y2="186.05" stroke="#000" stroke-width="3.8" stroke-linecap="round"/>
<line x1="106.75" y1="178.13" x2="111.35" y2="178.13" stroke="#000" stroke-width="3.8" stroke-linecap="round"/>
<line x1="101.25" y1="171.05" x2="111.35" y2="171.05" stroke="#000" stroke-width="3.8" stroke-linecap="round"/>
<line x1="106.75" y1="124.47" x2="111.35" y2="124.47" stroke="#000" stroke-width="3.8" stroke-linecap="round"/>
<line x1="106.75" y1="97.22" x2="111.35" y2="97.22" stroke="#000" stroke-width="3.8" stroke-linecap="round"/>
<line x1="106.75" y1="77.88" x2="111.35" y2="77.88" stroke="#000" stroke-width="3.8" stroke-linecap="round"/>
<line x1="106.75" y1="62.88" x2="111.35" y2="62.88" stroke="#000" stroke-width="3.8" stroke-linecap="round"/>
<line x1="106.75" y1="50.63" x2="111.35" y2="50.63" stroke="#000" stroke-width="3.8" stroke-linecap="round"/>
<line x1="106.75" y1="40.27" x2="111.35" y2="40.27" stroke="#000" stroke-width="3.8" stroke-linecap="round"/>
<line x1="106.75" y1="31.30" x2="111.35" y2="31.30" stroke="#000" stroke-width="3.8" stroke-linecap="round"/>
<line x1="106.75" y1="23.38" x2="111.35" y2="23.38" stroke="#000" stroke-width="3.8" stroke-linecap="round"/>
<line x1="101.25" y1="16.30" x2="111.35" y2="16.30" stroke="#000" stroke-width="3.8" stroke-linecap="round"/>
<text transform="translate(163.00 630.00) scale(0.924 1)" font-family="'Liberation Sans', Arial, sans-serif" font-size="31" font-weight="bold" text-anchor="middle" fill="#000">0.0</text>
<text transform="translate(265.90 630.00) scale(0.924 1)" font-family="'Liberation Sans', Arial, sans-serif" font-size="31" font-weight="bold" text-anchor="middle" fill="#000">-<tspan dx="-2.2">0.2</tspan></text>
<text transform="translate(368.60 630.00) scale(0.924 1)" font-family="'Liberation Sans', Arial, sans-serif" font-size="31" font-weight="bold" text-anchor="middle" fill="#000">-<tspan dx="-2.2">0.4</tspan></text>
<text transform="translate(471.30 630.00) scale(0.924 1)" font-family="'Liberation Sans', Arial, sans-serif" font-size="31" font-weight="bold" text-anchor="middle" fill="#000">-<tspan dx="-2.2">0.6</tspan></text>
<text transform="translate(574.00 630.00) scale(0.924 1)" font-family="'Liberation Sans', Arial, sans-serif" font-size="31" font-weight="bold" text-anchor="middle" fill="#000">-<tspan dx="-2.2">0.8</tspan></text>
<text transform="translate(676.70 630.00) scale(0.924 1)" font-family="'Liberation Sans', Arial, sans-serif" font-size="31" font-weight="bold" text-anchor="middle" fill="#000">-<tspan dx="-2.2">1.0</tspan></text>
<text transform="translate(779.40 630.00) scale(0.924 1)" font-family="'Liberation Sans', Arial, sans-serif" font-size="31" font-weight="bold" text-anchor="middle" fill="#000">-<tspan dx="-2.2">1.2</tspan></text>
<text transform="translate(882.10 630.00) scale(0.924 1)" font-family="'Liberation Sans', Arial, sans-serif" font-size="31" font-weight="bold" text-anchor="middle" fill="#000">-<tspan dx="-2.2">1.4</tspan></text>
<text transform="translate(94.3 28.30) scale(0.9 1)" font-family="'Liberation Sans', Arial, sans-serif" font-size="31" font-weight="bold" text-anchor="end" fill="#000">10<tspan font-size="18.5" dy="-14.2">-3</tspan></text>
<text transform="translate(94.3 183.05) scale(0.9 1)" font-family="'Liberation Sans', Arial, sans-serif" font-size="31" font-weight="bold" text-anchor="end" fill="#000">10<tspan font-size="18.5" dy="-14.2">-4</tspan></text>
<text transform="translate(94.3 337.80) scale(0.9 1)" font-family="'Liberation Sans', Arial, sans-serif" font-size="31" font-weight="bold" text-anchor="end" fill="#000">10<tspan font-size="18.5" dy="-14.2">-5</tspan></text>
<text transform="translate(94.3 492.55) scale(0.9 1)" font-family="'Liberation Sans', Arial, sans-serif" font-size="31" font-weight="bold" text-anchor="end" fill="#000">10<tspan font-size="18.5" dy="-14.2">-6</tspan></text>
<text transform="translate(462.30 666.80) scale(0.93 1)" font-family="'Liberation Sans', Arial, sans-serif" font-size="35" font-weight="bold" text-anchor="middle" fill="#000">Voltage (V)</text>
<text transform="translate(25.6 283) rotate(-90) scale(1.145 1)" font-family="'Liberation Sans', Arial, sans-serif" font-size="32" font-weight="bold" text-anchor="middle" fill="#000">Current (A)</text>
<text transform="translate(126.5 57) scale(0.97 1)" font-family="'Liberation Sans', Arial, sans-serif" font-size="29" font-weight="bold" fill="#000">Cu/TiO<tspan font-size="27" dy="10">2</tspan><tspan dy="-10" font-size="29">/Pt</tspan></text>
<text transform="translate(746 58.8) scale(0.95 1)" font-family="'Liberation Sans', Arial, sans-serif" font-size="29" font-weight="bold" fill="#860808">I<tspan font-size="28" dy="10">C</tspan><tspan dy="-10" font-size="29"> 100</tspan><tspan font-family="'Liberation Serif', serif" font-weight="normal">μ</tspan>A</text>
<text transform="translate(849.50 559.00) scale(1.0 1)" font-family="'Liberation Sans', Arial, sans-serif" font-size="32.5" font-weight="normal" text-anchor="middle" fill="#000" stroke="#000" stroke-width="0.7">(a)</text>
<line x1="1029.65" y1="520.49" x2="1788.40" y2="520.49" stroke="#6e6e6e" stroke-width="2.4" stroke-dasharray="2.4 3.1"/>
<line x1="1029.65" y1="464.38" x2="1788.40" y2="464.38" stroke="#6e6e6e" stroke-width="2.4" stroke-dasharray="2.4 3.1"/>
<line x1="1029.65" y1="408.27" x2="1788.40" y2="408.27" stroke="#6e6e6e" stroke-width="2.4" stroke-dasharray="2.4 3.1"/>
<line x1="1029.65" y1="352.16" x2="1788.40" y2="352.16" stroke="#6e6e6e" stroke-width="2.4" stroke-dasharray="2.4 3.1"/>
<line x1="1029.65" y1="296.05" x2="1788.40" y2="296.05" stroke="#6e6e6e" stroke-width="2.4" stroke-dasharray="2.4 3.1"/>
<line x1="1029.65" y1="239.94" x2="1788.40" y2="239.94" stroke="#6e6e6e" stroke-width="2.4" stroke-dasharray="2.4 3.1"/>
<line x1="1029.65" y1="183.83" x2="1788.40" y2="183.83" stroke="#6e6e6e" stroke-width="2.4" stroke-dasharray="2.4 3.1"/>
<line x1="1029.65" y1="127.72" x2="1788.40" y2="127.72" stroke="#6e6e6e" stroke-width="2.4" stroke-dasharray="2.4 3.1"/>
<line x1="1029.65" y1="71.61" x2="1788.40" y2="71.61" stroke="#6e6e6e" stroke-width="2.4" stroke-dasharray="2.4 3.1"/>
<path d="M1085.7 332.3 1119.7 332.3 1180.0 334.0 1227.4 336.0 1230.5 340.5 1252.0 344.5 1285.3 349.5 1310.2 351.3 1315.2 357.5 1331.7 358.6 1336.7 433.1 1364.8 433.1 1389.7 438.0 1422.8 438.0 1432.8 440.5 1442.7 443.0 1447.2 521.2 1466.3 524.5 1482.8 527.0 1499.4 526.2 1516.8 522.9" fill="none" stroke="#000000" stroke-width="3.8" stroke-linejoin="round" stroke-linecap="round"/>
<path d="M1083.3 329.9h4.8v4.8h-4.8zM1087.1 329.9h4.8v4.8h-4.8zM1090.9 329.9h4.8v4.8h-4.8zM1094.6 329.9h4.8v4.8h-4.8zM1098.4 329.9h4.8v4.8h-4.8zM1102.2 329.9h4.8v4.8h-4.8zM1106.0 329.9h4.8v4.8h-4.8zM1109.7 329.9h4.8v4.8h-4.8zM1113.5 329.9h4.8v4.8h-4.8zM1117.3 329.9h4.8v4.8h-4.8zM1121.1 330.0h4.8v4.8h-4.8zM1124.8 330.1h4.8v4.8h-4.8zM1128.6 330.2h4.8v4.8h-4.8zM1132.4 330.3h4.8v4.8h-4.8zM1136.1 330.4h4.8v4.8h-4.8zM1139.9 330.5h4.8v4.8h-4.8zM1143.7 330.6h4.8v4.8h-4.8zM1147.4 330.8h4.8v4.8h-4.8zM1151.2 330.9h4.8v4.8h-4.8zM1155.0 331.0h4.8v4.8h-4.8zM1158.8 331.1h4.8v4.8h-4.8zM1162.5 331.2h4.8v4.8h-4.8zM1166.3 331.3h4.8v4.8h-4.8zM1170.1 331.4h4.8v4.8h-4.8zM1173.8 331.5h4.8v4.8h-4.8zM1177.6 331.6h4.8v4.8h-4.8zM1181.2 331.8h4.8v4.8h-4.8zM1184.9 331.9h4.8v4.8h-4.8zM1188.5 332.1h4.8v4.8h-4.8zM1192.2 332.2h4.8v4.8h-4.8zM1195.8 332.4h4.8v4.8h-4.8zM1199.5 332.5h4.8v4.8h-4.8zM1203.1 332.7h4.8v4.8h-4.8zM1206.8 332.8h4.8v4.8h-4.8zM1210.4 333.0h4.8v4.8h-4.8zM1214.1 333.1h4.8v4.8h-4.8zM1217.7 333.3h4.8v4.8h-4.8zM1221.4 333.4h4.8v4.8h-4.8zM1225.0 333.6h4.8v4.8h-4.8zM1228.1 338.1h4.8v4.8h-4.8zM1231.7 338.8h4.8v4.8h-4.8zM1235.3 339.4h4.8v4.8h-4.8zM1238.8 340.1h4.8v4.8h-4.8zM1242.4 340.8h4.8v4.8h-4.8zM1246.0 341.4h4.8v4.8h-4.8zM1249.6 342.1h4.8v4.8h-4.8zM1253.3 342.7h4.8v4.8h-4.8zM1257.0 343.2h4.8v4.8h-4.8zM1260.7 343.8h4.8v4.8h-4.8zM1264.4 344.3h4.8v4.8h-4.8zM1268.1 344.9h4.8v4.8h-4.8zM1271.8 345.4h4.8v4.8h-4.8zM1275.5 346.0h4.8v4.8h-4.8zM1279.2 346.5h4.8v4.8h-4.8zM1282.9 347.1h4.8v4.8h-4.8zM1286.5 347.4h4.8v4.8h-4.8zM1290.0 347.6h4.8v4.8h-4.8zM1293.6 347.9h4.8v4.8h-4.8zM1297.1 348.1h4.8v4.8h-4.8zM1300.7 348.4h4.8v4.8h-4.8zM1304.2 348.6h4.8v4.8h-4.8zM1307.8 348.9h4.8v4.8h-4.8zM1312.8 355.1h4.8v4.8h-4.8zM1316.9 355.4h4.8v4.8h-4.8zM1321.0 355.7h4.8v4.8h-4.8zM1325.2 355.9h4.8v4.8h-4.8zM1329.3 356.2h4.8v4.8h-4.8zM1334.3 430.7h4.8v4.8h-4.8zM1337.8 430.7h4.8v4.8h-4.8zM1341.3 430.7h4.8v4.8h-4.8zM1344.8 430.7h4.8v4.8h-4.8zM1348.3 430.7h4.8v4.8h-4.8zM1351.9 430.7h4.8v4.8h-4.8zM1355.4 430.7h4.8v4.8h-4.8zM1358.9 430.7h4.8v4.8h-4.8zM1362.4 430.7h4.8v4.8h-4.8zM1366.0 431.4h4.8v4.8h-4.8zM1369.5 432.1h4.8v4.8h-4.8zM1373.1 432.8h4.8v4.8h-4.8zM1376.6 433.5h4.8v4.8h-4.8zM1380.2 434.2h4.8v4.8h-4.8zM1383.7 434.9h4.8v4.8h-4.8zM1387.3 435.6h4.8v4.8h-4.8zM1391.0 435.6h4.8v4.8h-4.8zM1394.7 435.6h4.8v4.8h-4.8zM1398.3 435.6h4.8v4.8h-4.8zM1402.0 435.6h4.8v4.8h-4.8zM1405.7 435.6h4.8v4.8h-4.8zM1409.4 435.6h4.8v4.8h-4.8zM1413.0 435.6h4.8v4.8h-4.8zM1416.7 435.6h4.8v4.8h-4.8zM1420.4 435.6h4.8v4.8h-4.8zM1423.7 436.4h4.8v4.8h-4.8zM1427.1 437.3h4.8v4.8h-4.8zM1430.4 438.1h4.8v4.8h-4.8zM1433.7 438.9h4.8v4.8h-4.8zM1437.0 439.8h4.8v4.8h-4.8zM1440.3 440.6h4.8v4.8h-4.8zM1444.8 518.8h4.8v4.8h-4.8zM1448.6 519.5h4.8v4.8h-4.8zM1452.4 520.1h4.8v4.8h-4.8zM1456.3 520.8h4.8v4.8h-4.8zM1460.1 521.4h4.8v4.8h-4.8zM1463.9 522.1h4.8v4.8h-4.8zM1468.0 522.7h4.8v4.8h-4.8zM1472.1 523.4h4.8v4.8h-4.8zM1476.3 524.0h4.8v4.8h-4.8zM1480.4 524.6h4.8v4.8h-4.8zM1484.5 524.4h4.8v4.8h-4.8zM1488.7 524.2h4.8v4.8h-4.8zM1492.8 524.0h4.8v4.8h-4.8zM1497.0 523.8h4.8v4.8h-4.8zM1500.5 523.1h4.8v4.8h-4.8zM1504.0 522.5h4.8v4.8h-4.8zM1507.4 521.8h4.8v4.8h-4.8zM1510.9 521.2h4.8v4.8h-4.8zM1514.4 520.5h4.8v4.8h-4.8z" fill="#000000" stroke="#000000" stroke-width="0.8" stroke-linejoin="round"/>
<path d="M1173.5 339.8 1189.3 347.2 1202.5 349.7 1235.6 350.5 1248.9 351.3 1255.5 381.2 1268.8 381.2 1285.3 383.6 1292.8 377.0 1301.9 382.0 1308.5 382.0 1314.3 394.4 1326.8 396.1 1331.8 397.7 1337.5 391.1 1345.3 431.4" fill="none" stroke="#800080" stroke-width="3.8" stroke-linejoin="round" stroke-linecap="round"/>
<path d="M1170.0 339.8a3.5 3.5 0 1 0 6.9 0a3.5 3.5 0 1 0 -6.9 0zM1178.0 343.5a3.5 3.5 0 1 0 6.9 0a3.5 3.5 0 1 0 -6.9 0zM1185.8 347.2a3.5 3.5 0 1 0 6.9 0a3.5 3.5 0 1 0 -6.9 0zM1192.5 348.4a3.5 3.5 0 1 0 6.9 0a3.5 3.5 0 1 0 -6.9 0zM1199.0 349.7a3.5 3.5 0 1 0 6.9 0a3.5 3.5 0 1 0 -6.9 0zM1207.3 349.9a3.5 3.5 0 1 0 6.9 0a3.5 3.5 0 1 0 -6.9 0zM1215.6 350.1a3.5 3.5 0 1 0 6.9 0a3.5 3.5 0 1 0 -6.9 0zM1223.9 350.3a3.5 3.5 0 1 0 6.9 0a3.5 3.5 0 1 0 -6.9 0zM1232.1 350.5a3.5 3.5 0 1 0 6.9 0a3.5 3.5 0 1 0 -6.9 0zM1238.8 350.9a3.5 3.5 0 1 0 6.9 0a3.5 3.5 0 1 0 -6.9 0zM1245.5 351.3a3.5 3.5 0 1 0 6.9 0a3.5 3.5 0 1 0 -6.9 0zM1252.0 381.2a3.5 3.5 0 1 0 6.9 0a3.5 3.5 0 1 0 -6.9 0zM1258.7 381.2a3.5 3.5 0 1 0 6.9 0a3.5 3.5 0 1 0 -6.9 0zM1265.3 381.2a3.5 3.5 0 1 0 6.9 0a3.5 3.5 0 1 0 -6.9 0zM1273.6 382.4a3.5 3.5 0 1 0 6.9 0a3.5 3.5 0 1 0 -6.9 0zM1281.8 383.6a3.5 3.5 0 1 0 6.9 0a3.5 3.5 0 1 0 -6.9 0zM1289.3 377.0a3.5 3.5 0 1 0 6.9 0a3.5 3.5 0 1 0 -6.9 0zM1298.5 382.0a3.5 3.5 0 1 0 6.9 0a3.5 3.5 0 1 0 -6.9 0zM1305.0 382.0a3.5 3.5 0 1 0 6.9 0a3.5 3.5 0 1 0 -6.9 0zM1310.8 394.4a3.5 3.5 0 1 0 6.9 0a3.5 3.5 0 1 0 -6.9 0zM1317.1 395.2a3.5 3.5 0 1 0 6.9 0a3.5 3.5 0 1 0 -6.9 0zM1323.3 396.1a3.5 3.5 0 1 0 6.9 0a3.5 3.5 0 1 0 -6.9 0zM1328.3 397.7a3.5 3.5 0 1 0 6.9 0a3.5 3.5 0 1 0 -6.9 0zM1334.0 391.1a3.5 3.5 0 1 0 6.9 0a3.5 3.5 0 1 0 -6.9 0zM1341.8 431.4a3.5 3.5 0 1 0 6.9 0a3.5 3.5 0 1 0 -6.9 0z" fill="#800080" stroke="#800080" stroke-width="0.8" stroke-linejoin="round"/>
<path d="M1090.7 331.0 1159.4 337.3 1186.0 337.3 1202.5 341.4 1235.6 343.9 1252.2 343.9 1262.1 335.6 1277.1 338.1 1292.0 344.7 1301.9 339.8 1318.5 338.9 1343.3 338.9 1356.6 335.6 1373.1 338.9 1383.1 346.4 1389.7 366.3 1397.1 420.6 1406.3 421.5 1505.6 421.5 1588.5 423.1 1621.6 425.6 1634.8 428.9 1642.2 473.2 1649.3 508.0 1655.9 526.2 1663.4 512.9 1671.7 514.3" fill="none" stroke="#8000ff" stroke-width="3.8" stroke-linejoin="round" stroke-linecap="round"/>
<path d="M1087.4 326.9v8.2l7.4 -4.1zM1095.1 327.6v8.2l7.4 -4.1zM1102.7 328.3v8.2l7.4 -4.1zM1110.3 329.0v8.2l7.4 -4.1zM1118.0 329.7v8.2l7.4 -4.1zM1125.6 330.4v8.2l7.4 -4.1zM1133.2 331.1v8.2l7.4 -4.1zM1140.9 331.8v8.2l7.4 -4.1zM1148.5 332.5v8.2l7.4 -4.1zM1156.1 333.2v8.2l7.4 -4.1zM1162.8 333.2v8.2l7.4 -4.1zM1169.4 333.2v8.2l7.4 -4.1zM1176.1 333.2v8.2l7.4 -4.1zM1182.7 333.2v8.2l7.4 -4.1zM1191.0 335.2v8.2l7.4 -4.1zM1199.2 337.3v8.2l7.4 -4.1zM1207.5 337.9v8.2l7.4 -4.1zM1215.8 338.5v8.2l7.4 -4.1zM1224.0 339.2v8.2l7.4 -4.1zM1232.3 339.8v8.2l7.4 -4.1zM1240.6 339.8v8.2l7.4 -4.1zM1248.9 339.8v8.2l7.4 -4.1zM1258.8 331.5v8.2l7.4 -4.1zM1266.3 332.8v8.2l7.4 -4.1zM1273.8 334.0v8.2l7.4 -4.1zM1281.3 337.3v8.2l7.4 -4.1zM1288.7 340.6v8.2l7.4 -4.1zM1298.6 335.7v8.2l7.4 -4.1zM1306.9 335.2v8.2l7.4 -4.1zM1315.2 334.8v8.2l7.4 -4.1zM1323.5 334.8v8.2l7.4 -4.1zM1331.8 334.8v8.2l7.4 -4.1zM1340.0 334.8v8.2l7.4 -4.1zM1346.7 333.1v8.2l7.4 -4.1zM1353.3 331.5v8.2l7.4 -4.1zM1361.6 333.1v8.2l7.4 -4.1zM1369.8 334.8v8.2l7.4 -4.1zM1379.8 342.3v8.2l7.4 -4.1zM1386.4 362.2v8.2l7.4 -4.1zM1393.8 416.5v8.2l7.4 -4.1zM1403.0 417.4v8.2l7.4 -4.1zM1410.7 417.4v8.2l7.4 -4.1zM1418.3 417.4v8.2l7.4 -4.1zM1425.9 417.4v8.2l7.4 -4.1zM1433.6 417.4v8.2l7.4 -4.1zM1441.2 417.4v8.2l7.4 -4.1zM1448.9 417.4v8.2l7.4 -4.1zM1456.5 417.4v8.2l7.4 -4.1zM1464.1 417.4v8.2l7.4 -4.1zM1471.8 417.4v8.2l7.4 -4.1zM1479.4 417.4v8.2l7.4 -4.1zM1487.0 417.4v8.2l7.4 -4.1zM1494.7 417.4v8.2l7.4 -4.1zM1502.3 417.4v8.2l7.4 -4.1zM1509.9 417.5v8.2l7.4 -4.1zM1517.4 417.7v8.2l7.4 -4.1zM1524.9 417.8v8.2l7.4 -4.1zM1532.5 418.0v8.2l7.4 -4.1zM1540.0 418.1v8.2l7.4 -4.1zM1547.5 418.3v8.2l7.4 -4.1zM1555.1 418.4v8.2l7.4 -4.1zM1562.6 418.6v8.2l7.4 -4.1zM1570.1 418.7v8.2l7.4 -4.1zM1577.7 418.9v8.2l7.4 -4.1zM1585.2 419.0v8.2l7.4 -4.1zM1593.5 419.6v8.2l7.4 -4.1zM1601.8 420.2v8.2l7.4 -4.1zM1610.0 420.9v8.2l7.4 -4.1zM1618.3 421.5v8.2l7.4 -4.1zM1624.9 423.1v8.2l7.4 -4.1zM1631.5 424.8v8.2l7.4 -4.1zM1638.9 469.1v8.2l7.4 -4.1zM1646.0 503.9v8.2l7.4 -4.1zM1652.6 522.1v8.2l7.4 -4.1zM1660.1 508.8v8.2l7.4 -4.1zM1668.4 510.2v8.2l7.4 -4.1z" fill="#8000ff" stroke="#8000ff" stroke-width="0.8" stroke-linejoin="round"/>
<path d="M1085.7 333.1 1156.1 335.6 1169.4 343.9 1186.0 349.7 1199.2 355.5 1207.5 358.0 1210.0 433.1 1227.4 433.1 1243.9 438.1 1255.5 438.1 1262.1 443.1 1265.2 520.5 1269.4 524.7 1282.6 527.1 1295.9 524.7 1297.5 523.8" fill="none" stroke="#0000ff" stroke-width="3.8" stroke-linejoin="round" stroke-linecap="round"/>
<path d="M1082.9 330.3h5.6v5.6h-5.6zM1086.6 330.4h5.6v5.6h-5.6zM1090.3 330.6h5.6v5.6h-5.6zM1094.0 330.7h5.6v5.6h-5.6zM1097.7 330.8h5.6v5.6h-5.6zM1101.4 331.0h5.6v5.6h-5.6zM1105.1 331.1h5.6v5.6h-5.6zM1108.8 331.2h5.6v5.6h-5.6zM1112.5 331.4h5.6v5.6h-5.6zM1116.2 331.5h5.6v5.6h-5.6zM1120.0 331.6h5.6v5.6h-5.6zM1123.7 331.7h5.6v5.6h-5.6zM1127.4 331.9h5.6v5.6h-5.6zM1131.1 332.0h5.6v5.6h-5.6zM1134.8 332.1h5.6v5.6h-5.6zM1138.5 332.3h5.6v5.6h-5.6zM1142.2 332.4h5.6v5.6h-5.6zM1145.9 332.5h5.6v5.6h-5.6zM1149.6 332.7h5.6v5.6h-5.6zM1153.3 332.8h5.6v5.6h-5.6zM1156.6 334.9h5.6v5.6h-5.6zM1160.0 336.9h5.6v5.6h-5.6zM1163.3 339.0h5.6v5.6h-5.6zM1166.6 341.1h5.6v5.6h-5.6zM1170.8 342.5h5.6v5.6h-5.6zM1174.9 344.0h5.6v5.6h-5.6zM1179.0 345.4h5.6v5.6h-5.6zM1183.2 346.9h5.6v5.6h-5.6zM1186.5 348.3h5.6v5.6h-5.6zM1189.8 349.8h5.6v5.6h-5.6zM1193.1 351.2h5.6v5.6h-5.6zM1196.4 352.7h5.6v5.6h-5.6zM1200.5 353.9h5.6v5.6h-5.6zM1204.7 355.2h5.6v5.6h-5.6zM1207.2 430.3h5.6v5.6h-5.6zM1210.7 430.3h5.6v5.6h-5.6zM1214.2 430.3h5.6v5.6h-5.6zM1217.6 430.3h5.6v5.6h-5.6zM1221.1 430.3h5.6v5.6h-5.6zM1224.6 430.3h5.6v5.6h-5.6zM1228.7 431.6h5.6v5.6h-5.6zM1232.9 432.8h5.6v5.6h-5.6zM1237.0 434.1h5.6v5.6h-5.6zM1241.1 435.3h5.6v5.6h-5.6zM1245.0 435.3h5.6v5.6h-5.6zM1248.8 435.3h5.6v5.6h-5.6zM1252.7 435.3h5.6v5.6h-5.6zM1256.0 437.8h5.6v5.6h-5.6zM1259.3 440.3h5.6v5.6h-5.6zM1262.4 517.7h5.6v5.6h-5.6zM1266.6 521.9h5.6v5.6h-5.6zM1269.9 522.5h5.6v5.6h-5.6zM1273.2 523.1h5.6v5.6h-5.6zM1276.5 523.7h5.6v5.6h-5.6zM1279.8 524.3h5.6v5.6h-5.6zM1283.1 523.7h5.6v5.6h-5.6zM1286.5 523.1h5.6v5.6h-5.6zM1289.8 522.5h5.6v5.6h-5.6zM1293.1 521.9h5.6v5.6h-5.6zM1294.7 521.0h5.6v5.6h-5.6z" fill="#0000ff" stroke="#0000ff" stroke-width="0.8" stroke-linejoin="round"/>
<path d="M1088.2 348.9 1098.2 344.7 1108.1 348.9 1118.0 344.7 1128.0 348.0 1139.6 344.7 1144.5 348.0 1151.2 341.4 1159.4 344.7 1162.8 349.7 1169.4 353.8 1186.0 354.7 1192.6 361.3 1204.2 361.3 1209.1 368.7 1215.8 381.2 1219.1 382.8 1224.0 372.9 1232.3 379.5 1238.1 391.1 1243.1 416.6 1247.2 412.4 1250.6 433.1 1254.7 453.0 1257.2 463.8 1272.1 464.6 1285.3 463.8 1293.6 467.9 1298.6 476.2 1306.9 477.0 1310.2 486.1 1313.5 501.9" fill="none" stroke="#000000" stroke-width="3.8" stroke-linejoin="round" stroke-linecap="round"/>
<path d="M1085.4 346.1h5.6v5.6h-5.6zM1088.7 344.7h5.6v5.6h-5.6zM1092.1 343.3h5.6v5.6h-5.6zM1095.4 341.9h5.6v5.6h-5.6zM1098.7 343.3h5.6v5.6h-5.6zM1102.0 344.7h5.6v5.6h-5.6zM1105.3 346.1h5.6v5.6h-5.6zM1108.6 344.7h5.6v5.6h-5.6zM1111.9 343.3h5.6v5.6h-5.6zM1115.2 341.9h5.6v5.6h-5.6zM1118.5 343.0h5.6v5.6h-5.6zM1121.9 344.1h5.6v5.6h-5.6zM1125.2 345.2h5.6v5.6h-5.6zM1129.1 344.1h5.6v5.6h-5.6zM1132.9 343.0h5.6v5.6h-5.6zM1136.8 341.9h5.6v5.6h-5.6zM1141.7 345.2h5.6v5.6h-5.6zM1145.0 341.9h5.6v5.6h-5.6zM1148.4 338.6h5.6v5.6h-5.6zM1152.5 340.2h5.6v5.6h-5.6zM1156.6 341.9h5.6v5.6h-5.6zM1160.0 346.9h5.6v5.6h-5.6zM1163.3 348.9h5.6v5.6h-5.6zM1166.6 351.0h5.6v5.6h-5.6zM1170.8 351.2h5.6v5.6h-5.6zM1174.9 351.4h5.6v5.6h-5.6zM1179.0 351.7h5.6v5.6h-5.6zM1183.2 351.9h5.6v5.6h-5.6zM1186.5 355.2h5.6v5.6h-5.6zM1189.8 358.5h5.6v5.6h-5.6zM1193.7 358.5h5.6v5.6h-5.6zM1197.5 358.5h5.6v5.6h-5.6zM1201.4 358.5h5.6v5.6h-5.6zM1206.3 365.9h5.6v5.6h-5.6zM1209.6 372.1h5.6v5.6h-5.6zM1213.0 378.4h5.6v5.6h-5.6zM1216.3 380.0h5.6v5.6h-5.6zM1221.2 370.1h5.6v5.6h-5.6zM1225.4 373.4h5.6v5.6h-5.6zM1229.5 376.7h5.6v5.6h-5.6zM1232.4 382.5h5.6v5.6h-5.6zM1235.3 388.3h5.6v5.6h-5.6zM1240.3 413.8h5.6v5.6h-5.6zM1244.4 409.6h5.6v5.6h-5.6zM1247.8 430.3h5.6v5.6h-5.6zM1251.9 450.2h5.6v5.6h-5.6zM1254.4 461.0h5.6v5.6h-5.6zM1258.1 461.2h5.6v5.6h-5.6zM1261.9 461.4h5.6v5.6h-5.6zM1265.6 461.6h5.6v5.6h-5.6zM1269.3 461.8h5.6v5.6h-5.6zM1272.6 461.6h5.6v5.6h-5.6zM1275.9 461.4h5.6v5.6h-5.6zM1279.2 461.2h5.6v5.6h-5.6zM1282.5 461.0h5.6v5.6h-5.6zM1286.6 463.1h5.6v5.6h-5.6zM1290.8 465.1h5.6v5.6h-5.6zM1295.8 473.4h5.6v5.6h-5.6zM1300.0 473.8h5.6v5.6h-5.6zM1304.1 474.2h5.6v5.6h-5.6zM1307.4 483.3h5.6v5.6h-5.6zM1310.7 499.1h5.6v5.6h-5.6z" fill="#008000" stroke="#008000" stroke-width="0.8" stroke-linejoin="round"/>
<path d="M1088.2 131.2 1099.0 137.3 1108.1 135.7 1119.7 136.2 1131.3 138.2 1141.2 141.5 1147.9 148.9 1156.1 152.2 1163.6 156.7 1166.1 175.9 1169.4 187.9 1174.4 189.2 1177.7 194.5 1181.0 204.3 1185.1 215.5 1193.4 223.5 1202.5 231.0 1214.1 241.4 1218.3 251.3 1222.4 262.9 1229.8 263.8 1236.5 272.9 1239.8 287.0 1243.1 364.6 1245.6 382.8 1255.5 387.8 1265.5 396.1 1269.6 409.6 1272.9 448.9 1276.8 512.2 1286.0 518.9 1302.5 522.2 1327.4 523.8 1352.2 523.8 1360.5 526.3 1366.3 531.3" fill="none" stroke="#000000" stroke-width="3.8" stroke-linejoin="round" stroke-linecap="round"/>
<path d="M1085.4 128.4h5.6v5.6h-5.6zM1089.0 130.4h5.6v5.6h-5.6zM1092.6 132.5h5.6v5.6h-5.6zM1096.2 134.5h5.6v5.6h-5.6zM1100.8 133.7h5.6v5.6h-5.6zM1105.3 132.9h5.6v5.6h-5.6zM1109.2 133.1h5.6v5.6h-5.6zM1113.0 133.2h5.6v5.6h-5.6zM1116.9 133.4h5.6v5.6h-5.6zM1120.8 134.1h5.6v5.6h-5.6zM1124.6 134.7h5.6v5.6h-5.6zM1128.5 135.4h5.6v5.6h-5.6zM1131.8 136.5h5.6v5.6h-5.6zM1135.1 137.6h5.6v5.6h-5.6zM1138.4 138.7h5.6v5.6h-5.6zM1141.8 142.4h5.6v5.6h-5.6zM1145.1 146.1h5.6v5.6h-5.6zM1149.2 147.8h5.6v5.6h-5.6zM1153.3 149.4h5.6v5.6h-5.6zM1157.0 151.6h5.6v5.6h-5.6zM1160.8 153.9h5.6v5.6h-5.6zM1163.3 173.1h5.6v5.6h-5.6zM1166.6 185.1h5.6v5.6h-5.6zM1171.6 186.4h5.6v5.6h-5.6zM1174.9 191.7h5.6v5.6h-5.6zM1178.2 201.5h5.6v5.6h-5.6zM1182.3 212.7h5.6v5.6h-5.6zM1186.5 216.7h5.6v5.6h-5.6zM1190.6 220.7h5.6v5.6h-5.6zM1195.2 224.4h5.6v5.6h-5.6zM1199.7 228.2h5.6v5.6h-5.6zM1203.6 231.7h5.6v5.6h-5.6zM1207.4 235.1h5.6v5.6h-5.6zM1211.3 238.6h5.6v5.6h-5.6zM1215.5 248.5h5.6v5.6h-5.6zM1219.6 260.1h5.6v5.6h-5.6zM1223.3 260.6h5.6v5.6h-5.6zM1227.0 261.0h5.6v5.6h-5.6zM1230.4 265.6h5.6v5.6h-5.6zM1233.7 270.1h5.6v5.6h-5.6zM1237.0 284.2h5.6v5.6h-5.6zM1240.3 361.8h5.6v5.6h-5.6zM1242.8 380.0h5.6v5.6h-5.6zM1246.1 381.7h5.6v5.6h-5.6zM1249.4 383.3h5.6v5.6h-5.6zM1252.7 385.0h5.6v5.6h-5.6zM1256.0 387.8h5.6v5.6h-5.6zM1259.4 390.5h5.6v5.6h-5.6zM1262.7 393.3h5.6v5.6h-5.6zM1266.8 406.8h5.6v5.6h-5.6zM1270.1 446.1h5.6v5.6h-5.6zM1274.0 509.4h5.6v5.6h-5.6zM1278.6 512.8h5.6v5.6h-5.6zM1283.2 516.1h5.6v5.6h-5.6zM1287.3 516.9h5.6v5.6h-5.6zM1291.5 517.8h5.6v5.6h-5.6zM1295.6 518.6h5.6v5.6h-5.6zM1299.7 519.4h5.6v5.6h-5.6zM1303.3 519.6h5.6v5.6h-5.6zM1306.8 519.9h5.6v5.6h-5.6zM1310.4 520.1h5.6v5.6h-5.6zM1313.9 520.3h5.6v5.6h-5.6zM1317.5 520.5h5.6v5.6h-5.6zM1321.0 520.8h5.6v5.6h-5.6zM1324.6 521.0h5.6v5.6h-5.6zM1328.1 521.0h5.6v5.6h-5.6zM1331.7 521.0h5.6v5.6h-5.6zM1335.2 521.0h5.6v5.6h-5.6zM1338.8 521.0h5.6v5.6h-5.6zM1342.3 521.0h5.6v5.6h-5.6zM1345.9 521.0h5.6v5.6h-5.6zM1349.4 521.0h5.6v5.6h-5.6zM1353.5 522.2h5.6v5.6h-5.6zM1357.7 523.5h5.6v5.6h-5.6zM1360.6 526.0h5.6v5.6h-5.6zM1363.5 528.5h5.6v5.6h-5.6z" fill="#0000a8" stroke="#0000a8" stroke-width="0.8" stroke-linejoin="round"/>
<path d="M1088.2 215.7 1094.8 217.9 1103.1 214.6 1113.1 216.2 1124.7 216.6 1139.6 218.2 1147.9 220.7 1156.1 219.5 1166.1 224.8 1173.5 218.2 1189.3 219.9 1193.4 227.3 1197.5 233.1 1219.1 235.6 1231.5 240.6 1235.6 231.5 1245.6 234.0 1257.2 238.1 1268.8 240.6 1271.3 242.2 1275.4 254.7 1280.4 274.5 1290.3 277.9 1298.6 278.7 1308.5 283.6 1318.5 290.3 1326.8 299.4 1335.0 303.5 1338.3 311.6 1343.3 321.5 1346.6 348.0 1356.6 351.3 1373.1 357.1 1391.3 364.6 1399.6 372.9 1406.3 381.2 1410.4 382.0 1413.7 376.2 1417.0 364.6 1421.2 371.2 1424.5 376.2 1428.6 364.6 1432.8 367.9 1435.2 374.5" fill="none" stroke="#000000" stroke-width="3.8" stroke-linejoin="round" stroke-linecap="round"/>
<path d="M1085.4 212.9h5.6v5.6h-5.6zM1088.7 214.0h5.6v5.6h-5.6zM1092.0 215.1h5.6v5.6h-5.6zM1096.1 213.4h5.6v5.6h-5.6zM1100.3 211.8h5.6v5.6h-5.6zM1103.6 212.3h5.6v5.6h-5.6zM1107.0 212.9h5.6v5.6h-5.6zM1110.3 213.4h5.6v5.6h-5.6zM1114.2 213.5h5.6v5.6h-5.6zM1118.0 213.7h5.6v5.6h-5.6zM1121.9 213.8h5.6v5.6h-5.6zM1125.6 214.2h5.6v5.6h-5.6zM1129.4 214.6h5.6v5.6h-5.6zM1133.1 215.0h5.6v5.6h-5.6zM1136.8 215.4h5.6v5.6h-5.6zM1141.0 216.6h5.6v5.6h-5.6zM1145.1 217.9h5.6v5.6h-5.6zM1149.2 217.3h5.6v5.6h-5.6zM1153.3 216.7h5.6v5.6h-5.6zM1156.6 218.5h5.6v5.6h-5.6zM1160.0 220.2h5.6v5.6h-5.6zM1163.3 222.0h5.6v5.6h-5.6zM1167.0 218.7h5.6v5.6h-5.6zM1170.7 215.4h5.6v5.6h-5.6zM1174.7 215.8h5.6v5.6h-5.6zM1178.6 216.2h5.6v5.6h-5.6zM1182.5 216.7h5.6v5.6h-5.6zM1186.5 217.1h5.6v5.6h-5.6zM1190.6 224.5h5.6v5.6h-5.6zM1194.7 230.3h5.6v5.6h-5.6zM1198.3 230.7h5.6v5.6h-5.6zM1201.9 231.1h5.6v5.6h-5.6zM1205.5 231.5h5.6v5.6h-5.6zM1209.1 232.0h5.6v5.6h-5.6zM1212.7 232.4h5.6v5.6h-5.6zM1216.3 232.8h5.6v5.6h-5.6zM1220.4 234.5h5.6v5.6h-5.6zM1224.6 236.1h5.6v5.6h-5.6zM1228.7 237.8h5.6v5.6h-5.6zM1232.8 228.7h5.6v5.6h-5.6zM1236.1 229.5h5.6v5.6h-5.6zM1239.5 230.4h5.6v5.6h-5.6zM1242.8 231.2h5.6v5.6h-5.6zM1246.7 232.6h5.6v5.6h-5.6zM1250.5 233.9h5.6v5.6h-5.6zM1254.4 235.3h5.6v5.6h-5.6zM1258.3 236.1h5.6v5.6h-5.6zM1262.1 237.0h5.6v5.6h-5.6zM1266.0 237.8h5.6v5.6h-5.6zM1268.5 239.4h5.6v5.6h-5.6zM1272.6 251.9h5.6v5.6h-5.6zM1277.6 271.7h5.6v5.6h-5.6zM1280.9 272.8h5.6v5.6h-5.6zM1284.2 274.0h5.6v5.6h-5.6zM1287.5 275.1h5.6v5.6h-5.6zM1291.6 275.5h5.6v5.6h-5.6zM1295.8 275.9h5.6v5.6h-5.6zM1299.1 277.5h5.6v5.6h-5.6zM1302.4 279.2h5.6v5.6h-5.6zM1305.7 280.8h5.6v5.6h-5.6zM1309.0 283.0h5.6v5.6h-5.6zM1312.4 285.3h5.6v5.6h-5.6zM1315.7 287.5h5.6v5.6h-5.6zM1319.9 292.1h5.6v5.6h-5.6zM1324.0 296.6h5.6v5.6h-5.6zM1328.1 298.6h5.6v5.6h-5.6zM1332.2 300.7h5.6v5.6h-5.6zM1335.5 308.8h5.6v5.6h-5.6zM1340.5 318.7h5.6v5.6h-5.6zM1343.8 345.2h5.6v5.6h-5.6zM1347.1 346.3h5.6v5.6h-5.6zM1350.5 347.4h5.6v5.6h-5.6zM1353.8 348.5h5.6v5.6h-5.6zM1357.9 349.9h5.6v5.6h-5.6zM1362.0 351.4h5.6v5.6h-5.6zM1366.2 352.9h5.6v5.6h-5.6zM1370.3 354.3h5.6v5.6h-5.6zM1373.9 355.8h5.6v5.6h-5.6zM1377.6 357.3h5.6v5.6h-5.6zM1381.2 358.8h5.6v5.6h-5.6zM1384.9 360.3h5.6v5.6h-5.6zM1388.5 361.8h5.6v5.6h-5.6zM1392.6 365.9h5.6v5.6h-5.6zM1396.8 370.1h5.6v5.6h-5.6zM1400.1 374.2h5.6v5.6h-5.6zM1403.5 378.4h5.6v5.6h-5.6zM1407.6 379.2h5.6v5.6h-5.6zM1410.9 373.4h5.6v5.6h-5.6zM1414.2 361.8h5.6v5.6h-5.6zM1418.4 368.4h5.6v5.6h-5.6zM1421.7 373.4h5.6v5.6h-5.6zM1425.8 361.8h5.6v5.6h-5.6zM1430.0 365.1h5.6v5.6h-5.6zM1432.4 371.7h5.6v5.6h-5.6z" fill="#ff8000" stroke="#ff8000" stroke-width="0.8" stroke-linejoin="round"/>
<path d="M1088.2 277.9 1094.8 282.0 1109.8 277.9 1115.6 285.3 1126.3 279.5 1144.5 281.2 1162.8 282.8 1177.7 286.1 1186.0 292.8 1199.2 292.8 1210.8 299.4 1235.6 300.5 1243.9 306.0 1251.4 339.8 1260.5 343.9 1273.7 349.7 1290.3 351.3 1308.5 357.1 1318.5 365.4 1335.0 366.3 1341.7 371.2 1346.2 493.0 1352.2 501.5 1365.5 502.3 1372.1 506.4 1388.7 506.4 1395.3 504.8 1401.9 514.7 1413.5 514.7 1435.0 513.9 1467.9 515.8" fill="none" stroke="#ff00ff" stroke-width="3.8" stroke-linejoin="round" stroke-linecap="round"/>
<path d="M1084.1 274.6h8.2l-4.1 7.4zM1090.7 278.7h8.2l-4.1 7.4zM1098.2 276.7h8.2l-4.1 7.4zM1105.7 274.6h8.2l-4.1 7.4zM1111.5 282.0h8.2l-4.1 7.4zM1116.8 279.1h8.2l-4.1 7.4zM1122.2 276.2h8.2l-4.1 7.4zM1128.3 276.8h8.2l-4.1 7.4zM1134.3 277.4h8.2l-4.1 7.4zM1140.4 277.9h8.2l-4.1 7.4zM1146.5 278.5h8.2l-4.1 7.4zM1152.6 279.0h8.2l-4.1 7.4zM1158.7 279.5h8.2l-4.1 7.4zM1166.2 281.2h8.2l-4.1 7.4zM1173.6 282.8h8.2l-4.1 7.4zM1181.9 289.5h8.2l-4.1 7.4zM1188.5 289.5h8.2l-4.1 7.4zM1195.1 289.5h8.2l-4.1 7.4zM1200.9 292.8h8.2l-4.1 7.4zM1206.7 296.1h8.2l-4.1 7.4zM1212.9 296.4h8.2l-4.1 7.4zM1219.1 296.7h8.2l-4.1 7.4zM1225.3 296.9h8.2l-4.1 7.4zM1231.5 297.2h8.2l-4.1 7.4zM1239.8 302.7h8.2l-4.1 7.4zM1247.3 336.5h8.2l-4.1 7.4zM1256.4 340.6h8.2l-4.1 7.4zM1263.0 343.5h8.2l-4.1 7.4zM1269.6 346.4h8.2l-4.1 7.4zM1277.9 347.2h8.2l-4.1 7.4zM1286.2 348.0h8.2l-4.1 7.4zM1292.3 350.0h8.2l-4.1 7.4zM1298.3 351.9h8.2l-4.1 7.4zM1304.4 353.8h8.2l-4.1 7.4zM1314.4 362.1h8.2l-4.1 7.4zM1322.7 362.6h8.2l-4.1 7.4zM1330.9 363.0h8.2l-4.1 7.4zM1337.6 367.9h8.2l-4.1 7.4zM1342.1 489.7h8.2l-4.1 7.4zM1348.1 498.2h8.2l-4.1 7.4zM1354.8 498.6h8.2l-4.1 7.4zM1361.4 499.0h8.2l-4.1 7.4zM1368.0 503.1h8.2l-4.1 7.4zM1376.3 503.1h8.2l-4.1 7.4zM1384.6 503.1h8.2l-4.1 7.4zM1391.2 501.5h8.2l-4.1 7.4zM1397.8 511.4h8.2l-4.1 7.4zM1403.6 511.4h8.2l-4.1 7.4zM1409.4 511.4h8.2l-4.1 7.4zM1416.6 511.2h8.2l-4.1 7.4zM1423.7 510.9h8.2l-4.1 7.4zM1430.9 510.6h8.2l-4.1 7.4zM1437.5 511.0h8.2l-4.1 7.4zM1444.1 511.4h8.2l-4.1 7.4zM1450.6 511.8h8.2l-4.1 7.4zM1457.2 512.1h8.2l-4.1 7.4zM1463.8 512.5h8.2l-4.1 7.4z" fill="#ff00ff" stroke="#ff00ff" stroke-width="0.8" stroke-linejoin="round"/>
<path d="M1092.4 230.6 1099.8 231.5 1107.3 236.8 1114.7 237.3 1121.3 251.4 1129.6 251.4 1137.9 254.7 1145.4 254.7 1152.0 268.7 1159.4 277.9 1166.9 262.1 1173.5 339.8" fill="none" stroke="#800080" stroke-width="3.8" stroke-linejoin="round" stroke-linecap="round"/>
<path d="M1089.0 230.6a3.5 3.5 0 1 0 6.9 0a3.5 3.5 0 1 0 -6.9 0zM1096.3 231.5a3.5 3.5 0 1 0 6.9 0a3.5 3.5 0 1 0 -6.9 0zM1103.8 236.8a3.5 3.5 0 1 0 6.9 0a3.5 3.5 0 1 0 -6.9 0zM1111.2 237.3a3.5 3.5 0 1 0 6.9 0a3.5 3.5 0 1 0 -6.9 0zM1117.8 251.4a3.5 3.5 0 1 0 6.9 0a3.5 3.5 0 1 0 -6.9 0zM1126.1 251.4a3.5 3.5 0 1 0 6.9 0a3.5 3.5 0 1 0 -6.9 0zM1134.5 254.7a3.5 3.5 0 1 0 6.9 0a3.5 3.5 0 1 0 -6.9 0zM1142.0 254.7a3.5 3.5 0 1 0 6.9 0a3.5 3.5 0 1 0 -6.9 0zM1148.5 268.7a3.5 3.5 0 1 0 6.9 0a3.5 3.5 0 1 0 -6.9 0zM1156.0 277.9a3.5 3.5 0 1 0 6.9 0a3.5 3.5 0 1 0 -6.9 0zM1163.5 262.1a3.5 3.5 0 1 0 6.9 0a3.5 3.5 0 1 0 -6.9 0zM1170.0 339.8a3.5 3.5 0 1 0 6.9 0a3.5 3.5 0 1 0 -6.9 0z" fill="#800080" stroke="#800080" stroke-width="0.8" stroke-linejoin="round"/>
<path d="M1091.5 266.3 1099.8 265.4 1136.3 269.6 1169.4 271.2 1202.5 272.9 1219.1 274.5 1227.4 279.5 1243.9 283.7 1260.5 286.1 1277.1 289.4 1292.0 293.6 1301.9 296.1 1307.7 299.4 1315.2 317.4 1321.8 381.2 1335.0 381.2 1368.2 382.0 1389.7 384.5 1406.3 387.8 1422.8 391.1 1439.4 394.4 1449.3 397.7 1456.0 401.3 1462.6 447.1 1470.9 444.7 1478.3 459.4 1485.5 493.7 1492.6 454.0 1500.4 460.6 1507.5 464.5 1515.0 465.5 1522.4 454.8 1530.0 528.7" fill="none" stroke="#ff0000" stroke-width="3.8" stroke-linejoin="round" stroke-linecap="round"/>
<path d="M1088.4 266.3a3.1 3.1 0 1 0 6.2 0a3.1 3.1 0 1 0 -6.2 0zM1096.7 265.4a3.1 3.1 0 1 0 6.2 0a3.1 3.1 0 1 0 -6.2 0zM1104.0 266.2a3.1 3.1 0 1 0 6.2 0a3.1 3.1 0 1 0 -6.2 0zM1111.3 267.1a3.1 3.1 0 1 0 6.2 0a3.1 3.1 0 1 0 -6.2 0zM1118.6 267.9a3.1 3.1 0 1 0 6.2 0a3.1 3.1 0 1 0 -6.2 0zM1125.9 268.8a3.1 3.1 0 1 0 6.2 0a3.1 3.1 0 1 0 -6.2 0zM1133.2 269.6a3.1 3.1 0 1 0 6.2 0a3.1 3.1 0 1 0 -6.2 0zM1141.5 270.0a3.1 3.1 0 1 0 6.2 0a3.1 3.1 0 1 0 -6.2 0zM1149.8 270.4a3.1 3.1 0 1 0 6.2 0a3.1 3.1 0 1 0 -6.2 0zM1158.0 270.8a3.1 3.1 0 1 0 6.2 0a3.1 3.1 0 1 0 -6.2 0zM1166.3 271.2a3.1 3.1 0 1 0 6.2 0a3.1 3.1 0 1 0 -6.2 0zM1174.6 271.6a3.1 3.1 0 1 0 6.2 0a3.1 3.1 0 1 0 -6.2 0zM1182.9 272.0a3.1 3.1 0 1 0 6.2 0a3.1 3.1 0 1 0 -6.2 0zM1191.1 272.5a3.1 3.1 0 1 0 6.2 0a3.1 3.1 0 1 0 -6.2 0zM1199.4 272.9a3.1 3.1 0 1 0 6.2 0a3.1 3.1 0 1 0 -6.2 0zM1207.7 273.7a3.1 3.1 0 1 0 6.2 0a3.1 3.1 0 1 0 -6.2 0zM1216.0 274.5a3.1 3.1 0 1 0 6.2 0a3.1 3.1 0 1 0 -6.2 0zM1224.3 279.5a3.1 3.1 0 1 0 6.2 0a3.1 3.1 0 1 0 -6.2 0zM1232.6 281.6a3.1 3.1 0 1 0 6.2 0a3.1 3.1 0 1 0 -6.2 0zM1240.8 283.7a3.1 3.1 0 1 0 6.2 0a3.1 3.1 0 1 0 -6.2 0zM1249.1 284.9a3.1 3.1 0 1 0 6.2 0a3.1 3.1 0 1 0 -6.2 0zM1257.4 286.1a3.1 3.1 0 1 0 6.2 0a3.1 3.1 0 1 0 -6.2 0zM1265.7 287.8a3.1 3.1 0 1 0 6.2 0a3.1 3.1 0 1 0 -6.2 0zM1274.0 289.4a3.1 3.1 0 1 0 6.2 0a3.1 3.1 0 1 0 -6.2 0zM1281.5 291.5a3.1 3.1 0 1 0 6.2 0a3.1 3.1 0 1 0 -6.2 0zM1288.9 293.6a3.1 3.1 0 1 0 6.2 0a3.1 3.1 0 1 0 -6.2 0zM1298.8 296.1a3.1 3.1 0 1 0 6.2 0a3.1 3.1 0 1 0 -6.2 0zM1304.6 299.4a3.1 3.1 0 1 0 6.2 0a3.1 3.1 0 1 0 -6.2 0zM1312.1 317.4a3.1 3.1 0 1 0 6.2 0a3.1 3.1 0 1 0 -6.2 0zM1318.7 381.2a3.1 3.1 0 1 0 6.2 0a3.1 3.1 0 1 0 -6.2 0zM1325.3 381.2a3.1 3.1 0 1 0 6.2 0a3.1 3.1 0 1 0 -6.2 0zM1331.9 381.2a3.1 3.1 0 1 0 6.2 0a3.1 3.1 0 1 0 -6.2 0zM1340.2 381.4a3.1 3.1 0 1 0 6.2 0a3.1 3.1 0 1 0 -6.2 0zM1348.5 381.6a3.1 3.1 0 1 0 6.2 0a3.1 3.1 0 1 0 -6.2 0zM1356.8 381.8a3.1 3.1 0 1 0 6.2 0a3.1 3.1 0 1 0 -6.2 0zM1365.1 382.0a3.1 3.1 0 1 0 6.2 0a3.1 3.1 0 1 0 -6.2 0zM1372.3 382.8a3.1 3.1 0 1 0 6.2 0a3.1 3.1 0 1 0 -6.2 0zM1379.4 383.7a3.1 3.1 0 1 0 6.2 0a3.1 3.1 0 1 0 -6.2 0zM1386.6 384.5a3.1 3.1 0 1 0 6.2 0a3.1 3.1 0 1 0 -6.2 0zM1394.9 386.1a3.1 3.1 0 1 0 6.2 0a3.1 3.1 0 1 0 -6.2 0zM1403.2 387.8a3.1 3.1 0 1 0 6.2 0a3.1 3.1 0 1 0 -6.2 0zM1411.5 389.5a3.1 3.1 0 1 0 6.2 0a3.1 3.1 0 1 0 -6.2 0zM1419.7 391.1a3.1 3.1 0 1 0 6.2 0a3.1 3.1 0 1 0 -6.2 0zM1428.0 392.8a3.1 3.1 0 1 0 6.2 0a3.1 3.1 0 1 0 -6.2 0zM1436.3 394.4a3.1 3.1 0 1 0 6.2 0a3.1 3.1 0 1 0 -6.2 0zM1446.2 397.7a3.1 3.1 0 1 0 6.2 0a3.1 3.1 0 1 0 -6.2 0zM1452.9 401.3a3.1 3.1 0 1 0 6.2 0a3.1 3.1 0 1 0 -6.2 0zM1459.5 447.1a3.1 3.1 0 1 0 6.2 0a3.1 3.1 0 1 0 -6.2 0zM1467.8 444.7a3.1 3.1 0 1 0 6.2 0a3.1 3.1 0 1 0 -6.2 0zM1475.2 459.4a3.1 3.1 0 1 0 6.2 0a3.1 3.1 0 1 0 -6.2 0zM1482.4 493.7a3.1 3.1 0 1 0 6.2 0a3.1 3.1 0 1 0 -6.2 0zM1489.5 454.0a3.1 3.1 0 1 0 6.2 0a3.1 3.1 0 1 0 -6.2 0zM1497.3 460.6a3.1 3.1 0 1 0 6.2 0a3.1 3.1 0 1 0 -6.2 0zM1504.4 464.5a3.1 3.1 0 1 0 6.2 0a3.1 3.1 0 1 0 -6.2 0zM1511.9 465.5a3.1 3.1 0 1 0 6.2 0a3.1 3.1 0 1 0 -6.2 0zM1519.3 454.8a3.1 3.1 0 1 0 6.2 0a3.1 3.1 0 1 0 -6.2 0zM1526.9 528.7a3.1 3.1 0 1 0 6.2 0a3.1 3.1 0 1 0 -6.2 0z" fill="#ff0000" stroke="#ff0000" stroke-width="0.8" stroke-linejoin="round"/>
<path d="M1090.7 267.6 1131.3 270.4 1136.3 276.2 1144.5 274.5 1159.4 276.2 1172.7 279.5 1182.6 277.9 1196.7 280.3 1203.5 292.0 1212.4 406.0 1219.0 406.8 1232.3 410.8 1245.0 407.5 1340.0 407.4 1353.3 405.7 1359.9 409.9 1368.2 407.4 1376.4 409.9 1381.4 413.2 1389.7 414.0 1397.1 421.5 1404.1 504.7 1411.6 529.5 1419.0 509.6 1425.7 531.2 1433.1 530.3 1441.4 532.8 1448.9 533.6 1456.3 459.1 1462.9 478.2 1471.2 484.0 1477.9 522.9 1486.1 522.9 1499.4 526.2 1511.0 521.2 1522.6 512.1 1530.9 519.6 1544.1 521.2 1552.4 519.6 1559.8 526.2 1567.3 519.6 1574.8 526.2 1582.2 513.8 1590.5 514.6 1598.8 518.7 1612.0 522.9 1631.9 522.1 1656.8 523.7 1665.0 525.4" fill="none" stroke="#800000" stroke-width="3.8" stroke-linejoin="round" stroke-linecap="round"/>
<path d="M1090.7 263.0L1091.9 266.0L1095.1 266.2L1092.6 268.2L1093.4 271.3L1090.7 269.6L1088.0 271.3L1088.8 268.2L1086.3 266.2L1089.5 266.0zM1098.8 263.6L1100.0 266.5L1103.2 266.7L1100.7 268.8L1101.5 271.9L1098.8 270.2L1096.1 271.9L1096.9 268.8L1094.4 266.7L1097.6 266.5zM1106.9 264.1L1108.1 267.1L1111.3 267.3L1108.8 269.3L1109.6 272.4L1106.9 270.7L1104.2 272.4L1105.0 269.3L1102.6 267.3L1105.8 267.1zM1115.1 264.7L1116.2 267.7L1119.4 267.9L1117.0 269.9L1117.8 273.0L1115.1 271.3L1112.4 273.0L1113.2 269.9L1110.7 267.9L1113.9 267.7zM1123.2 265.2L1124.4 268.2L1127.6 268.4L1125.1 270.5L1125.9 273.6L1123.2 271.8L1120.5 273.6L1121.3 270.5L1118.8 268.4L1122.0 268.2zM1131.3 265.8L1132.5 268.8L1135.7 269.0L1133.2 271.0L1134.0 274.1L1131.3 272.4L1128.6 274.1L1129.4 271.0L1126.9 269.0L1130.1 268.8zM1136.3 271.6L1137.5 274.6L1140.7 274.8L1138.2 276.8L1139.0 279.9L1136.3 278.2L1133.6 279.9L1134.4 276.8L1131.9 274.8L1135.1 274.6zM1144.5 269.9L1145.7 272.9L1148.9 273.1L1146.4 275.1L1147.2 278.2L1144.5 276.5L1141.8 278.2L1142.6 275.1L1140.1 273.1L1143.3 272.9zM1152.0 270.8L1153.1 273.7L1156.3 273.9L1153.9 276.0L1154.7 279.1L1152.0 277.4L1149.2 279.1L1150.0 276.0L1147.6 273.9L1150.8 273.7zM1159.4 271.6L1160.6 274.6L1163.8 274.8L1161.3 276.8L1162.1 279.9L1159.4 278.2L1156.7 279.9L1157.5 276.8L1155.0 274.8L1158.2 274.6zM1166.1 273.2L1167.2 276.2L1170.4 276.4L1168.0 278.5L1168.8 281.6L1166.1 279.9L1163.3 281.6L1164.1 278.5L1161.7 276.4L1164.9 276.2zM1172.7 274.9L1173.9 277.9L1177.1 278.1L1174.6 280.1L1175.4 283.2L1172.7 281.5L1170.0 283.2L1170.8 280.1L1168.3 278.1L1171.5 277.9zM1182.6 273.3L1183.8 276.3L1187.0 276.5L1184.5 278.5L1185.3 281.6L1182.6 279.9L1179.9 281.6L1180.7 278.5L1178.2 276.5L1181.4 276.3zM1189.7 274.5L1190.8 277.5L1194.0 277.7L1191.6 279.7L1192.4 282.8L1189.7 281.1L1186.9 282.8L1187.7 279.7L1185.3 277.7L1188.5 277.5zM1196.7 275.7L1197.9 278.7L1201.1 278.9L1198.6 280.9L1199.4 284.0L1196.7 282.3L1194.0 284.0L1194.8 280.9L1192.3 278.9L1195.5 278.7zM1203.5 287.4L1204.7 290.4L1207.9 290.6L1205.4 292.6L1206.2 295.7L1203.5 294.0L1200.8 295.7L1201.6 292.6L1199.1 290.6L1202.3 290.4zM1212.4 401.4L1213.6 404.4L1216.8 404.6L1214.3 406.6L1215.1 409.7L1212.4 408.0L1209.7 409.7L1210.5 406.6L1208.0 404.6L1211.2 404.4zM1219.0 402.2L1220.2 405.2L1223.4 405.4L1220.9 407.4L1221.7 410.5L1219.0 408.8L1216.3 410.5L1217.1 407.4L1214.6 405.4L1217.8 405.2zM1225.7 404.2L1226.8 407.2L1230.0 407.4L1227.6 409.4L1228.4 412.5L1225.7 410.8L1222.9 412.5L1223.7 409.4L1221.3 407.4L1224.5 407.2zM1232.3 406.2L1233.5 409.2L1236.7 409.4L1234.2 411.4L1235.0 414.5L1232.3 412.8L1229.6 414.5L1230.4 411.4L1227.9 409.4L1231.1 409.2zM1238.7 404.5L1239.8 407.5L1243.0 407.7L1240.6 409.8L1241.4 412.9L1238.7 411.1L1235.9 412.9L1236.7 409.8L1234.3 407.7L1237.5 407.5zM1245.0 402.9L1246.2 405.9L1249.4 406.1L1246.9 408.1L1247.7 411.2L1245.0 409.5L1242.3 411.2L1243.1 408.1L1240.6 406.1L1243.8 405.9zM1252.3 402.9L1253.5 405.9L1256.7 406.1L1254.2 408.1L1255.0 411.2L1252.3 409.5L1249.6 411.2L1250.4 408.1L1247.9 406.1L1251.1 405.9zM1259.6 402.9L1260.8 405.9L1264.0 406.1L1261.5 408.1L1262.3 411.2L1259.6 409.5L1256.9 411.2L1257.7 408.1L1255.2 406.1L1258.4 405.9zM1266.9 402.9L1268.1 405.9L1271.3 406.1L1268.8 408.1L1269.6 411.2L1266.9 409.5L1264.2 411.2L1265.0 408.1L1262.5 406.1L1265.7 405.9zM1274.2 402.9L1275.4 405.9L1278.6 406.0L1276.1 408.1L1276.9 411.2L1274.2 409.5L1271.5 411.2L1272.3 408.1L1269.9 406.0L1273.1 405.9zM1281.5 402.9L1282.7 405.8L1285.9 406.0L1283.4 408.1L1284.2 411.2L1281.5 409.5L1278.8 411.2L1279.6 408.1L1277.2 406.0L1280.4 405.8zM1288.8 402.9L1290.0 405.8L1293.2 406.0L1290.7 408.1L1291.5 411.2L1288.8 409.5L1286.1 411.2L1286.9 408.1L1284.5 406.0L1287.7 405.8zM1296.2 402.8L1297.3 405.8L1300.5 406.0L1298.1 408.1L1298.9 411.2L1296.2 409.4L1293.5 411.2L1294.3 408.1L1291.8 406.0L1295.0 405.8zM1303.5 402.8L1304.6 405.8L1307.8 406.0L1305.4 408.1L1306.2 411.2L1303.5 409.4L1300.8 411.2L1301.6 408.1L1299.1 406.0L1302.3 405.8zM1310.8 402.8L1311.9 405.8L1315.1 406.0L1312.7 408.0L1313.5 411.2L1310.8 409.4L1308.1 411.2L1308.9 408.0L1306.4 406.0L1309.6 405.8zM1318.1 402.8L1319.3 405.8L1322.5 406.0L1320.0 408.0L1320.8 411.1L1318.1 409.4L1315.4 411.1L1316.2 408.0L1313.7 406.0L1316.9 405.8zM1325.4 402.8L1326.6 405.8L1329.8 406.0L1327.3 408.0L1328.1 411.1L1325.4 409.4L1322.7 411.1L1323.5 408.0L1321.0 406.0L1324.2 405.8zM1332.7 402.8L1333.9 405.8L1337.1 406.0L1334.6 408.0L1335.4 411.1L1332.7 409.4L1330.0 411.1L1330.8 408.0L1328.3 406.0L1331.5 405.8zM1340.0 402.8L1341.2 405.8L1344.4 406.0L1341.9 408.0L1342.7 411.1L1340.0 409.4L1337.3 411.1L1338.1 408.0L1335.6 406.0L1338.8 405.8zM1346.7 401.9L1347.8 404.9L1351.0 405.1L1348.6 407.2L1349.4 410.3L1346.7 408.5L1343.9 410.3L1344.7 407.2L1342.3 405.1L1345.5 404.9zM1353.3 401.1L1354.5 404.1L1357.7 404.3L1355.2 406.3L1356.0 409.4L1353.3 407.7L1350.6 409.4L1351.4 406.3L1348.9 404.3L1352.1 404.1zM1359.9 405.3L1361.1 408.3L1364.3 408.5L1361.8 410.5L1362.6 413.6L1359.9 411.9L1357.2 413.6L1358.0 410.5L1355.5 408.5L1358.7 408.3zM1368.2 402.8L1369.4 405.8L1372.6 406.0L1370.1 408.0L1370.9 411.1L1368.2 409.4L1365.5 411.1L1366.3 408.0L1363.8 406.0L1367.0 405.8zM1376.4 405.3L1377.6 408.3L1380.8 408.5L1378.3 410.5L1379.1 413.6L1376.4 411.9L1373.7 413.6L1374.5 410.5L1372.0 408.5L1375.2 408.3zM1381.4 408.6L1382.6 411.6L1385.8 411.8L1383.3 413.8L1384.1 416.9L1381.4 415.2L1378.7 416.9L1379.5 413.8L1377.0 411.8L1380.2 411.6zM1389.7 409.4L1390.9 412.4L1394.1 412.6L1391.6 414.6L1392.4 417.7L1389.7 416.0L1387.0 417.7L1387.8 414.6L1385.3 412.6L1388.5 412.4zM1397.1 416.9L1398.3 419.9L1401.5 420.1L1399.0 422.1L1399.8 425.2L1397.1 423.5L1394.4 425.2L1395.2 422.1L1392.7 420.1L1395.9 419.9zM1404.1 500.1L1405.3 503.1L1408.5 503.3L1406.0 505.3L1406.8 508.4L1404.1 506.7L1401.4 508.4L1402.2 505.3L1399.7 503.3L1402.9 503.1zM1411.6 524.9L1412.8 527.9L1416.0 528.1L1413.5 530.1L1414.3 533.2L1411.6 531.5L1408.9 533.2L1409.7 530.1L1407.2 528.1L1410.4 527.9zM1419.0 505.0L1420.2 508.0L1423.4 508.2L1420.9 510.2L1421.7 513.3L1419.0 511.6L1416.3 513.3L1417.1 510.2L1414.6 508.2L1417.8 508.0zM1425.7 526.6L1426.9 529.6L1430.1 529.8L1427.6 531.8L1428.4 534.9L1425.7 533.2L1423.0 534.9L1423.8 531.8L1421.3 529.8L1424.5 529.6zM1433.1 525.7L1434.3 528.7L1437.5 528.9L1435.0 530.9L1435.8 534.0L1433.1 532.3L1430.4 534.0L1431.2 530.9L1428.7 528.9L1431.9 528.7zM1441.4 528.2L1442.6 531.2L1445.8 531.4L1443.3 533.4L1444.1 536.5L1441.4 534.8L1438.7 536.5L1439.5 533.4L1437.0 531.4L1440.2 531.2zM1448.9 529.0L1450.1 532.0L1453.3 532.2L1450.8 534.2L1451.6 537.3L1448.9 535.6L1446.2 537.3L1447.0 534.2L1444.5 532.2L1447.7 532.0zM1456.3 454.5L1457.5 457.5L1460.7 457.7L1458.2 459.7L1459.0 462.8L1456.3 461.1L1453.6 462.8L1454.4 459.7L1451.9 457.7L1455.1 457.5zM1462.9 473.6L1464.1 476.6L1467.3 476.8L1464.8 478.8L1465.6 481.9L1462.9 480.2L1460.2 481.9L1461.0 478.8L1458.5 476.8L1461.7 476.6zM1471.2 479.4L1472.4 482.4L1475.6 482.6L1473.1 484.6L1473.9 487.7L1471.2 486.0L1468.5 487.7L1469.3 484.6L1466.8 482.6L1470.0 482.4zM1477.9 518.3L1479.1 521.3L1482.3 521.5L1479.8 523.5L1480.6 526.6L1477.9 524.9L1475.2 526.6L1476.0 523.5L1473.5 521.5L1476.7 521.3zM1486.1 518.3L1487.3 521.3L1490.5 521.5L1488.0 523.5L1488.8 526.6L1486.1 524.9L1483.4 526.6L1484.2 523.5L1481.7 521.5L1484.9 521.3zM1492.8 519.9L1493.9 522.9L1497.1 523.1L1494.7 525.2L1495.5 528.3L1492.8 526.5L1490.0 528.3L1490.8 525.2L1488.4 523.1L1491.6 522.9zM1499.4 521.6L1500.6 524.6L1503.8 524.8L1501.3 526.8L1502.1 529.9L1499.4 528.2L1496.7 529.9L1497.5 526.8L1495.0 524.8L1498.2 524.6zM1505.2 519.1L1506.4 522.1L1509.6 522.3L1507.1 524.3L1507.9 527.4L1505.2 525.7L1502.5 527.4L1503.3 524.3L1500.8 522.3L1504.0 522.1zM1511.0 516.6L1512.2 519.6L1515.4 519.8L1512.9 521.8L1513.7 524.9L1511.0 523.2L1508.3 524.9L1509.1 521.8L1506.6 519.8L1509.8 519.6zM1516.8 512.1L1518.0 515.0L1521.2 515.2L1518.7 517.3L1519.5 520.4L1516.8 518.7L1514.1 520.4L1514.9 517.3L1512.4 515.2L1515.6 515.0zM1522.6 507.5L1523.8 510.5L1527.0 510.7L1524.5 512.7L1525.3 515.8L1522.6 514.1L1519.9 515.8L1520.7 512.7L1518.2 510.7L1521.4 510.5zM1530.9 515.0L1532.1 518.0L1535.3 518.2L1532.8 520.2L1533.6 523.3L1530.9 521.6L1528.2 523.3L1529.0 520.2L1526.5 518.2L1529.7 518.0zM1537.5 515.8L1538.7 518.8L1541.9 519.0L1539.4 521.0L1540.2 524.1L1537.5 522.4L1534.8 524.1L1535.6 521.0L1533.1 519.0L1536.3 518.8zM1544.1 516.6L1545.3 519.6L1548.5 519.8L1546.0 521.8L1546.8 524.9L1544.1 523.2L1541.4 524.9L1542.2 521.8L1539.7 519.8L1542.9 519.6zM1552.4 515.0L1553.6 518.0L1556.8 518.2L1554.3 520.2L1555.1 523.3L1552.4 521.6L1549.7 523.3L1550.5 520.2L1548.0 518.2L1551.2 518.0zM1559.8 521.6L1561.0 524.6L1564.2 524.8L1561.7 526.8L1562.5 529.9L1559.8 528.2L1557.1 529.9L1557.9 526.8L1555.4 524.8L1558.6 524.6zM1567.3 515.0L1568.5 518.0L1571.7 518.2L1569.2 520.2L1570.0 523.3L1567.3 521.6L1564.6 523.3L1565.4 520.2L1562.9 518.2L1566.1 518.0zM1574.8 521.6L1576.0 524.6L1579.2 524.8L1576.7 526.8L1577.5 529.9L1574.8 528.2L1572.1 529.9L1572.9 526.8L1570.4 524.8L1573.6 524.6zM1582.2 509.2L1583.4 512.2L1586.6 512.4L1584.1 514.4L1584.9 517.5L1582.2 515.8L1579.5 517.5L1580.3 514.4L1577.8 512.4L1581.0 512.2zM1590.5 510.0L1591.7 513.0L1594.9 513.2L1592.4 515.2L1593.2 518.3L1590.5 516.6L1587.8 518.3L1588.6 515.2L1586.1 513.2L1589.3 513.0zM1598.8 514.1L1600.0 517.1L1603.2 517.3L1600.7 519.3L1601.5 522.4L1598.8 520.7L1596.1 522.4L1596.9 519.3L1594.4 517.3L1597.6 517.1zM1605.4 516.2L1606.6 519.2L1609.8 519.4L1607.3 521.4L1608.1 524.5L1605.4 522.8L1602.7 524.5L1603.5 521.4L1601.0 519.4L1604.2 519.2zM1612.0 518.3L1613.2 521.3L1616.4 521.5L1613.9 523.5L1614.7 526.6L1612.0 524.9L1609.3 526.6L1610.1 523.5L1607.6 521.5L1610.8 521.3zM1618.6 518.0L1619.8 521.0L1623.0 521.2L1620.5 523.3L1621.3 526.4L1618.6 524.6L1615.9 526.4L1616.7 523.3L1614.3 521.2L1617.5 521.0zM1625.3 517.8L1626.4 520.7L1629.6 520.9L1627.2 523.0L1628.0 526.1L1625.3 524.4L1622.6 526.1L1623.4 523.0L1620.9 520.9L1624.1 520.7zM1631.9 517.5L1633.1 520.5L1636.3 520.7L1633.8 522.7L1634.6 525.8L1631.9 524.1L1629.2 525.8L1630.0 522.7L1627.5 520.7L1630.7 520.5zM1640.2 518.0L1641.4 521.0L1644.6 521.2L1642.1 523.3L1642.9 526.4L1640.2 524.6L1637.5 526.4L1638.3 523.3L1635.8 521.2L1639.0 521.0zM1648.5 518.6L1649.7 521.5L1652.9 521.7L1650.4 523.8L1651.2 526.9L1648.5 525.2L1645.8 526.9L1646.6 523.8L1644.1 521.7L1647.3 521.5zM1656.8 519.1L1658.0 522.1L1661.2 522.3L1658.7 524.3L1659.5 527.4L1656.8 525.7L1654.1 527.4L1654.9 524.3L1652.4 522.3L1655.6 522.1zM1665.0 520.8L1666.2 523.8L1669.4 524.0L1666.9 526.0L1667.7 529.1L1665.0 527.4L1662.3 529.1L1663.1 526.0L1660.6 524.0L1663.8 523.8z" fill="#800000" stroke="#800000" stroke-width="0.8" stroke-linejoin="round"/>
<rect x="1026.65" y="15.50" width="763.75" height="561.10" fill="none" stroke="#000" stroke-width="3.8"/>
<line x1="1026.65" y1="576.60" x2="1026.65" y2="582.80" stroke="#000" stroke-width="3.8" stroke-linecap="round"/>
<line x1="1085.40" y1="576.60" x2="1085.40" y2="588.40" stroke="#000" stroke-width="3.8" stroke-linecap="round"/>
<line x1="1144.15" y1="576.60" x2="1144.15" y2="582.80" stroke="#000" stroke-width="3.8" stroke-linecap="round"/>
<line x1="1202.90" y1="576.60" x2="1202.90" y2="588.40" stroke="#000" stroke-width="3.8" stroke-linecap="round"/>
<line x1="1261.65" y1="576.60" x2="1261.65" y2="582.80" stroke="#000" stroke-width="3.8" stroke-linecap="round"/>
<line x1="1320.40" y1="576.60" x2="1320.40" y2="588.40" stroke="#000" stroke-width="3.8" stroke-linecap="round"/>
<line x1="1379.15" y1="576.60" x2="1379.15" y2="582.80" stroke="#000" stroke-width="3.8" stroke-linecap="round"/>
<line x1="1437.90" y1="576.60" x2="1437.90" y2="588.40" stroke="#000" stroke-width="3.8" stroke-linecap="round"/>
<line x1="1496.65" y1="576.60" x2="1496.65" y2="582.80" stroke="#000" stroke-width="3.8" stroke-linecap="round"/>
<line x1="1555.40" y1="576.60" x2="1555.40" y2="588.40" stroke="#000" stroke-width="3.8" stroke-linecap="round"/>
<line x1="1614.15" y1="576.60" x2="1614.15" y2="582.80" stroke="#000" stroke-width="3.8" stroke-linecap="round"/>
<line x1="1672.90" y1="576.60" x2="1672.90" y2="588.40" stroke="#000" stroke-width="3.8" stroke-linecap="round"/>
<line x1="1731.65" y1="576.60" x2="1731.65" y2="582.80" stroke="#000" stroke-width="3.8" stroke-linecap="round"/>
<line x1="1790.40" y1="576.60" x2="1790.40" y2="588.40" stroke="#000" stroke-width="3.8" stroke-linecap="round"/>
<line x1="1015.85" y1="576.60" x2="1026.65" y2="576.60" stroke="#000" stroke-width="3.8" stroke-linecap="round"/>
<line x1="1021.45" y1="548.55" x2="1026.65" y2="548.55" stroke="#000" stroke-width="3.8" stroke-linecap="round"/>
<line x1="1015.85" y1="520.49" x2="1026.65" y2="520.49" stroke="#000" stroke-width="3.8" stroke-linecap="round"/>
<line x1="1021.45" y1="492.44" x2="1026.65" y2="492.44" stroke="#000" stroke-width="3.8" stroke-linecap="round"/>
<line x1="1015.85" y1="464.38" x2="1026.65" y2="464.38" stroke="#000" stroke-width="3.8" stroke-linecap="round"/>
<line x1="1021.45" y1="436.33" x2="1026.65" y2="436.33" stroke="#000" stroke-width="3.8" stroke-linecap="round"/>
<line x1="1015.85" y1="408.27" x2="1026.65" y2="408.27" stroke="#000" stroke-width="3.8" stroke-linecap="round"/>
<line x1="1021.45" y1="380.22" x2="1026.65" y2="380.22" stroke="#000" stroke-width="3.8" stroke-linecap="round"/>
<line x1="1015.85" y1="352.16" x2="1026.65" y2="352.16" stroke="#000" stroke-width="3.8" stroke-linecap="round"/>
<line x1="1021.45" y1="324.11" x2="1026.65" y2="324.11" stroke="#000" stroke-width="3.8" stroke-linecap="round"/>
<line x1="1015.85" y1="296.05" x2="1026.65" y2="296.05" stroke="#000" stroke-width="3.8" stroke-linecap="round"/>
<line x1="1021.45" y1="268.00" x2="1026.65" y2="268.00" stroke="#000" stroke-width="3.8" stroke-linecap="round"/>
<line x1="1015.85" y1="239.94" x2="1026.65" y2="239.94" stroke="#000" stroke-width="3.8" stroke-linecap="round"/>
<line x1="1021.45" y1="211.88" x2="1026.65" y2="211.88" stroke="#000" stroke-width="3.8" stroke-linecap="round"/>
<line x1="1015.85" y1="183.83" x2="1026.65" y2="183.83" stroke="#000" stroke-width="3.8" stroke-linecap="round"/>
<line x1="1021.45" y1="155.78" x2="1026.65" y2="155.78" stroke="#000" stroke-width="3.8" stroke-linecap="round"/>
<line x1="1015.85" y1="127.72" x2="1026.65" y2="127.72" stroke="#000" stroke-width="3.8" stroke-linecap="round"/>
<line x1="1021.45" y1="99.66" x2="1026.65" y2="99.66" stroke="#000" stroke-width="3.8" stroke-linecap="round"/>
<line x1="1015.85" y1="71.61" x2="1026.65" y2="71.61" stroke="#000" stroke-width="3.8" stroke-linecap="round"/>
<line x1="1021.45" y1="43.56" x2="1026.65" y2="43.56" stroke="#000" stroke-width="3.8" stroke-linecap="round"/>
<line x1="1015.85" y1="15.50" x2="1026.65" y2="15.50" stroke="#000" stroke-width="3.8" stroke-linecap="round"/>
<text transform="translate(1085.40 618.90) scale(0.985 1)" font-family="'Liberation Sans', Arial, sans-serif" font-size="31" font-weight="bold" text-anchor="middle" fill="#000">0.0</text>
<text transform="translate(1203.40 618.90) scale(0.985 1)" font-family="'Liberation Sans', Arial, sans-serif" font-size="31" font-weight="bold" text-anchor="middle" fill="#000">-<tspan dx="-2.2">0.2</tspan></text>
<text transform="translate(1320.90 618.90) scale(0.985 1)" font-family="'Liberation Sans', Arial, sans-serif" font-size="31" font-weight="bold" text-anchor="middle" fill="#000">-<tspan dx="-2.2">0.4</tspan></text>
<text transform="translate(1438.40 618.90) scale(0.985 1)" font-family="'Liberation Sans', Arial, sans-serif" font-size="31" font-weight="bold" text-anchor="middle" fill="#000">-<tspan dx="-2.2">0.6</tspan></text>
<text transform="translate(1555.90 618.90) scale(0.985 1)" font-family="'Liberation Sans', Arial, sans-serif" font-size="31" font-weight="bold" text-anchor="middle" fill="#000">-<tspan dx="-2.2">0.8</tspan></text>
<text transform="translate(1673.40 618.90) scale(0.985 1)" font-family="'Liberation Sans', Arial, sans-serif" font-size="31" font-weight="bold" text-anchor="middle" fill="#000">-<tspan dx="-2.2">1.0</tspan></text>
<text transform="translate(1790.90 618.90) scale(0.985 1)" font-family="'Liberation Sans', Arial, sans-serif" font-size="31" font-weight="bold" text-anchor="middle" fill="#000">-<tspan dx="-2.2">1.2</tspan></text>
<text transform="translate(1007.6 586.90) scale(0.97 1)" font-family="'Liberation Sans', Arial, sans-serif" font-size="31" font-weight="bold" text-anchor="end" fill="#000">0.5</text>
<text transform="translate(1007.6 530.79) scale(0.97 1)" font-family="'Liberation Sans', Arial, sans-serif" font-size="31" font-weight="bold" text-anchor="end" fill="#000">1.0</text>
<text transform="translate(1007.6 474.68) scale(0.97 1)" font-family="'Liberation Sans', Arial, sans-serif" font-size="31" font-weight="bold" text-anchor="end" fill="#000">1.5</text>
<text transform="translate(1007.6 418.57) scale(0.97 1)" font-family="'Liberation Sans', Arial, sans-serif" font-size="31" font-weight="bold" text-anchor="end" fill="#000">2.0</text>
<text transform="translate(1007.6 362.46) scale(0.97 1)" font-family="'Liberation Sans', Arial, sans-serif" font-size="31" font-weight="bold" text-anchor="end" fill="#000">2.5</text>
<text transform="translate(1007.6 306.35) scale(0.97 1)" font-family="'Liberation Sans', Arial, sans-serif" font-size="31" font-weight="bold" text-anchor="end" fill="#000">3.0</text>
<text transform="translate(1007.6 250.24) scale(0.97 1)" font-family="'Liberation Sans', Arial, sans-serif" font-size="31" font-weight="bold" text-anchor="end" fill="#000">3.5</text>
<text transform="translate(1007.6 194.13) scale(0.97 1)" font-family="'Liberation Sans', Arial, sans-serif" font-size="31" font-weight="bold" text-anchor="end" fill="#000">4.0</text>
<text transform="translate(1007.6 138.02) scale(0.97 1)" font-family="'Liberation Sans', Arial, sans-serif" font-size="31" font-weight="bold" text-anchor="end" fill="#000">4.5</text>
<text transform="translate(1007.6 81.91) scale(0.97 1)" font-family="'Liberation Sans', Arial, sans-serif" font-size="31" font-weight="bold" text-anchor="end" fill="#000">5.0</text>
<text transform="translate(1007.6 25.80) scale(0.97 1)" font-family="'Liberation Sans', Arial, sans-serif" font-size="31" font-weight="bold" text-anchor="end" fill="#000">5.5</text>
<text transform="translate(1407.60 667.20) scale(1.04 1)" font-family="'Liberation Sans', Arial, sans-serif" font-size="35" font-weight="bold" text-anchor="middle" fill="#000">Voltage (V)</text>
<text transform="translate(943.3 320.5) rotate(-90) scale(1.13 1)" font-family="'Liberation Sans', Arial, sans-serif" font-size="31" font-weight="bold" text-anchor="middle" fill="#000">G/G<tspan font-size="27" dy="8">0</tspan><tspan dy="-8" font-size="31"> (n)</tspan></text>
<text transform="translate(1041.5 60) scale(1.055 1)" font-family="'Liberation Sans', Arial, sans-serif" font-size="29" font-weight="bold" fill="#000">Cu/TiO<tspan font-size="27" dy="10">2</tspan><tspan dy="-10" font-size="29">/Pt</tspan></text>
<text transform="translate(1655 52) scale(1.06 1)" font-family="'Liberation Sans', Arial, sans-serif" font-size="29" font-weight="bold" fill="#860808">I<tspan font-size="28" dy="10">C</tspan><tspan dy="-10" font-size="29"> 100</tspan><tspan font-family="'Liberation Serif', serif" font-weight="normal">μ</tspan>A</text>
<text transform="translate(1754.70 548.60) scale(1.0 1)" font-family="'Liberation Sans', Arial, sans-serif" font-size="33" font-weight="bold" text-anchor="middle" fill="#000">(b)</text>
</svg>
</body></html>
